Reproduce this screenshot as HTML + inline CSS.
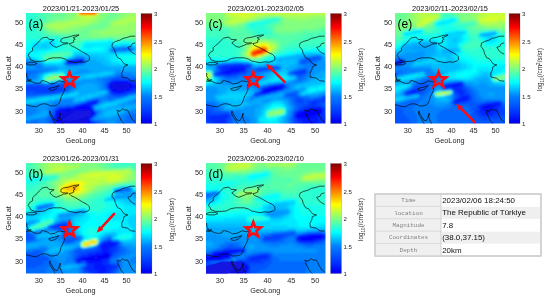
<!DOCTYPE html><html><head><meta charset="utf-8"><title>figure</title><style>html,body{margin:0;padding:0;background:#fff}svg{display:block}text{font-family:"Liberation Sans",sans-serif;fill:#262626}.m{font-family:"Liberation Mono",monospace;fill:#777}</style></head><body>
<svg width="550" height="299" viewBox="0 0 550 299">
<defs><filter id="bl" x="-5%" y="-5%" width="110%" height="110%"><feGaussianBlur stdDeviation="1.3"/></filter><filter id="bl2" x="-10%" y="-10%" width="120%" height="120%"><feGaussianBlur stdDeviation="0.5"/></filter>
<linearGradient id="jet" x1="0" y1="1" x2="0" y2="0">
<stop offset="0" stop-color="#0c0ce0"/>
<stop offset="0.015" stop-color="#0000f5"/>
<stop offset="0.125" stop-color="#0040ff"/>
<stop offset="0.25" stop-color="#0080ff"/>
<stop offset="0.375" stop-color="#00ffff"/>
<stop offset="0.5" stop-color="#80ff80"/>
<stop offset="0.625" stop-color="#ffff00"/>
<stop offset="0.75" stop-color="#ff8000"/>
<stop offset="0.875" stop-color="#ff0000"/>
<stop offset="1" stop-color="#800000"/>
</linearGradient>
<clipPath id="cla"><rect x="0" y="0" width="110" height="110.5"/></clipPath>
<clipPath id="clb"><rect x="0" y="0" width="110" height="110.5"/></clipPath>
<clipPath id="clc"><rect x="0" y="0" width="119.5" height="110.5"/></clipPath>
<clipPath id="cld"><rect x="0" y="0" width="119.5" height="110.5"/></clipPath>
<clipPath id="cle"><rect x="0" y="0" width="110" height="110.5"/></clipPath>
</defs>
<rect width="550" height="299" fill="#fff"/>
<g transform="translate(26,13)" clip-path="url(#cla)">
<g filter="url(#bl)" shape-rendering="crispEdges">
<rect x="-4" y="-4" width="118" height="118.5" fill="#00bdff"/>
<path fill="#0e0ee1" d="M46 106.5H52V108.5H46zM44 108.5H54V114.5H44z"/>
<path fill="#0e0ee1" d="M50 100.5H54V102.5H50zM42 102.5H56V104.5H42zM40 104.5H56V106.5H40zM40 106.5H46V108.5H40zM52 106.5H56V108.5H52zM40 108.5H44V114.5H40zM54 108.5H56V114.5H54z"/>
<path fill="#0d0de2" d="M92 70.32H98V72.33H92zM86 72.33H104V74.34H86zM88 74.34H102V76.35H88zM36 98.45H64V100.5H36zM34 100.5H50V102.5H34zM54 100.5H64V102.5H54zM34 102.5H42V104.5H34zM56 102.5H62V104.5H56zM34 104.5H40V106.5H34zM56 104.5H62V106.5H56zM36 106.5H40V108.5H36zM56 106.5H60V108.5H56zM38 108.5H40V114.5H38zM56 108.5H60V114.5H56z"/>
<path fill="#0909ec" d="M86 70.32H92V72.33H86zM98 70.32H104V72.33H98zM84 72.33H86V74.34H84zM86 74.34H88V76.35H86zM102 74.34H104V76.35H102zM90 76.35H100V78.35H90zM44 96.44H64V98.45H44zM32 98.45H36V100.5H32zM64 98.45H66V100.5H64zM32 100.5H34V102.5H32zM64 100.5H66V102.5H64zM32 102.5H34V104.5H32zM62 102.5H64V104.5H62zM32 104.5H34V106.5H32zM34 106.5H36V108.5H34zM60 106.5H62V108.5H60zM34 108.5H38V114.5H34zM60 108.5H62V114.5H60z"/>
<path fill="#0404f5" d="M84 70.32H86V72.33H84zM104 72.33H106V74.34H104zM84 74.34H86V76.35H84zM104 74.34H106V76.35H104zM86 76.35H90V78.35H86zM100 76.35H102V78.35H100zM34 96.44H44V98.45H34zM64 96.44H66V98.45H64zM66 98.45H68V100.5H66zM30 100.5H32V102.5H30zM66 100.5H68V102.5H66zM30 102.5H32V104.5H30zM62 104.5H64V106.5H62zM32 106.5H34V108.5H32z"/>
<path fill="#0000ff" d="M54 46.21H56V48.22H54zM42 48.22H54V50.23H42zM88 68.31H102V70.32H88zM104 70.32H106V72.33H104zM102 76.35H104V78.35H102zM90 78.35H98V80.36H90zM54 92.42H60V94.43H54zM48 94.43H64V96.44H48zM32 96.44H34V98.45H32zM30 98.45H32V100.5H30zM64 102.5H66V104.5H64zM30 104.5H32V106.5H30zM30 106.5H32V108.5H30zM62 106.5H64V108.5H62zM32 108.5H34V114.5H32zM62 108.5H64V114.5H62z"/>
<path fill="#0015ff" d="M50 46.21H54V48.22H50zM56 46.21H58V48.22H56zM40 48.22H42V50.23H40zM54 48.22H58V50.23H54zM86 68.31H88V70.32H86zM102 68.31H104V70.32H102zM106 70.32H108V72.33H106zM82 72.33H84V74.34H82zM106 72.33H114V74.34H106zM82 74.34H84V76.35H82zM106 74.34H114V76.35H106zM84 76.35H86V78.35H84zM104 76.35H106V78.35H104zM86 78.35H90V80.36H86zM98 78.35H100V80.36H98zM66 88.4H72V90.41H66zM58 90.41H68V92.42H58zM50 92.42H54V94.43H50zM60 92.42H64V94.43H60zM40 94.43H48V96.44H40zM64 94.43H66V96.44H64zM66 96.44H68V98.45H66zM30 108.5H32V114.5H30zM64 108.5H66V114.5H64z"/>
<path fill="#002aff" d="M46 46.21H50V48.22H46zM40 50.23H46V52.24H40zM84 68.31H86V70.32H84zM104 68.31H106V70.32H104zM82 70.32H84V72.33H82zM108 70.32H114V72.33H108zM106 76.35H108V78.35H106zM84 78.35H86V80.36H84zM100 78.35H104V80.36H100zM88 80.36H96V82.37H88zM62 88.4H66V90.41H62zM56 90.41H58V92.42H56zM68 90.41H70V92.42H68zM48 92.42H50V94.43H48zM64 92.42H66V94.43H64zM34 94.43H40V96.44H34zM30 96.44H32V98.45H30zM68 98.45H70V100.5H68zM28 100.5H30V102.5H28zM68 100.5H70V102.5H68zM28 102.5H30V104.5H28zM28 104.5H30V106.5H28zM28 106.5H30V108.5H28zM28 108.5H30V114.5H28zM66 108.5H68V114.5H66z"/>
<path fill="#0040ff" d="M44 46.21H46V48.22H44zM46 50.23H50V52.24H46zM86 66.3H104V68.31H86zM106 68.31H114V70.32H106zM-4 72.33H16V74.34H-4zM-4 74.34H38V76.35H-4zM-4 76.35H38V78.35H-4zM82 76.35H84V78.35H82zM108 76.35H114V78.35H108zM8 78.35H34V80.36H8zM104 78.35H114V80.36H104zM84 80.36H88V82.37H84zM96 80.36H102V82.37H96zM68 86.39H72V88.4H68zM60 88.4H62V90.41H60zM54 90.41H56V92.42H54zM70 90.41H72V92.42H70zM32 94.43H34V96.44H32zM28 98.45H30V100.5H28zM66 102.5H68V104.5H66zM26 104.5H28V106.5H26zM26 106.5H28V108.5H26zM64 106.5H66V108.5H64zM26 108.5H28V114.5H26zM68 108.5H70V114.5H68z"/>
<path fill="#0055ff" d="M42 46.21H44V48.22H42zM50 50.23H52V52.24H50zM88 64.29H100V66.3H88zM84 66.3H86V68.31H84zM104 66.3H114V68.31H104zM82 68.31H84V70.32H82zM34 70.32H42V72.33H34zM80 70.32H82V72.33H80zM16 72.33H44V74.34H16zM80 72.33H82V74.34H80zM38 74.34H44V76.35H38zM80 74.34H82V76.35H80zM38 76.35H42V78.35H38zM-4 78.35H8V80.36H-4zM34 78.35H38V80.36H34zM-4 80.36H28V82.37H-4zM102 80.36H106V82.37H102zM86 82.37H100V84.38H86zM66 86.39H68V88.4H66zM72 88.4H74V90.41H72zM52 90.41H54V92.42H52zM40 92.42H48V94.43H40zM66 92.42H68V94.43H66zM30 94.43H32V96.44H30zM66 94.43H68V96.44H66zM28 96.44H30V98.45H28zM26 100.5H28V102.5H26zM26 102.5H28V104.5H26zM24 104.5H26V106.5H24zM64 104.5H66V106.5H64zM24 106.5H26V108.5H24zM66 106.5H68V108.5H66zM24 108.5H26V114.5H24zM70 108.5H72V114.5H70z"/>
<path fill="#006aff" d="M98 34.15H106V36.16H98zM86 36.16H106V38.17H86zM54 44.2H58V46.21H54zM52 50.23H56V52.24H52zM-4 58.26H12V60.27H-4zM-4 60.27H6V62.28H-4zM-4 62.28H2V64.29H-4zM90 62.28H98V64.29H90zM-4 64.29H4V66.3H-4zM82 64.29H88V66.3H82zM100 64.29H114V66.3H100zM78 66.3H84V68.31H78zM38 68.31H44V70.32H38zM78 68.31H82V70.32H78zM2 70.32H18V72.33H2zM24 70.32H34V72.33H24zM42 70.32H46V72.33H42zM78 70.32H80V72.33H78zM44 72.33H46V74.34H44zM78 72.33H80V74.34H78zM44 74.34H46V76.35H44zM78 74.34H80V76.35H78zM42 76.35H44V78.35H42zM38 78.35H42V80.36H38zM82 78.35H84V80.36H82zM28 80.36H30V82.37H28zM82 80.36H84V82.37H82zM106 80.36H108V82.37H106zM-4 82.37H12V84.38H-4zM80 82.37H86V84.38H80zM100 82.37H102V84.38H100zM82 84.38H94V86.39H82zM64 86.39H66V88.4H64zM72 86.39H74V88.4H72zM82 86.39H86V88.4H82zM58 88.4H60V90.41H58zM50 90.41H52V92.42H50zM32 92.42H40V94.43H32zM28 94.43H30V96.44H28zM26 96.44H28V98.45H26zM24 98.45H28V100.5H24zM70 98.45H72V100.5H70zM24 100.5H26V102.5H24zM104 100.5H114V102.5H104zM22 102.5H26V104.5H22zM100 102.5H114V104.5H100zM20 104.5H24V106.5H20zM100 104.5H114V106.5H100zM6 106.5H12V108.5H6zM20 106.5H24V108.5H20zM68 106.5H74V108.5H68zM98 106.5H114V108.5H98zM-4 108.5H12V114.5H-4zM20 108.5H24V114.5H20zM72 108.5H76V114.5H72zM98 108.5H114V114.5H98z"/>
<path fill="#0080ff" d="M90 34.15H98V36.16H90zM106 34.15H108V36.16H106zM84 36.16H86V38.17H84zM106 36.16H108V38.17H106zM50 44.2H54V46.21H50zM40 46.21H42V48.22H40zM58 46.21H60V48.22H58zM-4 48.22H6V50.23H-4zM58 48.22H60V50.23H58zM2 50.23H14V52.24H2zM56 50.23H58V52.24H56zM8 52.24H16V54.25H8zM10 54.25H16V56.25H10zM-4 56.25H26V58.26H-4zM12 58.26H18V60.27H12zM6 60.27H12V62.28H6zM90 60.27H106V62.28H90zM2 62.28H10V64.29H2zM86 62.28H90V64.29H86zM98 62.28H114V64.29H98zM4 64.29H10V66.3H4zM76 64.29H82V66.3H76zM70 66.3H78V68.31H70zM34 68.31H38V70.32H34zM44 68.31H48V70.32H44zM74 68.31H78V70.32H74zM-4 70.32H2V72.33H-4zM18 70.32H24V72.33H18zM46 70.32H50V72.33H46zM74 70.32H78V72.33H74zM46 72.33H48V74.34H46zM76 72.33H78V74.34H76zM46 74.34H48V76.35H46zM76 74.34H78V76.35H76zM44 76.35H48V78.35H44zM80 76.35H82V78.35H80zM42 78.35H44V80.36H42zM30 80.36H34V82.37H30zM108 80.36H114V82.37H108zM12 82.37H18V84.38H12zM78 82.37H80V84.38H78zM-4 84.38H2V86.39H-4zM70 84.38H82V86.39H70zM94 84.38H96V86.39H94zM36 86.39H46V88.4H36zM62 86.39H64V88.4H62zM74 86.39H82V88.4H74zM86 86.39H88V88.4H86zM108 86.39H114V88.4H108zM28 88.4H46V90.41H28zM56 88.4H58V90.41H56zM74 88.4H76V90.41H74zM104 88.4H114V90.41H104zM26 90.41H50V92.42H26zM-4 92.42H6V94.43H-4zM24 92.42H32V94.43H24zM-4 94.43H8V96.44H-4zM22 94.43H28V96.44H22zM-4 96.44H12V98.45H-4zM22 96.44H26V98.45H22zM68 96.44H70V98.45H68zM108 96.44H114V98.45H108zM-4 98.45H10V100.5H-4zM22 98.45H24V100.5H22zM72 98.45H74V100.5H72zM100 98.45H114V100.5H100zM-4 100.5H6V102.5H-4zM22 100.5H24V102.5H22zM70 100.5H72V102.5H70zM96 100.5H104V102.5H96zM20 102.5H22V104.5H20zM68 102.5H70V104.5H68zM92 102.5H100V104.5H92zM10 104.5H20V106.5H10zM66 104.5H68V106.5H66zM92 104.5H100V106.5H92zM-4 106.5H6V108.5H-4zM12 106.5H20V108.5H12zM74 106.5H80V108.5H74zM90 106.5H98V108.5H90zM12 108.5H20V114.5H12zM76 108.5H80V114.5H76zM90 108.5H98V114.5H90z"/>
<path fill="#0095ff" d="M86 34.15H90V36.16H86zM86 38.17H92V40.18H86zM48 44.2H50V46.21H48zM-4 46.21H4V48.22H-4zM6 48.22H12V50.23H6zM38 48.22H40V50.23H38zM-4 50.23H2V52.24H-4zM14 50.23H16V52.24H14zM38 50.23H40V52.24H38zM58 50.23H60V52.24H58zM-4 52.24H8V54.25H-4zM16 52.24H18V54.25H16zM40 52.24H54V54.25H40zM-4 54.25H10V56.25H-4zM16 54.25H32V56.25H16zM26 56.25H32V58.26H26zM52 56.25H62V58.26H52zM90 56.25H94V58.26H90zM18 58.26H22V60.27H18zM48 58.26H66V60.27H48zM90 58.26H114V60.27H90zM12 60.27H16V62.28H12zM46 60.27H56V62.28H46zM88 60.27H90V62.28H88zM106 60.27H114V62.28H106zM10 62.28H12V64.29H10zM46 62.28H48V64.29H46zM82 62.28H86V64.29H82zM10 64.29H12V66.3H10zM44 64.29H46V66.3H44zM70 64.29H76V66.3H70zM-4 66.3H8V68.31H-4zM38 66.3H48V68.31H38zM56 66.3H70V68.31H56zM32 68.31H34V70.32H32zM48 68.31H74V70.32H48zM50 70.32H58V72.33H50zM68 70.32H74V72.33H68zM48 72.33H54V74.34H48zM72 72.33H76V74.34H72zM48 74.34H52V76.35H48zM72 74.34H76V76.35H72zM48 76.35H50V78.35H48zM72 76.35H80V78.35H72zM44 78.35H46V80.36H44zM34 80.36H36V82.37H34zM80 80.36H82V82.37H80zM18 82.37H22V84.38H18zM74 82.37H78V84.38H74zM102 82.37H104V84.38H102zM2 84.38H8V86.39H2zM44 84.38H48V86.39H44zM68 84.38H70V86.39H68zM96 84.38H98V86.39H96zM30 86.39H36V88.4H30zM46 86.39H48V88.4H46zM60 86.39H62V88.4H60zM88 86.39H90V88.4H88zM106 86.39H108V88.4H106zM22 88.4H28V90.41H22zM46 88.4H48V90.41H46zM52 88.4H56V90.41H52zM76 88.4H80V90.41H76zM100 88.4H104V90.41H100zM8 90.41H26V92.42H8zM72 90.41H74V92.42H72zM96 90.41H108V92.42H96zM6 92.42H24V94.43H6zM68 92.42H70V94.43H68zM94 92.42H100V94.43H94zM8 94.43H22V96.44H8zM12 96.44H22V98.45H12zM70 96.44H76V98.45H70zM104 96.44H108V98.45H104zM10 98.45H16V100.5H10zM74 98.45H76V100.5H74zM98 98.45H100V100.5H98zM6 100.5H10V102.5H6zM72 100.5H74V102.5H72zM92 100.5H96V102.5H92zM-4 102.5H4V104.5H-4zM16 102.5H20V104.5H16zM70 102.5H72V104.5H70zM86 102.5H92V104.5H86zM4 104.5H10V106.5H4zM68 104.5H92V106.5H68zM80 106.5H90V108.5H80zM80 108.5H90V114.5H80z"/>
<path fill="#00aaff" d="M84 34.15H86V36.16H84zM84 38.17H86V40.18H84zM92 38.17H100V40.18H92zM50 42.19H58V44.2H50zM46 44.2H48V46.21H46zM58 44.2H64V46.21H58zM4 46.21H8V48.22H4zM60 46.21H70V48.22H60zM12 48.22H14V50.23H12zM60 48.22H74V50.23H60zM16 50.23H18V52.24H16zM60 50.23H76V52.24H60zM18 52.24H30V54.25H18zM38 52.24H40V54.25H38zM54 52.24H80V54.25H54zM32 54.25H114V56.25H32zM40 56.25H52V58.26H40zM62 56.25H90V58.26H62zM94 56.25H114V58.26H94zM22 58.26H24V60.27H22zM42 58.26H48V60.27H42zM66 58.26H76V60.27H66zM88 58.26H90V60.27H88zM42 60.27H46V62.28H42zM56 60.27H62V62.28H56zM12 62.28H14V64.29H12zM42 62.28H46V64.29H42zM78 62.28H82V64.29H78zM12 64.29H14V66.3H12zM40 64.29H44V66.3H40zM46 64.29H48V66.3H46zM66 64.29H70V66.3H66zM8 66.3H12V68.31H8zM36 66.3H38V68.31H36zM48 66.3H56V68.31H48zM-4 68.31H14V70.32H-4zM28 68.31H32V70.32H28zM58 70.32H68V72.33H58zM54 72.33H72V74.34H54zM52 74.34H72V76.35H52zM50 76.35H72V78.35H50zM46 78.35H48V80.36H46zM52 78.35H70V80.36H52zM80 78.35H82V80.36H80zM36 80.36H40V82.37H36zM54 80.36H62V82.37H54zM78 80.36H80V82.37H78zM22 82.37H26V84.38H22zM52 82.37H56V84.38H52zM72 82.37H74V84.38H72zM104 82.37H108V84.38H104zM8 84.38H12V86.39H8zM38 84.38H44V86.39H38zM48 84.38H50V86.39H48zM64 84.38H68V86.39H64zM98 84.38H100V86.39H98zM108 84.38H114V86.39H108zM28 86.39H30V88.4H28zM58 86.39H60V88.4H58zM90 86.39H92V88.4H90zM102 86.39H106V88.4H102zM18 88.4H22V90.41H18zM48 88.4H52V90.41H48zM80 88.4H86V90.41H80zM98 88.4H100V90.41H98zM2 90.41H8V92.42H2zM74 90.41H76V92.42H74zM92 90.41H96V92.42H92zM108 90.41H114V92.42H108zM70 92.42H72V94.43H70zM88 92.42H94V94.43H88zM100 92.42H114V94.43H100zM68 94.43H70V96.44H68zM80 94.43H100V96.44H80zM102 94.43H114V96.44H102zM76 96.44H86V98.45H76zM98 96.44H104V98.45H98zM16 98.45H22V100.5H16zM76 98.45H80V100.5H76zM94 98.45H98V100.5H94zM10 100.5H22V102.5H10zM74 100.5H78V102.5H74zM88 100.5H92V102.5H88zM4 102.5H16V104.5H4zM72 102.5H86V104.5H72zM-4 104.5H4V106.5H-4z"/>
<path fill="#00bfff" d="M16 32.15H20V34.15H16zM94 32.15H106V34.15H94zM108 34.15H114V36.16H108zM82 36.16H84V38.17H82zM108 36.16H114V38.17H108zM100 38.17H106V40.18H100zM54 40.18H56V42.19H54zM48 42.19H50V44.2H48zM58 42.19H72V44.2H58zM-4 44.2H4V46.21H-4zM44 44.2H46V46.21H44zM64 44.2H78V46.21H64zM8 46.21H10V48.22H8zM70 46.21H80V48.22H70zM14 48.22H16V50.23H14zM74 48.22H82V50.23H74zM36 50.23H38V52.24H36zM76 50.23H84V52.24H76zM30 52.24H38V54.25H30zM80 52.24H114V54.25H80zM32 56.25H40V58.26H32zM24 58.26H28V60.27H24zM38 58.26H42V60.27H38zM76 58.26H88V60.27H76zM16 60.27H18V62.28H16zM40 60.27H42V62.28H40zM62 60.27H72V62.28H62zM84 60.27H88V62.28H84zM14 62.28H16V64.29H14zM40 62.28H42V64.29H40zM48 62.28H60V64.29H48zM70 62.28H78V64.29H70zM14 64.29H16V66.3H14zM48 64.29H50V66.3H48zM54 64.29H66V66.3H54zM12 66.3H16V68.31H12zM14 68.31H18V70.32H14zM26 68.31H28V70.32H26zM48 78.35H52V80.36H48zM70 78.35H80V80.36H70zM40 80.36H44V82.37H40zM52 80.36H54V82.37H52zM62 80.36H78V82.37H62zM26 82.37H32V84.38H26zM48 82.37H52V84.38H48zM56 82.37H62V84.38H56zM66 82.37H72V84.38H66zM108 82.37H114V84.38H108zM12 84.38H16V86.39H12zM32 84.38H38V86.39H32zM50 84.38H56V86.39H50zM58 84.38H64V86.39H58zM100 84.38H108V86.39H100zM-4 86.39H4V88.4H-4zM22 86.39H28V88.4H22zM48 86.39H58V88.4H48zM92 86.39H102V88.4H92zM10 88.4H18V90.41H10zM86 88.4H90V90.41H86zM92 88.4H98V90.41H92zM-4 90.41H2V92.42H-4zM76 90.41H80V92.42H76zM88 90.41H92V92.42H88zM72 92.42H76V94.43H72zM82 92.42H88V94.43H82zM70 94.43H80V96.44H70zM100 94.43H102V96.44H100zM86 96.44H98V98.45H86zM80 98.45H94V100.5H80zM78 100.5H88V102.5H78z"/>
<path fill="#00d4ff" d="M20 28.13H28V30.14H20zM8 30.14H28V32.15H8zM8 32.15H16V34.15H8zM20 32.15H28V34.15H20zM84 32.15H94V34.15H84zM106 32.15H114V34.15H106zM8 34.15H24V36.16H8zM82 34.15H84V36.16H82zM80 38.17H84V40.18H80zM106 38.17H114V40.18H106zM48 40.18H54V42.19H48zM56 40.18H92V42.19H56zM46 42.19H48V44.2H46zM72 42.19H84V44.2H72zM4 44.2H6V46.21H4zM42 44.2H44V46.21H42zM78 44.2H84V46.21H78zM10 46.21H12V48.22H10zM38 46.21H40V48.22H38zM80 46.21H84V48.22H80zM16 48.22H18V50.23H16zM36 48.22H38V50.23H36zM82 48.22H86V50.23H82zM18 50.23H36V52.24H18zM84 50.23H94V52.24H84zM28 58.26H32V60.27H28zM34 58.26H38V60.27H34zM18 60.27H20V62.28H18zM38 60.27H40V62.28H38zM72 60.27H84V62.28H72zM16 62.28H18V64.29H16zM60 62.28H70V64.29H60zM38 64.29H40V66.3H38zM50 64.29H54V66.3H50zM34 66.3H36V68.31H34zM24 68.31H26V70.32H24zM44 80.36H52V82.37H44zM32 82.37H48V84.38H32zM62 82.37H66V84.38H62zM16 84.38H32V86.39H16zM56 84.38H58V86.39H56zM4 86.39H22V88.4H4zM-4 88.4H10V90.41H-4zM90 88.4H92V90.41H90zM80 90.41H88V92.42H80zM76 92.42H82V94.43H76z"/>
<path fill="#00eaff" d="M10 28.13H20V30.14H10zM28 28.13H30V30.14H28zM82 28.13H86V30.14H82zM6 30.14H8V32.15H6zM28 30.14H30V32.15H28zM58 30.14H88V32.15H58zM94 30.14H104V32.15H94zM6 32.15H8V34.15H6zM28 32.15H30V34.15H28zM58 32.15H84V34.15H58zM6 34.15H8V36.16H6zM24 34.15H28V36.16H24zM58 34.15H66V36.16H58zM78 34.15H82V36.16H78zM6 36.16H22V38.17H6zM76 36.16H82V38.17H76zM6 38.17H12V40.18H6zM48 38.17H80V40.18H48zM-4 40.18H4V42.19H-4zM92 40.18H114V42.19H92zM-4 42.19H6V44.2H-4zM84 42.19H92V44.2H84zM6 44.2H10V46.21H6zM84 44.2H90V46.21H84zM12 46.21H14V48.22H12zM84 46.21H90V48.22H84zM34 48.22H36V50.23H34zM86 48.22H94V50.23H86zM94 50.23H114V52.24H94zM32 58.26H34V60.27H32zM20 60.27H22V62.28H20zM16 64.29H18V66.3H16zM16 66.3H18V68.31H16z"/>
<path fill="#00ffff" d="M18 26.12H28V28.13H18zM6 28.13H10V30.14H6zM30 28.13H32V30.14H30zM64 28.13H82V30.14H64zM86 28.13H88V30.14H86zM4 30.14H6V32.15H4zM30 30.14H32V32.15H30zM56 30.14H58V32.15H56zM88 30.14H94V32.15H88zM104 30.14H114V32.15H104zM-4 32.15H6V34.15H-4zM30 32.15H32V34.15H30zM56 32.15H58V34.15H56zM-4 34.15H6V36.16H-4zM28 34.15H32V36.16H28zM56 34.15H58V36.16H56zM66 34.15H78V36.16H66zM-4 36.16H6V38.17H-4zM22 36.16H28V38.17H22zM52 36.16H76V38.17H52zM-4 38.17H6V40.18H-4zM12 38.17H20V40.18H12zM46 38.17H48V40.18H46zM4 40.18H14V42.19H4zM46 40.18H48V42.19H46zM6 42.19H12V44.2H6zM92 42.19H114V44.2H92zM10 44.2H14V46.21H10zM40 44.2H42V46.21H40zM90 44.2H96V46.21H90zM14 46.21H16V48.22H14zM36 46.21H38V48.22H36zM90 46.21H100V48.22H90zM102 46.21H114V48.22H102zM18 48.22H34V50.23H18zM94 48.22H114V50.23H94zM22 60.27H24V62.28H22zM18 62.28H20V64.29H18zM38 62.28H40V64.29H38zM32 66.3H34V68.31H32zM18 68.31H24V70.32H18z"/>
<path fill="#15ffea" d="M-4 26.12H18V28.13H-4zM28 26.12H34V28.13H28zM82 26.12H86V28.13H82zM-4 28.13H6V30.14H-4zM32 28.13H36V30.14H32zM58 28.13H64V30.14H58zM94 28.13H104V30.14H94zM-4 30.14H4V32.15H-4zM32 30.14H38V32.15H32zM32 32.15H38V34.15H32zM32 34.15H38V36.16H32zM54 34.15H56V36.16H54zM28 36.16H34V38.17H28zM42 36.16H52V38.17H42zM20 38.17H26V40.18H20zM14 40.18H18V42.19H14zM12 42.19H16V44.2H12zM44 42.19H46V44.2H44zM14 44.2H16V46.21H14zM38 44.2H40V46.21H38zM96 44.2H114V46.21H96zM16 46.21H18V48.22H16zM32 46.21H36V48.22H32zM100 46.21H102V48.22H100zM24 60.27H26V62.28H24z"/>
<path fill="#2bffd4" d="M-4 -4H10V2.009H-4zM-4 2.009H10V4.018H-4zM-4 4.018H10V6.027H-4zM-4 6.027H10V8.036H-4zM-4 8.036H10V10.05H-4zM-4 10.05H10V12.05H-4zM-4 12.05H10V14.06H-4zM-4 14.06H10V16.07H-4zM-4 16.07H10V18.08H-4zM-4 18.08H12V20.09H-4zM-4 20.09H14V22.1H-4zM-4 22.1H18V24.11H-4zM-4 24.11H36V26.12H-4zM34 26.12H40V28.13H34zM72 26.12H82V28.13H72zM86 26.12H88V28.13H86zM36 28.13H42V30.14H36zM56 28.13H58V30.14H56zM88 28.13H94V30.14H88zM104 28.13H114V30.14H104zM38 30.14H44V32.15H38zM54 30.14H56V32.15H54zM38 32.15H50V34.15H38zM52 32.15H56V34.15H52zM38 34.15H54V36.16H38zM34 36.16H42V38.17H34zM26 38.17H40V40.18H26zM44 38.17H46V40.18H44zM18 40.18H22V42.19H18zM16 42.19H18V44.2H16zM42 42.19H44V44.2H42zM16 44.2H18V46.21H16zM36 44.2H38V46.21H36zM28 46.21H32V48.22H28zM26 60.27H34V62.28H26zM20 62.28H22V64.29H20zM36 64.29H38V66.3H36zM30 66.3H32V68.31H30z"/>
<path fill="#40ffbf" d="M10 -4H18V2.009H10zM10 2.009H18V4.018H10zM10 4.018H18V6.027H10zM10 6.027H18V8.036H10zM10 8.036H16V10.05H10zM10 10.05H16V12.05H10zM10 12.05H16V14.06H10zM10 14.06H16V16.07H10zM10 16.07H16V18.08H10zM12 18.08H18V20.09H12zM14 20.09H20V22.1H14zM18 22.1H36V24.11H18zM36 24.11H44V26.12H36zM40 26.12H48V28.13H40zM58 26.12H72V28.13H58zM94 26.12H114V28.13H94zM42 28.13H50V30.14H42zM54 28.13H56V30.14H54zM44 30.14H54V32.15H44zM50 32.15H52V34.15H50zM40 38.17H44V40.18H40zM22 40.18H28V42.19H22zM42 40.18H46V42.19H42zM18 42.19H20V44.2H18zM38 42.19H42V44.2H38zM34 44.2H36V46.21H34zM18 46.21H28V48.22H18zM34 60.27H38V62.28H34zM22 62.28H24V64.29H22zM18 64.29H20V66.3H18z"/>
<path fill="#55ffaa" d="M18 -4H26V2.009H18zM18 2.009H26V4.018H18zM18 4.018H24V6.027H18zM18 6.027H22V8.036H18zM16 8.036H20V10.05H16zM16 10.05H18V12.05H16zM16 14.06H18V16.07H16zM16 16.07H20V18.08H16zM18 18.08H22V20.09H18zM20 20.09H30V22.1H20zM36 22.1H50V24.11H36zM44 24.11H54V26.12H44zM82 24.11H86V26.12H82zM48 26.12H58V28.13H48zM88 26.12H94V28.13H88zM50 28.13H54V30.14H50zM28 40.18H42V42.19H28zM20 42.19H38V44.2H20zM18 44.2H34V46.21H18zM34 64.29H36V66.3H34zM18 66.3H20V68.31H18zM28 66.3H30V68.31H28z"/>
<path fill="#6aff95" d="M26 -4H40V2.009H26zM82 -4H90V2.009H82zM26 2.009H40V4.018H26zM82 2.009H90V4.018H82zM24 4.018H38V6.027H24zM80 4.018H88V6.027H80zM22 6.027H30V8.036H22zM80 6.027H84V8.036H80zM20 8.036H24V10.05H20zM76 8.036H82V10.05H76zM72 10.05H82V12.05H72zM16 12.05H18V14.06H16zM66 12.05H82V14.06H66zM60 14.06H76V16.07H60zM20 16.07H22V18.08H20zM56 16.07H64V18.08H56zM22 18.08H26V20.09H22zM48 18.08H62V20.09H48zM30 20.09H62V22.1H30zM50 22.1H64V24.11H50zM54 24.11H82V26.12H54zM86 24.11H114V26.12H86zM24 62.28H28V64.29H24zM36 62.28H38V64.29H36zM20 64.29H22V66.3H20zM20 66.3H22V68.31H20zM26 66.3H28V68.31H26z"/>
<path fill="#80ff80" d="M40 -4H48V2.009H40zM74 -4H82V2.009H74zM90 -4H100V2.009H90zM40 2.009H48V4.018H40zM74 2.009H82V4.018H74zM90 2.009H98V4.018H90zM38 4.018H46V6.027H38zM74 4.018H80V6.027H74zM88 4.018H94V6.027H88zM30 6.027H44V8.036H30zM72 6.027H80V8.036H72zM84 6.027H90V8.036H84zM24 8.036H30V10.05H24zM70 8.036H76V10.05H70zM82 8.036H86V10.05H82zM18 10.05H22V12.05H18zM64 10.05H72V12.05H64zM82 10.05H84V12.05H82zM56 12.05H66V14.06H56zM82 12.05H84V14.06H82zM18 14.06H22V16.07H18zM48 14.06H60V16.07H48zM76 14.06H84V16.07H76zM22 16.07H28V18.08H22zM42 16.07H56V18.08H42zM64 16.07H80V18.08H64zM26 18.08H48V20.09H26zM62 18.08H74V20.09H62zM108 18.08H114V20.09H108zM62 20.09H74V22.1H62zM98 20.09H114V22.1H98zM64 22.1H114V24.11H64zM28 62.28H36V64.29H28zM22 64.29H24V66.3H22zM32 64.29H34V66.3H32zM22 66.3H26V68.31H22z"/>
<path fill="#95ff6a" d="M48 -4H52V2.009H48zM72 -4H74V2.009H72zM100 -4H108V2.009H100zM48 2.009H52V4.018H48zM72 2.009H74V4.018H72zM98 2.009H104V4.018H98zM46 4.018H52V6.027H46zM70 4.018H74V6.027H70zM94 4.018H100V6.027H94zM44 6.027H50V8.036H44zM68 6.027H72V8.036H68zM90 6.027H96V8.036H90zM30 8.036H40V10.05H30zM64 8.036H70V10.05H64zM86 8.036H90V10.05H86zM108 8.036H114V10.05H108zM22 10.05H26V12.05H22zM60 10.05H64V12.05H60zM84 10.05H86V12.05H84zM100 10.05H114V12.05H100zM18 12.05H22V14.06H18zM44 12.05H56V14.06H44zM84 12.05H114V14.06H84zM22 14.06H30V16.07H22zM36 14.06H48V16.07H36zM84 14.06H114V16.07H84zM28 16.07H42V18.08H28zM80 16.07H114V18.08H80zM74 18.08H108V20.09H74zM74 20.09H98V22.1H74zM24 64.29H32V66.3H24z"/>
<path fill="#aaff55" d="M108 -4H114V2.009H108zM52 2.009H54V4.018H52zM70 2.009H72V4.018H70zM104 2.009H114V4.018H104zM52 4.018H60V6.027H52zM62 4.018H70V6.027H62zM100 4.018H114V6.027H100zM50 6.027H68V8.036H50zM96 6.027H114V8.036H96zM40 8.036H64V10.05H40zM90 8.036H108V10.05H90zM26 10.05H60V12.05H26zM86 10.05H100V12.05H86zM22 12.05H44V14.06H22zM30 14.06H36V16.07H30z"/>
<path fill="#bfff40" d="M54 2.009H58V4.018H54zM66 2.009H70V4.018H66zM60 4.018H62V6.027H60z"/>
<path fill="#d5ff2a" d="M58 2.009H66V4.018H58z"/>
<path fill="#ffd500" d="M52 -4H54V2.009H52zM70 -4H72V2.009H70z"/>
<path fill="#ff6a00" d="M54 -4H70V2.009H54z"/>
</g>
<polygon points="48,98 65,97.4 65,103 46.5,108.2 34,107.6" fill="#1212e2" filter="url(#bl2)"/>
<path d="M8.8 48.4L4.4 46.6L4.0 44.8L2.2 42.6L3.6 39.6L6.6 37.8L6.6 34.7L8.8 32.5L11.4 30.3L13.6 27.6L16.3 25.0L21.1 24.1L22.9 26.3L28.1 26.8L25.9 28.1L23.7 29.9L27.7 33.4L30.3 34.3L35.6 32.1L37.3 31.2L41.3 30.7L42.1 29.9L36.9 29.9L34.7 28.5L35.1 26.3L37.3 25.0L42.6 24.1L47.9 22.4L53.1 21.9L50.0 23.7L47.0 24.6L49.2 26.3L47.4 27.2L47.9 29.0L46.1 29.9L43.0 30.7L44.8 32.5L48.7 34.3L53.1 36.9L56.6 39.1L61.0 41.3L63.2 43.5L63.6 46.6L61.9 47.9L57.9 49.3L54.4 48.8L49.6 49.7L45.7 48.8L41.7 47.9L39.5 46.2L35.1 44.8L30.3 44.8L27.2 44.8L22.9 45.7L18.9 47.9L14.1 48.4L8.8 48.4M-0.4 51.0L2.2 51.9L7.9 51.9L11.0 50.4L8.4 49.3L4.0 49.3L1.4 50.1L-0.4 50.8M109.3 23.2L104.9 23.2L100.5 24.6L97.0 25.4L93.9 27.2L89.5 28.5L86.4 30.3L86.0 33.4L88.6 36.9L89.5 40.4L91.7 44.8L94.3 45.7L97.0 49.3L98.3 51.0L101.8 51.9L97.9 53.7L97.4 56.7L95.7 60.3L96.1 64.2L101.4 65.1L104.9 67.8L109.3 68.2M109.3 29.9L106.2 30.7L104.9 33.4L101.8 34.3L104.4 38.2L106.2 39.6L109.3 41.3M-0.4 68.2L4.9 68.2L8.8 70.0L11.4 70.4L14.5 70.0L15.4 67.8L17.1 67.6L21.5 69.1L24.2 70.9L28.6 70.4L32.9 67.8L37.3 68.7L40.0 67.8L39.1 70.0L38.2 72.2L38.6 75.7L38.2 77.9L36.9 80.6L35.1 84.1L34.3 87.6L32.5 91.1L31.2 92.0L28.1 92.9L24.2 92.9L22.9 92.0L20.7 91.1L17.1 90.7L14.1 91.6L10.6 93.8L6.2 93.3L-0.4 91.6M23.9 97.8L23.3 100.0L24.6 103.0L26.8 106.6L28.6 109.7L29.4 111.0M23.9 97.8L24.6 100.0L26.8 103.9L28.6 107.0L31.2 107.7L32.5 105.3L34.3 100.0L33.8 104.4L35.6 108.8L36.9 111.0M22.9 75.7L25.5 74.8L28.6 74.2L32.9 72.6L30.3 75.7L28.6 76.6L25.9 77.5L23.3 77.0L22.9 75.7M90.4 97.3L92.6 97.8L94.3 98.2L95.7 96.4L97.0 95.6L98.7 97.3L101.4 96.9L103.1 100.0L104.4 103.0L106.6 107.0L109.3 108.8M92.6 97.8L91.5 99.5L92.6 102.2L93.9 104.8L95.2 107.5L97.0 109.7L98.3 111.0M-0.4 60.7L0.9 60.7L0.5 62.9L2.2 66.0L0.9 66.9L5.3 66.9L1.8 68.0" fill="none" stroke="#0a0a0a" stroke-width="0.7" stroke-linejoin="round"/>
<path d="M43.55 55.20L46.37 63.02L54.68 63.28L48.11 68.38L50.43 76.37L43.55 71.70L36.67 76.37L38.99 68.38L32.42 63.28L40.73 63.02zM43.55 62.50L44.61 65.44L47.73 65.54L45.27 67.46L46.14 70.46L43.55 68.70L40.96 70.46L41.83 67.46L39.37 65.54L42.49 65.44z" fill="#fb0d14" fill-rule="evenodd"/>
</g>
<text x="81" y="10.5" font-size="7.4" text-anchor="middle" style="fill:#0a0a0a">2023/01/21-2023/01/25</text>
<text x="28.6" y="27.9" font-size="12" fill="#000" style="fill:#000">(a)</text>
<text x="38.8" y="133.1" font-size="7.4" text-anchor="middle">30</text>
<text x="23.2" y="113.5" font-size="7.4" text-anchor="end">30</text>
<text x="60.7" y="133.1" font-size="7.4" text-anchor="middle">35</text>
<text x="23.2" y="91.4" font-size="7.4" text-anchor="end">35</text>
<text x="82.6" y="133.1" font-size="7.4" text-anchor="middle">40</text>
<text x="23.2" y="69.4" font-size="7.4" text-anchor="end">40</text>
<text x="104.6" y="133.1" font-size="7.4" text-anchor="middle">45</text>
<text x="23.2" y="47.3" font-size="7.4" text-anchor="end">45</text>
<text x="126.5" y="133.1" font-size="7.4" text-anchor="middle">50</text>
<text x="23.2" y="25.3" font-size="7.4" text-anchor="end">50</text>
<text x="80.6" y="142.5" font-size="7.3" text-anchor="middle">GeoLong</text>
<text transform="translate(11.1,68.25) rotate(-90)" font-size="7.4" text-anchor="middle">GeoLat</text>
<rect x="141" y="13.6" width="10.9" height="109.9" fill="url(#jet)" stroke="#000" stroke-opacity="0.35" stroke-width="0.5"/>
<text x="154" y="16.3" font-size="6.1">3</text>
<text x="154" y="43.8" font-size="6.1">2.5</text>
<text x="154" y="71.2" font-size="6.1">2</text>
<text x="154" y="98.7" font-size="6.1">1.5</text>
<text x="154" y="126.2" font-size="6.1">1</text>
<text transform="translate(173.8,69.55) rotate(-90)" font-size="6.4" text-anchor="middle">log<tspan font-size="4.6" dy="1.6">10</tspan><tspan dy="-1.6">(/cm</tspan><tspan font-size="4.6" dy="-2.4">2</tspan><tspan dy="2.4">/s/sr)</tspan></text>
<g transform="translate(26,163)" clip-path="url(#clb)">
<g filter="url(#bl)" shape-rendering="crispEdges">
<rect x="-4" y="-4" width="118" height="118.5" fill="#00edff"/>
<path fill="#0909ec" d="M68 94.43H72V96.44H68z"/>
<path fill="#0404f5" d="M70 92.42H84V94.43H70zM60 94.43H68V96.44H60zM72 94.43H80V96.44H72zM52 96.44H70V98.45H52z"/>
<path fill="#0000ff" d="M78 90.41H84V92.42H78zM66 92.42H70V94.43H66zM56 94.43H60V96.44H56zM80 94.43H82V96.44H80zM50 96.44H52V98.45H50zM70 96.44H74V98.45H70z"/>
<path fill="#0015ff" d="M82 78.35H86V80.36H82zM76 80.36H90V82.37H76zM74 82.37H88V84.38H74zM76 84.38H84V86.39H76zM76 86.39H82V88.4H76zM76 88.4H82V90.41H76zM70 90.41H78V92.42H70zM62 92.42H66V94.43H62zM54 94.43H56V96.44H54zM82 94.43H84V96.44H82zM74 96.44H78V98.45H74zM60 98.45H76V100.5H60zM68 100.5H78V102.5H68zM68 102.5H82V104.5H68zM68 104.5H80V106.5H68zM72 106.5H80V108.5H72zM72 108.5H78V114.5H72z"/>
<path fill="#002aff" d="M38 60.27H40V62.28H38zM30 62.28H40V64.29H30zM78 78.35H82V80.36H78zM86 78.35H92V80.36H86zM74 80.36H76V82.37H74zM90 80.36H92V82.37H90zM72 82.37H74V84.38H72zM88 82.37H90V84.38H88zM74 84.38H76V86.39H74zM84 84.38H88V86.39H84zM74 86.39H76V88.4H74zM82 86.39H88V88.4H82zM70 88.4H76V90.41H70zM82 88.4H86V90.41H82zM62 90.41H70V92.42H62zM84 90.41H86V92.42H84zM56 92.42H62V94.43H56zM84 92.42H86V94.43H84zM52 94.43H54V96.44H52zM78 96.44H82V98.45H78zM50 98.45H54V100.5H50zM76 98.45H82V100.5H76zM62 100.5H68V102.5H62zM78 100.5H86V102.5H78zM60 102.5H68V104.5H60zM82 102.5H90V104.5H82zM58 104.5H68V106.5H58zM80 104.5H86V106.5H80zM62 106.5H72V108.5H62zM80 106.5H84V108.5H80zM66 108.5H72V114.5H66zM78 108.5H84V114.5H78z"/>
<path fill="#0040ff" d="M32 60.27H38V62.28H32zM40 60.27H42V62.28H40zM26 62.28H30V64.29H26zM40 62.28H42V64.29H40zM26 64.29H40V66.3H26zM82 76.35H84V78.35H82zM76 78.35H78V80.36H76zM90 82.37H92V84.38H90zM72 84.38H74V86.39H72zM88 84.38H92V86.39H88zM68 86.39H74V88.4H68zM88 86.39H92V88.4H88zM60 88.4H70V90.41H60zM86 88.4H90V90.41H86zM54 90.41H62V92.42H54zM86 90.41H88V92.42H86zM52 92.42H56V94.43H52zM50 94.43H52V96.44H50zM82 96.44H84V98.45H82zM54 98.45H56V100.5H54zM82 98.45H84V100.5H82zM60 100.5H62V102.5H60zM86 100.5H92V102.5H86zM58 102.5H60V104.5H58zM90 102.5H92V104.5H90zM86 104.5H90V106.5H86zM58 106.5H62V108.5H58zM84 106.5H88V108.5H84zM62 108.5H66V114.5H62zM84 108.5H86V114.5H84z"/>
<path fill="#0055ff" d="M92 26.12H104V28.13H92zM30 60.27H32V62.28H30zM24 62.28H26V64.29H24zM22 64.29H26V66.3H22zM40 64.29H42V66.3H40zM32 66.3H42V68.31H32zM-4 68.31H2V70.32H-4zM38 68.31H40V70.32H38zM-4 70.32H4V72.33H-4zM-4 72.33H6V74.34H-4zM-4 74.34H8V76.35H-4zM42 74.34H52V76.35H42zM-4 76.35H6V78.35H-4zM38 76.35H50V78.35H38zM80 76.35H82V78.35H80zM84 76.35H86V78.35H84zM38 78.35H46V80.36H38zM92 78.35H94V80.36H92zM92 80.36H94V82.37H92zM92 82.37H94V84.38H92zM68 84.38H72V86.39H68zM92 84.38H94V86.39H92zM50 86.39H68V88.4H50zM92 86.39H96V88.4H92zM6 88.4H14V90.41H6zM48 88.4H60V90.41H48zM90 88.4H94V90.41H90zM-4 90.41H12V92.42H-4zM50 90.41H54V92.42H50zM88 90.41H92V92.42H88zM-4 92.42H18V94.43H-4zM48 92.42H52V94.43H48zM86 92.42H90V94.43H86zM-4 94.43H22V96.44H-4zM48 94.43H50V96.44H48zM84 94.43H86V96.44H84zM-4 96.44H22V98.45H-4zM48 96.44H50V98.45H48zM-4 98.45H18V100.5H-4zM56 98.45H60V100.5H56zM-4 100.5H16V102.5H-4zM92 100.5H94V102.5H92zM-4 102.5H10V104.5H-4zM56 102.5H58V104.5H56zM92 102.5H94V104.5H92zM56 104.5H58V106.5H56zM90 104.5H92V106.5H90zM56 106.5H58V108.5H56zM88 106.5H90V108.5H88zM58 108.5H62V114.5H58zM86 108.5H90V114.5H86z"/>
<path fill="#006aff" d="M100 24.11H104V26.12H100zM90 26.12H92V28.13H90zM104 26.12H106V28.13H104zM88 28.13H96V30.14H88zM18 42.19H22V44.2H18zM12 44.2H16V46.21H12zM36 58.26H42V60.27H36zM28 60.27H30V62.28H28zM42 60.27H44V62.28H42zM22 62.28H24V64.29H22zM42 62.28H44V64.29H42zM42 64.29H44V66.3H42zM28 66.3H32V68.31H28zM42 66.3H44V68.31H42zM2 68.31H4V70.32H2zM36 68.31H38V70.32H36zM40 68.31H44V70.32H40zM4 70.32H8V72.33H4zM36 70.32H44V72.33H36zM6 72.33H8V74.34H6zM36 72.33H44V74.34H36zM8 74.34H10V76.35H8zM38 74.34H42V76.35H38zM52 74.34H56V76.35H52zM82 74.34H84V76.35H82zM6 76.35H10V78.35H6zM50 76.35H54V78.35H50zM78 76.35H80V78.35H78zM-4 78.35H4V80.36H-4zM46 78.35H48V80.36H46zM74 78.35H76V80.36H74zM72 80.36H74V82.37H72zM70 82.37H72V84.38H70zM94 82.37H96V84.38H94zM52 84.38H54V86.39H52zM64 84.38H68V86.39H64zM94 84.38H98V86.39H94zM8 86.39H20V88.4H8zM48 86.39H50V88.4H48zM96 86.39H100V88.4H96zM-4 88.4H6V90.41H-4zM14 88.4H18V90.41H14zM46 88.4H48V90.41H46zM94 88.4H100V90.41H94zM12 90.41H18V92.42H12zM46 90.41H50V92.42H46zM92 90.41H98V92.42H92zM18 92.42H22V94.43H18zM46 92.42H48V94.43H46zM90 92.42H94V94.43H90zM22 94.43H24V96.44H22zM46 94.43H48V96.44H46zM86 94.43H90V96.44H86zM22 96.44H24V98.45H22zM46 96.44H48V98.45H46zM84 96.44H86V98.45H84zM18 98.45H24V100.5H18zM48 98.45H50V100.5H48zM84 98.45H94V100.5H84zM16 100.5H24V102.5H16zM10 102.5H22V104.5H10zM-4 104.5H20V106.5H-4zM54 104.5H56V106.5H54zM92 104.5H94V106.5H92zM-4 106.5H20V108.5H-4zM90 106.5H92V108.5H90zM-4 108.5H20V114.5H-4zM56 108.5H58V114.5H56zM90 108.5H92V114.5H90z"/>
<path fill="#0080ff" d="M98 24.11H100V26.12H98zM104 24.11H106V26.12H104zM88 26.12H90V28.13H88zM96 28.13H98V30.14H96zM14 42.19H18V44.2H14zM22 42.19H26V44.2H22zM10 44.2H12V46.21H10zM16 44.2H20V46.21H16zM34 58.26H36V60.27H34zM44 64.29H46V66.3H44zM-4 66.3H2V68.31H-4zM18 66.3H22V68.31H18zM24 66.3H28V68.31H24zM44 66.3H46V68.31H44zM6 68.31H14V70.32H6zM44 68.31H46V70.32H44zM8 70.32H10V72.33H8zM44 70.32H46V72.33H44zM8 72.33H10V74.34H8zM32 72.33H36V74.34H32zM44 72.33H50V74.34H44zM30 74.34H38V76.35H30zM80 74.34H82V76.35H80zM84 74.34H86V76.35H84zM10 76.35H14V78.35H10zM36 76.35H38V78.35H36zM76 76.35H78V78.35H76zM4 78.35H8V80.36H4zM36 78.35H38V80.36H36zM48 78.35H50V80.36H48zM38 80.36H44V82.37H38zM94 80.36H96V82.37H94zM96 82.37H98V84.38H96zM14 84.38H22V86.39H14zM50 84.38H52V86.39H50zM54 84.38H56V86.39H54zM62 84.38H64V86.39H62zM98 84.38H102V86.39H98zM2 86.39H8V88.4H2zM20 86.39H22V88.4H20zM46 86.39H48V88.4H46zM100 86.39H104V88.4H100zM42 88.4H46V90.41H42zM100 88.4H108V90.41H100zM42 90.41H46V92.42H42zM98 90.41H104V92.42H98zM22 92.42H26V94.43H22zM42 92.42H46V94.43H42zM94 92.42H100V94.43H94zM24 94.43H28V96.44H24zM40 94.43H46V96.44H40zM90 94.43H94V96.44H90zM106 94.43H114V96.44H106zM24 96.44H30V98.45H24zM40 96.44H46V98.45H40zM86 96.44H94V98.45H86zM102 96.44H114V98.45H102zM24 98.45H34V100.5H24zM38 98.45H48V100.5H38zM94 98.45H98V100.5H94zM104 98.45H114V100.5H104zM24 100.5H34V102.5H24zM58 100.5H60V102.5H58zM94 100.5H96V102.5H94zM22 102.5H32V104.5H22zM54 102.5H56V104.5H54zM94 102.5H96V104.5H94zM20 104.5H34V106.5H20zM52 104.5H54V106.5H52zM94 104.5H96V106.5H94zM20 106.5H36V108.5H20zM52 106.5H56V108.5H52zM92 106.5H94V108.5H92zM20 108.5H38V114.5H20zM52 108.5H56V114.5H52zM92 108.5H94V114.5H92z"/>
<path fill="#0095ff" d="M96 24.11H98V26.12H96zM98 28.13H102V30.14H98zM100 30.14H114V32.15H100zM92 32.15H104V34.15H92zM88 34.15H94V36.16H88zM22 40.18H28V42.19H22zM12 42.19H14V44.2H12zM26 42.19H28V44.2H26zM20 44.2H22V46.21H20zM12 46.21H14V48.22H12zM48 48.22H58V50.23H48zM38 50.23H52V52.24H38zM32 52.24H44V54.25H32zM34 54.25H36V56.25H34zM36 56.25H44V58.26H36zM4 58.26H8V60.27H4zM32 58.26H34V60.27H32zM42 58.26H44V60.27H42zM-4 60.27H4V62.28H-4zM-4 62.28H2V64.29H-4zM44 62.28H46V64.29H44zM12 66.3H18V68.31H12zM22 66.3H24V68.31H22zM46 66.3H48V68.31H46zM4 68.31H6V70.32H4zM14 68.31H22V70.32H14zM46 68.31H48V70.32H46zM10 70.32H12V72.33H10zM46 70.32H48V72.33H46zM30 72.33H32V74.34H30zM50 72.33H56V74.34H50zM82 72.33H86V74.34H82zM22 74.34H30V76.35H22zM78 74.34H80V76.35H78zM14 76.35H18V78.35H14zM24 76.35H36V78.35H24zM54 76.35H56V78.35H54zM86 76.35H92V78.35H86zM8 78.35H12V80.36H8zM32 78.35H36V80.36H32zM50 78.35H54V80.36H50zM94 78.35H96V80.36H94zM-4 80.36H2V82.37H-4zM36 80.36H38V82.37H36zM44 80.36H50V82.37H44zM52 80.36H54V82.37H52zM96 80.36H98V82.37H96zM12 82.37H20V84.38H12zM52 82.37H54V84.38H52zM98 82.37H106V84.38H98zM4 84.38H14V86.39H4zM48 84.38H50V86.39H48zM60 84.38H62V86.39H60zM102 84.38H114V86.39H102zM-4 86.39H2V88.4H-4zM42 86.39H46V88.4H42zM104 86.39H114V88.4H104zM18 88.4H20V90.41H18zM38 88.4H42V90.41H38zM108 88.4H114V90.41H108zM18 90.41H32V92.42H18zM34 90.41H42V92.42H34zM104 90.41H114V92.42H104zM26 92.42H42V94.43H26zM100 92.42H114V94.43H100zM28 94.43H40V96.44H28zM94 94.43H106V96.44H94zM30 96.44H40V98.45H30zM94 96.44H102V98.45H94zM34 98.45H38V100.5H34zM98 98.45H104V100.5H98zM34 100.5H40V102.5H34zM52 100.5H58V102.5H52zM96 100.5H114V102.5H96zM32 102.5H34V104.5H32zM52 102.5H54V104.5H52zM96 102.5H114V104.5H96zM44 104.5H52V106.5H44zM96 104.5H114V106.5H96zM36 106.5H52V108.5H36zM94 106.5H114V108.5H94zM38 108.5H52V114.5H38zM94 108.5H114V114.5H94z"/>
<path fill="#00aaff" d="M94 24.11H96V26.12H94zM102 28.13H114V30.14H102zM96 30.14H100V32.15H96zM88 32.15H92V34.15H88zM104 32.15H114V34.15H104zM86 34.15H88V36.16H86zM94 34.15H100V36.16H94zM108 34.15H114V36.16H108zM20 40.18H22V42.19H20zM22 44.2H24V46.21H22zM10 46.21H12V48.22H10zM14 46.21H16V48.22H14zM56 46.21H58V48.22H56zM44 48.22H48V50.23H44zM58 48.22H60V50.23H58zM8 50.23H12V52.24H8zM34 50.23H38V52.24H34zM52 50.23H54V52.24H52zM44 52.24H48V54.25H44zM32 54.25H34V56.25H32zM36 54.25H46V56.25H36zM32 56.25H36V58.26H32zM44 56.25H46V58.26H44zM-4 58.26H4V60.27H-4zM8 58.26H12V60.27H8zM30 58.26H32V60.27H30zM44 58.26H46V60.27H44zM4 60.27H6V62.28H4zM26 60.27H28V62.28H26zM44 60.27H46V62.28H44zM-4 64.29H2V66.3H-4zM20 64.29H22V66.3H20zM46 64.29H48V66.3H46zM48 66.3H50V68.31H48zM22 68.31H36V70.32H22zM48 68.31H50V70.32H48zM12 70.32H16V72.33H12zM34 70.32H36V72.33H34zM48 70.32H50V72.33H48zM10 72.33H12V74.34H10zM26 72.33H30V74.34H26zM78 72.33H82V74.34H78zM86 72.33H88V74.34H86zM10 74.34H12V76.35H10zM14 74.34H22V76.35H14zM76 74.34H78V76.35H76zM18 76.35H24V78.35H18zM74 76.35H76V78.35H74zM12 78.35H32V80.36H12zM2 80.36H36V82.37H2zM50 80.36H52V82.37H50zM98 80.36H114V82.37H98zM-4 82.37H12V84.38H-4zM20 82.37H52V84.38H20zM68 82.37H70V84.38H68zM106 82.37H114V84.38H106zM-4 84.38H4V86.39H-4zM22 84.38H26V86.39H22zM44 84.38H48V86.39H44zM22 86.39H24V88.4H22zM38 86.39H42V88.4H38zM20 88.4H22V90.41H20zM30 88.4H38V90.41H30zM32 90.41H34V92.42H32zM40 100.5H52V102.5H40zM34 102.5H38V104.5H34zM46 102.5H52V104.5H46zM34 104.5H44V106.5H34z"/>
<path fill="#00bfff" d="M90 30.14H96V32.15H90zM84 34.15H86V36.16H84zM100 34.15H108V36.16H100zM98 36.16H114V38.17H98zM102 38.17H114V40.18H102zM18 40.18H20V42.19H18zM10 42.19H12V44.2H10zM24 44.2H26V46.21H24zM16 46.21H20V48.22H16zM52 46.21H56V48.22H52zM58 46.21H60V48.22H58zM8 48.22H14V50.23H8zM42 48.22H44V50.23H42zM-4 50.23H8V52.24H-4zM12 50.23H14V52.24H12zM32 50.23H34V52.24H32zM54 50.23H58V52.24H54zM-4 52.24H6V54.25H-4zM48 52.24H52V54.25H48zM46 54.25H48V56.25H46zM4 56.25H14V58.26H4zM30 56.25H32V58.26H30zM46 56.25H48V58.26H46zM28 58.26H30V60.27H28zM46 58.26H48V60.27H46zM6 60.27H8V62.28H6zM46 60.27H48V62.28H46zM2 62.28H4V64.29H2zM46 62.28H48V64.29H46zM18 64.29H20V66.3H18zM48 64.29H50V66.3H48zM10 66.3H12V68.31H10zM50 68.31H52V70.32H50zM16 70.32H34V72.33H16zM50 70.32H52V72.33H50zM80 70.32H90V72.33H80zM12 72.33H26V74.34H12zM76 72.33H78V74.34H76zM88 72.33H90V74.34H88zM12 74.34H14V76.35H12zM56 74.34H58V76.35H56zM74 74.34H76V76.35H74zM92 76.35H94V78.35H92zM106 76.35H114V78.35H106zM72 78.35H74V80.36H72zM96 78.35H114V80.36H96zM26 84.38H44V86.39H26zM56 84.38H60V86.39H56zM24 86.39H38V88.4H24zM22 88.4H30V90.41H22zM38 102.5H46V104.5H38z"/>
<path fill="#00d4ff" d="M92 24.11H94V26.12H92zM106 26.12H108V28.13H106zM88 30.14H90V32.15H88zM86 32.15H88V34.15H86zM82 34.15H84V36.16H82zM78 36.16H98V38.17H78zM96 38.17H102V40.18H96zM16 40.18H18V42.19H16zM100 40.18H114V42.19H100zM106 42.19H114V44.2H106zM20 46.21H22V48.22H20zM50 46.21H52V48.22H50zM6 48.22H8V50.23H6zM14 48.22H20V50.23H14zM40 48.22H42V50.23H40zM14 50.23H18V52.24H14zM58 50.23H60V52.24H58zM6 52.24H14V54.25H6zM30 52.24H32V54.25H30zM52 52.24H58V54.25H52zM104 52.24H114V54.25H104zM-4 54.25H10V56.25H-4zM30 54.25H32V56.25H30zM48 54.25H56V56.25H48zM102 54.25H114V56.25H102zM-4 56.25H4V58.26H-4zM28 56.25H30V58.26H28zM48 56.25H54V58.26H48zM102 56.25H114V58.26H102zM12 58.26H14V60.27H12zM48 58.26H50V60.27H48zM102 58.26H114V60.27H102zM8 60.27H10V62.28H8zM48 60.27H50V62.28H48zM102 60.27H114V62.28H102zM48 62.28H52V64.29H48zM104 62.28H114V64.29H104zM50 64.29H52V66.3H50zM106 64.29H114V66.3H106zM50 66.3H52V68.31H50zM106 66.3H114V68.31H106zM52 68.31H54V70.32H52zM84 68.31H90V70.32H84zM106 68.31H114V70.32H106zM52 70.32H54V72.33H52zM78 70.32H80V72.33H78zM90 70.32H92V72.33H90zM108 70.32H114V72.33H108zM56 72.33H58V74.34H56zM74 72.33H76V74.34H74zM108 72.33H114V74.34H108zM72 74.34H74V76.35H72zM86 74.34H88V76.35H86zM106 74.34H114V76.35H106zM56 76.35H58V78.35H56zM72 76.35H74V78.35H72zM100 76.35H106V78.35H100zM54 78.35H56V80.36H54z"/>
<path fill="#00eaff" d="M90 24.11H92V26.12H90zM106 24.11H108V26.12H106zM80 34.15H82V36.16H80zM90 38.17H96V40.18H90zM14 40.18H16V42.19H14zM92 40.18H100V42.19H92zM96 42.19H106V44.2H96zM8 44.2H10V46.21H8zM26 44.2H28V46.21H26zM98 44.2H114V46.21H98zM8 46.21H10V48.22H8zM22 46.21H26V48.22H22zM48 46.21H50V48.22H48zM98 46.21H114V48.22H98zM4 48.22H6V50.23H4zM20 48.22H26V50.23H20zM36 48.22H40V50.23H36zM60 48.22H62V50.23H60zM90 48.22H114V50.23H90zM18 50.23H24V52.24H18zM30 50.23H32V52.24H30zM60 50.23H62V52.24H60zM84 50.23H114V52.24H84zM14 52.24H22V54.25H14zM28 52.24H30V54.25H28zM58 52.24H64V54.25H58zM80 52.24H104V54.25H80zM10 54.25H16V56.25H10zM28 54.25H30V56.25H28zM56 54.25H64V56.25H56zM82 54.25H102V56.25H82zM54 56.25H62V58.26H54zM86 56.25H102V58.26H86zM50 58.26H60V60.27H50zM94 58.26H102V60.27H94zM24 60.27H26V62.28H24zM50 60.27H58V62.28H50zM96 60.27H102V62.28H96zM4 62.28H6V64.29H4zM20 62.28H22V64.29H20zM52 62.28H56V64.29H52zM94 62.28H104V64.29H94zM16 64.29H18V66.3H16zM52 64.29H56V66.3H52zM92 64.29H106V66.3H92zM2 66.3H4V68.31H2zM8 66.3H10V68.31H8zM52 66.3H56V68.31H52zM86 66.3H106V68.31H86zM54 68.31H56V70.32H54zM78 68.31H84V70.32H78zM90 68.31H106V70.32H90zM54 70.32H56V72.33H54zM74 70.32H78V72.33H74zM92 70.32H96V72.33H92zM106 70.32H108V72.33H106zM72 72.33H74V74.34H72zM90 72.33H92V74.34H90zM106 72.33H108V74.34H106zM58 74.34H60V76.35H58zM88 74.34H90V76.35H88zM94 76.35H100V78.35H94zM66 82.37H68V84.38H66z"/>
<path fill="#00ffff" d="M102 22.1H104V24.11H102zM86 26.12H88V28.13H86zM108 26.12H114V28.13H108zM86 28.13H88V30.14H86zM86 30.14H88V32.15H86zM84 32.15H86V34.15H84zM24 38.17H28V40.18H24zM78 38.17H82V40.18H78zM86 38.17H90V40.18H86zM12 40.18H14V42.19H12zM28 40.18H30V42.19H28zM88 40.18H92V42.19H88zM8 42.19H10V44.2H8zM28 42.19H30V44.2H28zM88 42.19H96V44.2H88zM28 44.2H30V46.21H28zM56 44.2H60V46.21H56zM88 44.2H98V46.21H88zM6 46.21H8V48.22H6zM26 46.21H30V48.22H26zM44 46.21H48V48.22H44zM60 46.21H62V48.22H60zM84 46.21H98V48.22H84zM-4 48.22H4V50.23H-4zM26 48.22H36V50.23H26zM80 48.22H90V50.23H80zM24 50.23H30V52.24H24zM62 50.23H68V52.24H62zM76 50.23H84V52.24H76zM22 52.24H28V54.25H22zM64 52.24H80V54.25H64zM16 54.25H28V56.25H16zM64 54.25H82V56.25H64zM14 56.25H18V58.26H14zM62 56.25H86V58.26H62zM60 58.26H94V60.27H60zM58 60.27H96V62.28H58zM56 62.28H76V64.29H56zM82 62.28H94V64.29H82zM2 64.29H4V66.3H2zM56 64.29H62V66.3H56zM82 64.29H92V66.3H82zM56 66.3H60V68.31H56zM76 66.3H86V68.31H76zM56 68.31H60V70.32H56zM74 68.31H78V70.32H74zM56 70.32H60V72.33H56zM72 70.32H74V72.33H72zM96 70.32H106V72.33H96zM58 72.33H62V74.34H58zM68 72.33H72V74.34H68zM92 72.33H94V74.34H92zM60 74.34H66V76.35H60zM70 74.34H72V76.35H70zM90 74.34H92V76.35H90zM102 74.34H106V76.35H102zM58 76.35H60V78.35H58zM54 82.37H56V84.38H54z"/>
<path fill="#15ffea" d="M4 14.06H22V16.07H4zM-4 16.07H18V18.08H-4zM-4 18.08H10V20.09H-4zM98 22.1H102V24.11H98zM104 22.1H106V24.11H104zM88 24.11H90V26.12H88zM108 24.11H114V26.12H108zM84 30.14H86V32.15H84zM82 32.15H84V34.15H82zM78 34.15H80V36.16H78zM14 38.17H24V40.18H14zM82 38.17H86V40.18H82zM10 40.18H12V42.19H10zM80 40.18H88V42.19H80zM6 42.19H8V44.2H6zM30 42.19H32V44.2H30zM80 42.19H88V44.2H80zM4 44.2H8V46.21H4zM30 44.2H34V46.21H30zM54 44.2H56V46.21H54zM78 44.2H88V46.21H78zM2 46.21H6V48.22H2zM30 46.21H44V48.22H30zM62 46.21H64V48.22H62zM74 46.21H84V48.22H74zM62 48.22H80V50.23H62zM68 50.23H76V52.24H68zM18 56.25H22V58.26H18zM26 56.25H28V58.26H26zM14 58.26H16V60.27H14zM26 58.26H28V60.27H26zM10 60.27H12V62.28H10zM6 62.28H8V64.29H6zM76 62.28H82V64.29H76zM14 64.29H16V66.3H14zM62 64.29H82V66.3H62zM6 66.3H8V68.31H6zM60 66.3H76V68.31H60zM60 68.31H74V70.32H60zM60 70.32H72V72.33H60zM62 72.33H68V74.34H62zM94 72.33H106V74.34H94zM66 74.34H70V76.35H66zM92 74.34H102V76.35H92zM60 76.35H62V78.35H60z"/>
<path fill="#2bffd4" d="M96 -4H100V2.009H96zM-4 12.05H8V14.06H-4zM28 12.05H30V14.06H28zM-4 14.06H4V16.07H-4zM22 14.06H30V16.07H22zM18 16.07H24V18.08H18zM10 18.08H16V20.09H10zM-4 20.09H12V22.1H-4zM-4 22.1H10V24.11H-4zM94 22.1H98V24.11H94zM106 22.1H114V24.11H106zM-4 24.11H8V26.12H-4zM-4 26.12H4V28.13H-4zM84 28.13H86V30.14H84zM80 30.14H84V32.15H80zM76 32.15H82V34.15H76zM72 34.15H78V36.16H72zM14 36.16H26V38.17H14zM68 36.16H78V38.17H68zM8 38.17H14V40.18H8zM28 38.17H32V40.18H28zM66 38.17H78V40.18H66zM6 40.18H10V42.19H6zM30 40.18H34V42.19H30zM66 40.18H80V42.19H66zM2 42.19H6V44.2H2zM32 42.19H36V44.2H32zM62 42.19H80V44.2H62zM-4 44.2H4V46.21H-4zM34 44.2H54V46.21H34zM60 44.2H78V46.21H60zM-4 46.21H2V48.22H-4zM64 46.21H74V48.22H64zM22 56.25H24V58.26H22zM16 58.26H18V60.27H16zM12 60.27H14V62.28H12zM22 60.27H24V62.28H22zM8 62.28H10V64.29H8zM4 64.29H6V66.3H4zM12 64.29H14V66.3H12zM4 66.3H6V68.31H4zM64 82.37H66V84.38H64z"/>
<path fill="#40ffbf" d="M-4 -4H4V2.009H-4zM86 -4H96V2.009H86zM100 -4H114V2.009H100zM-4 2.009H4V4.018H-4zM86 2.009H114V4.018H86zM-4 4.018H6V6.027H-4zM108 4.018H114V6.027H108zM-4 6.027H6V8.036H-4zM-4 8.036H8V10.05H-4zM-4 10.05H12V12.05H-4zM8 12.05H28V14.06H8zM30 12.05H32V14.06H30zM30 14.06H32V16.07H30zM24 16.07H26V18.08H24zM16 18.08H20V20.09H16zM12 20.09H20V22.1H12zM10 22.1H18V24.11H10zM92 22.1H94V24.11H92zM8 24.11H18V26.12H8zM86 24.11H88V26.12H86zM4 26.12H18V28.13H4zM82 26.12H86V28.13H82zM-4 28.13H14V30.14H-4zM78 28.13H84V30.14H78zM-4 30.14H12V32.15H-4zM72 30.14H80V32.15H72zM-4 32.15H12V34.15H-4zM68 32.15H76V34.15H68zM-4 34.15H28V36.16H-4zM64 34.15H72V36.16H64zM-4 36.16H14V38.17H-4zM26 36.16H34V38.17H26zM60 36.16H68V38.17H60zM-4 38.17H8V40.18H-4zM32 38.17H38V40.18H32zM56 38.17H66V40.18H56zM-4 40.18H6V42.19H-4zM34 40.18H42V42.19H34zM52 40.18H66V42.19H52zM-4 42.19H2V44.2H-4zM36 42.19H62V44.2H36zM24 56.25H26V58.26H24zM18 58.26H22V60.27H18zM24 58.26H26V60.27H24zM14 60.27H16V62.28H14zM20 60.27H22V62.28H20zM10 62.28H12V64.29H10zM16 62.28H20V64.29H16zM6 64.29H12V66.3H6zM54 80.36H56V82.37H54zM70 80.36H72V82.37H70z"/>
<path fill="#55ffaa" d="M4 -4H10V2.009H4zM80 -4H86V2.009H80zM4 2.009H10V4.018H4zM80 2.009H86V4.018H80zM6 4.018H10V6.027H6zM84 4.018H102V6.027H84zM106 4.018H108V6.027H106zM6 6.027H12V8.036H6zM108 6.027H114V8.036H108zM8 8.036H14V10.05H8zM12 10.05H16V12.05H12zM26 16.07H30V18.08H26zM20 18.08H24V20.09H20zM20 20.09H24V22.1H20zM96 20.09H114V22.1H96zM18 22.1H24V24.11H18zM88 22.1H92V24.11H88zM18 24.11H24V26.12H18zM84 24.11H86V26.12H84zM18 26.12H24V28.13H18zM78 26.12H82V28.13H78zM14 28.13H24V30.14H14zM72 28.13H78V30.14H72zM12 30.14H26V32.15H12zM66 30.14H72V32.15H66zM12 32.15H30V34.15H12zM62 32.15H68V34.15H62zM28 34.15H34V36.16H28zM58 34.15H64V36.16H58zM34 36.16H38V38.17H34zM54 36.16H60V38.17H54zM38 38.17H56V40.18H38zM42 40.18H52V42.19H42zM22 58.26H24V60.27H22zM16 60.27H20V62.28H16zM12 62.28H16V64.29H12zM62 76.35H64V78.35H62z"/>
<path fill="#6aff95" d="M10 -4H14V2.009H10zM72 -4H80V2.009H72zM10 2.009H14V4.018H10zM74 2.009H80V4.018H74zM10 4.018H14V6.027H10zM76 4.018H84V6.027H76zM102 4.018H106V6.027H102zM12 6.027H16V8.036H12zM106 6.027H108V8.036H106zM14 8.036H16V10.05H14zM108 8.036H114V10.05H108zM16 10.05H18V12.05H16zM28 10.05H32V12.05H28zM32 12.05H34V14.06H32zM32 14.06H34V16.07H32zM30 16.07H32V18.08H30zM24 18.08H28V20.09H24zM102 18.08H114V20.09H102zM24 20.09H28V22.1H24zM92 20.09H96V22.1H92zM24 22.1H28V24.11H24zM84 22.1H88V24.11H84zM24 24.11H28V26.12H24zM76 24.11H84V26.12H76zM24 26.12H28V28.13H24zM72 26.12H78V28.13H72zM24 28.13H28V30.14H24zM68 28.13H72V30.14H68zM26 30.14H30V32.15H26zM64 30.14H66V32.15H64zM30 32.15H34V34.15H30zM60 32.15H62V34.15H60zM34 34.15H38V36.16H34zM54 34.15H58V36.16H54zM38 36.16H54V38.17H38zM56 78.35H58V80.36H56z"/>
<path fill="#80ff80" d="M14 -4H18V2.009H14zM42 -4H50V2.009H42zM54 -4H72V2.009H54zM14 2.009H18V4.018H14zM54 2.009H74V4.018H54zM14 4.018H18V6.027H14zM54 4.018H76V6.027H54zM16 6.027H18V8.036H16zM46 6.027H62V8.036H46zM74 6.027H86V8.036H74zM16 8.036H18V10.05H16zM40 8.036H56V10.05H40zM106 8.036H108V10.05H106zM18 10.05H28V12.05H18zM32 10.05H50V12.05H32zM106 10.05H114V12.05H106zM34 12.05H44V14.06H34zM106 12.05H114V14.06H106zM34 14.06H36V16.07H34zM108 14.06H114V16.07H108zM32 16.07H34V18.08H32zM104 16.07H114V18.08H104zM28 18.08H32V20.09H28zM98 18.08H102V20.09H98zM28 20.09H30V22.1H28zM88 20.09H92V22.1H88zM28 22.1H30V24.11H28zM76 22.1H84V24.11H76zM28 24.11H30V26.12H28zM70 24.11H76V26.12H70zM28 26.12H30V28.13H28zM68 26.12H72V28.13H68zM28 28.13H32V30.14H28zM64 28.13H68V30.14H64zM30 30.14H34V32.15H30zM60 30.14H64V32.15H60zM34 32.15H38V34.15H34zM56 32.15H60V34.15H56zM38 34.15H54V36.16H38zM64 76.35H66V78.35H64zM70 76.35H72V78.35H70zM62 82.37H64V84.38H62z"/>
<path fill="#95ff6a" d="M18 -4H22V2.009H18zM36 -4H42V2.009H36zM50 -4H54V2.009H50zM18 2.009H22V4.018H18zM18 4.018H24V6.027H18zM48 4.018H54V6.027H48zM18 6.027H20V8.036H18zM42 6.027H46V8.036H42zM62 6.027H74V8.036H62zM86 6.027H98V8.036H86zM104 6.027H106V8.036H104zM34 8.036H40V10.05H34zM56 8.036H62V10.05H56zM50 10.05H52V12.05H50zM104 10.05H106V12.05H104zM44 12.05H50V14.06H44zM102 12.05H106V14.06H102zM36 14.06H46V16.07H36zM102 14.06H108V16.07H102zM34 16.07H38V18.08H34zM100 16.07H104V18.08H100zM32 18.08H36V20.09H32zM94 18.08H98V20.09H94zM30 20.09H34V22.1H30zM78 20.09H88V22.1H78zM30 22.1H32V24.11H30zM70 22.1H76V24.11H70zM30 24.11H32V26.12H30zM68 24.11H70V26.12H68zM30 26.12H32V28.13H30zM64 26.12H68V28.13H64zM62 28.13H64V30.14H62zM58 30.14H60V32.15H58zM38 32.15H42V34.15H38zM52 32.15H56V34.15H52z"/>
<path fill="#aaff55" d="M22 -4H36V2.009H22zM22 2.009H54V4.018H22zM24 4.018H30V6.027H24zM38 4.018H48V6.027H38zM20 6.027H26V8.036H20zM36 6.027H42V8.036H36zM98 6.027H104V8.036H98zM18 8.036H34V10.05H18zM62 8.036H74V10.05H62zM102 8.036H106V10.05H102zM52 10.05H56V12.05H52zM98 10.05H104V12.05H98zM50 12.05H52V14.06H50zM98 12.05H102V14.06H98zM46 14.06H52V16.07H46zM98 14.06H102V16.07H98zM38 16.07H44V18.08H38zM96 16.07H100V18.08H96zM36 18.08H38V20.09H36zM74 18.08H78V20.09H74zM88 18.08H94V20.09H88zM34 20.09H36V22.1H34zM68 20.09H78V22.1H68zM32 22.1H34V24.11H32zM66 22.1H70V24.11H66zM32 24.11H34V26.12H32zM64 24.11H68V26.12H64zM32 26.12H34V28.13H32zM62 26.12H64V28.13H62zM32 28.13H34V30.14H32zM60 28.13H62V30.14H60zM34 30.14H36V32.15H34zM54 30.14H58V32.15H54zM42 32.15H52V34.15H42z"/>
<path fill="#bfff40" d="M30 4.018H38V6.027H30zM26 6.027H36V8.036H26zM74 8.036H102V10.05H74zM56 10.05H66V12.05H56zM90 10.05H98V12.05H90zM52 12.05H58V14.06H52zM74 12.05H80V14.06H74zM94 12.05H98V14.06H94zM52 14.06H80V16.07H52zM94 14.06H98V16.07H94zM44 16.07H82V18.08H44zM90 16.07H96V18.08H90zM38 18.08H42V20.09H38zM62 18.08H74V20.09H62zM78 18.08H88V20.09H78zM36 20.09H38V22.1H36zM60 20.09H68V22.1H60zM34 22.1H36V24.11H34zM58 22.1H66V24.11H58zM58 24.11H64V26.12H58zM60 26.12H62V28.13H60zM56 28.13H60V30.14H56zM36 30.14H38V32.15H36zM52 30.14H54V32.15H52zM66 76.35H68V78.35H66zM58 78.35H60V80.36H58zM60 82.37H62V84.38H60z"/>
<path fill="#d5ff2a" d="M66 10.05H90V12.05H66zM58 12.05H74V14.06H58zM80 12.05H94V14.06H80zM80 14.06H94V16.07H80zM82 16.07H90V18.08H82zM42 18.08H46V20.09H42zM56 18.08H62V20.09H56zM38 20.09H40V22.1H38zM58 20.09H60V22.1H58zM56 22.1H58V24.11H56zM56 24.11H58V26.12H56zM56 26.12H60V28.13H56zM34 28.13H36V30.14H34zM54 28.13H56V30.14H54zM38 30.14H52V32.15H38zM70 78.35H72V80.36H70zM68 80.36H70V82.37H68zM56 82.37H58V84.38H56z"/>
<path fill="#eaff15" d="M46 18.08H56V20.09H46zM40 20.09H42V22.1H40zM56 20.09H58V22.1H56zM36 22.1H38V24.11H36zM54 22.1H56V24.11H54zM34 24.11H36V26.12H34zM54 24.11H56V26.12H54zM52 28.13H54V30.14H52zM68 76.35H70V78.35H68zM60 78.35H62V80.36H60zM58 82.37H60V84.38H58z"/>
<path fill="#ffff00" d="M42 20.09H44V22.1H42zM54 20.09H56V22.1H54zM38 22.1H40V24.11H38zM34 26.12H36V28.13H34zM54 26.12H56V28.13H54zM50 28.13H52V30.14H50zM66 80.36H68V82.37H66z"/>
<path fill="#ffea00" d="M44 20.09H54V22.1H44zM40 22.1H42V24.11H40zM52 22.1H54V24.11H52zM36 24.11H38V26.12H36zM52 24.11H54V26.12H52zM52 26.12H54V28.13H52zM36 28.13H50V30.14H36zM62 78.35H64V80.36H62zM56 80.36H58V82.37H56zM64 80.36H66V82.37H64z"/>
<path fill="#ffd500" d="M42 22.1H44V24.11H42zM38 24.11H40V26.12H38zM36 26.12H40V28.13H36zM50 26.12H52V28.13H50zM64 78.35H70V80.36H64zM58 80.36H64V82.37H58z"/>
<path fill="#ffbf00" d="M44 22.1H52V24.11H44zM40 24.11H52V26.12H40zM40 26.12H50V28.13H40z"/>
</g>
<path d="M8.8 48.4L4.4 46.6L4.0 44.8L2.2 42.6L3.6 39.6L6.6 37.8L6.6 34.7L8.8 32.5L11.4 30.3L13.6 27.6L16.3 25.0L21.1 24.1L22.9 26.3L28.1 26.8L25.9 28.1L23.7 29.9L27.7 33.4L30.3 34.3L35.6 32.1L37.3 31.2L41.3 30.7L42.1 29.9L36.9 29.9L34.7 28.5L35.1 26.3L37.3 25.0L42.6 24.1L47.9 22.4L53.1 21.9L50.0 23.7L47.0 24.6L49.2 26.3L47.4 27.2L47.9 29.0L46.1 29.9L43.0 30.7L44.8 32.5L48.7 34.3L53.1 36.9L56.6 39.1L61.0 41.3L63.2 43.5L63.6 46.6L61.9 47.9L57.9 49.3L54.4 48.8L49.6 49.7L45.7 48.8L41.7 47.9L39.5 46.2L35.1 44.8L30.3 44.8L27.2 44.8L22.9 45.7L18.9 47.9L14.1 48.4L8.8 48.4M-0.4 51.0L2.2 51.9L7.9 51.9L11.0 50.4L8.4 49.3L4.0 49.3L1.4 50.1L-0.4 50.8M109.3 23.2L104.9 23.2L100.5 24.6L97.0 25.4L93.9 27.2L89.5 28.5L86.4 30.3L86.0 33.4L88.6 36.9L89.5 40.4L91.7 44.8L94.3 45.7L97.0 49.3L98.3 51.0L101.8 51.9L97.9 53.7L97.4 56.7L95.7 60.3L96.1 64.2L101.4 65.1L104.9 67.8L109.3 68.2M109.3 29.9L106.2 30.7L104.9 33.4L101.8 34.3L104.4 38.2L106.2 39.6L109.3 41.3M-0.4 68.2L4.9 68.2L8.8 70.0L11.4 70.4L14.5 70.0L15.4 67.8L17.1 67.6L21.5 69.1L24.2 70.9L28.6 70.4L32.9 67.8L37.3 68.7L40.0 67.8L39.1 70.0L38.2 72.2L38.6 75.7L38.2 77.9L36.9 80.6L35.1 84.1L34.3 87.6L32.5 91.1L31.2 92.0L28.1 92.9L24.2 92.9L22.9 92.0L20.7 91.1L17.1 90.7L14.1 91.6L10.6 93.8L6.2 93.3L-0.4 91.6M23.9 97.8L23.3 100.0L24.6 103.0L26.8 106.6L28.6 109.7L29.4 111.0M23.9 97.8L24.6 100.0L26.8 103.9L28.6 107.0L31.2 107.7L32.5 105.3L34.3 100.0L33.8 104.4L35.6 108.8L36.9 111.0M22.9 75.7L25.5 74.8L28.6 74.2L32.9 72.6L30.3 75.7L28.6 76.6L25.9 77.5L23.3 77.0L22.9 75.7M90.4 97.3L92.6 97.8L94.3 98.2L95.7 96.4L97.0 95.6L98.7 97.3L101.4 96.9L103.1 100.0L104.4 103.0L106.6 107.0L109.3 108.8M92.6 97.8L91.5 99.5L92.6 102.2L93.9 104.8L95.2 107.5L97.0 109.7L98.3 111.0M-0.4 60.7L0.9 60.7L0.5 62.9L2.2 66.0L0.9 66.9L5.3 66.9L1.8 68.0" fill="none" stroke="#0a0a0a" stroke-width="0.7" stroke-linejoin="round"/>
<path d="M43.55 55.20L46.37 63.02L54.68 63.28L48.11 68.38L50.43 76.37L43.55 71.70L36.67 76.37L38.99 68.38L32.42 63.28L40.73 63.02zM43.55 62.50L44.61 65.44L47.73 65.54L45.27 67.46L46.14 70.46L43.55 68.70L40.96 70.46L41.83 67.46L39.37 65.54L42.49 65.44z" fill="#fb0d14" fill-rule="evenodd"/>
</g>
<text x="81" y="160.5" font-size="7.4" text-anchor="middle" style="fill:#0a0a0a">2023/01/26-2023/01/31</text>
<text x="28.6" y="177.9" font-size="12" fill="#000" style="fill:#000">(b)</text>
<text x="38.8" y="283.1" font-size="7.4" text-anchor="middle">30</text>
<text x="23.2" y="263.5" font-size="7.4" text-anchor="end">30</text>
<text x="60.7" y="283.1" font-size="7.4" text-anchor="middle">35</text>
<text x="23.2" y="241.4" font-size="7.4" text-anchor="end">35</text>
<text x="82.6" y="283.1" font-size="7.4" text-anchor="middle">40</text>
<text x="23.2" y="219.4" font-size="7.4" text-anchor="end">40</text>
<text x="104.6" y="283.1" font-size="7.4" text-anchor="middle">45</text>
<text x="23.2" y="197.3" font-size="7.4" text-anchor="end">45</text>
<text x="126.5" y="283.1" font-size="7.4" text-anchor="middle">50</text>
<text x="23.2" y="175.3" font-size="7.4" text-anchor="end">50</text>
<text x="80.6" y="292.5" font-size="7.3" text-anchor="middle">GeoLong</text>
<text transform="translate(11.1,218.25) rotate(-90)" font-size="7.4" text-anchor="middle">GeoLat</text>
<rect x="141" y="163.6" width="10.9" height="109.9" fill="url(#jet)" stroke="#000" stroke-opacity="0.35" stroke-width="0.5"/>
<text x="154" y="166.3" font-size="6.1">3</text>
<text x="154" y="193.8" font-size="6.1">2.5</text>
<text x="154" y="221.2" font-size="6.1">2</text>
<text x="154" y="248.7" font-size="6.1">1.5</text>
<text x="154" y="276.2" font-size="6.1">1</text>
<text transform="translate(173.8,219.55) rotate(-90)" font-size="6.4" text-anchor="middle">log<tspan font-size="4.6" dy="1.6">10</tspan><tspan dy="-1.6">(/cm</tspan><tspan font-size="4.6" dy="-2.4">2</tspan><tspan dy="2.4">/s/sr)</tspan></text>
<path d="M114.8 213.2L101.0 228.1" stroke="#fb0d14" stroke-width="2.5" fill="none"/>
<polygon points="96.7,232.7 99.2,225.7 103.5,229.7" fill="#fb0d14"/>
<g transform="translate(206,13)" clip-path="url(#clc)">
<g filter="url(#bl)" shape-rendering="crispEdges">
<rect x="-4" y="-4" width="127.5" height="118.5" fill="#00caff"/>
<path fill="#0000ff" d="M25.89 56.25H31.87V58.26H25.89zM21.91 58.26H25.89V60.27H21.91zM63.73 74.34H75.68V76.35H63.73zM57.76 76.35H69.71V78.35H57.76zM55.77 78.35H63.73V80.36H55.77zM101.6 96.44H115.5V98.45H101.6zM93.61 98.45H115.5V100.5H93.61zM89.62 100.5H109.5V102.5H89.62zM89.62 102.5H103.6V104.5H89.62z"/>
<path fill="#0015ff" d="M23.9 54.25H37.84V56.25H23.9zM19.92 56.25H25.89V58.26H19.92zM31.87 56.25H37.84V58.26H31.87zM15.93 58.26H21.91V60.27H15.93zM25.89 58.26H33.86V60.27H25.89zM15.93 60.27H23.9V62.28H15.93zM67.72 72.33H77.67V74.34H67.72zM59.75 74.34H63.73V76.35H59.75zM75.68 74.34H77.67V76.35H75.68zM55.77 76.35H57.76V78.35H55.77zM69.71 76.35H73.69V78.35H69.71zM63.73 78.35H65.72V80.36H63.73zM55.77 80.36H57.76V82.37H55.77zM105.6 94.43H115.5V96.44H105.6zM97.59 96.44H101.6V98.45H97.59zM115.5 96.44H117.5V98.45H115.5zM89.62 98.45H93.61V100.5H89.62zM87.63 100.5H89.62V102.5H87.63zM109.5 100.5H113.5V102.5H109.5zM103.6 102.5H111.5V104.5H103.6zM91.62 104.5H111.5V106.5H91.62zM95.6 106.5H111.5V108.5H95.6zM95.6 108.5H111.5V114.5H95.6z"/>
<path fill="#002aff" d="M15.93 52.24H39.83V54.25H15.93zM13.94 54.25H23.9V56.25H13.94zM37.84 54.25H39.83V56.25H37.84zM15.93 56.25H19.92V58.26H15.93zM37.84 56.25H39.83V58.26H37.84zM13.94 58.26H15.93V60.27H13.94zM33.86 58.26H37.84V60.27H33.86zM93.61 58.26H97.59V60.27H93.61zM9.958 60.27H15.93V62.28H9.958zM23.9 60.27H29.88V62.28H23.9zM63.73 72.33H67.72V74.34H63.73zM57.76 74.34H59.75V76.35H57.76zM73.69 76.35H75.68V78.35H73.69zM53.77 78.35H55.77V80.36H53.77zM65.72 78.35H67.72V80.36H65.72zM53.77 80.36H55.77V82.37H53.77zM57.76 80.36H59.75V82.37H57.76zM105.6 88.4H111.5V90.41H105.6zM103.6 90.41H109.5V92.42H103.6zM105.6 92.42H107.5V94.43H105.6zM99.58 94.43H105.6V96.44H99.58zM93.61 96.44H97.59V98.45H93.61zM115.5 98.45H117.5V100.5H115.5zM13.94 100.5H23.9V102.5H13.94zM113.5 100.5H117.5V102.5H113.5zM1.992 102.5H21.91V104.5H1.992zM87.63 102.5H89.62V104.5H87.63zM111.5 102.5H123.5V104.5H111.5zM1.992 104.5H19.92V106.5H1.992zM89.62 104.5H91.62V106.5H89.62zM111.5 104.5H123.5V106.5H111.5zM3.983 106.5H19.92V108.5H3.983zM91.62 106.5H95.6V108.5H91.62zM111.5 106.5H123.5V108.5H111.5zM7.967 108.5H19.92V114.5H7.967zM91.62 108.5H95.6V114.5H91.62zM111.5 108.5H123.5V114.5H111.5z"/>
<path fill="#0040ff" d="M27.88 50.23H37.84V52.24H27.88zM11.95 52.24H15.93V54.25H11.95zM39.83 52.24H43.82V54.25H39.83zM11.95 54.25H13.94V56.25H11.95zM39.83 54.25H41.83V56.25H39.83zM61.74 54.25H67.72V56.25H61.74zM13.94 56.25H15.93V58.26H13.94zM49.79 56.25H59.75V58.26H49.79zM95.6 56.25H99.58V58.26H95.6zM11.95 58.26H13.94V60.27H11.95zM37.84 58.26H39.83V60.27H37.84zM87.63 58.26H93.61V60.27H87.63zM97.59 58.26H99.58V60.27H97.59zM7.967 60.27H9.958V62.28H7.967zM29.88 60.27H33.86V62.28H29.88zM87.63 60.27H95.6V62.28H87.63zM19.92 62.28H25.89V64.29H19.92zM73.69 70.32H77.67V72.33H73.69zM61.74 72.33H63.73V74.34H61.74zM77.67 72.33H79.67V74.34H77.67zM55.77 74.34H57.76V76.35H55.77zM77.67 74.34H79.67V76.35H77.67zM67.72 78.35H69.71V80.36H67.72zM49.79 80.36H53.77V82.37H49.79zM59.75 80.36H61.74V82.37H59.75zM47.8 82.37H51.78V84.38H47.8zM115.5 84.38H123.5V86.39H115.5zM89.62 86.39H95.6V88.4H89.62zM107.5 86.39H123.5V88.4H107.5zM91.62 88.4H97.59V90.41H91.62zM101.6 88.4H105.6V90.41H101.6zM111.5 88.4H117.5V90.41H111.5zM101.6 90.41H103.6V92.42H101.6zM109.5 90.41H113.5V92.42H109.5zM95.6 92.42H105.6V94.43H95.6zM107.5 92.42H115.5V94.43H107.5zM93.61 94.43H99.58V96.44H93.61zM115.5 94.43H123.5V96.44H115.5zM-4 96.44H1.992V98.45H-4zM91.62 96.44H93.61V98.45H91.62zM117.5 96.44H123.5V98.45H117.5zM-4 98.45H3.983V100.5H-4zM87.63 98.45H89.62V100.5H87.63zM117.5 98.45H123.5V100.5H117.5zM-4 100.5H13.94V102.5H-4zM117.5 100.5H123.5V102.5H117.5zM-4 102.5H1.992V104.5H-4zM21.91 102.5H23.9V104.5H21.91zM-4 104.5H1.992V106.5H-4zM19.92 104.5H21.91V106.5H19.92zM87.63 104.5H89.62V106.5H87.63zM-4 106.5H3.983V108.5H-4zM19.92 106.5H21.91V108.5H19.92zM87.63 106.5H91.62V108.5H87.63zM1.992 108.5H7.967V114.5H1.992zM19.92 108.5H21.91V114.5H19.92zM87.63 108.5H91.62V114.5H87.63z"/>
<path fill="#0055ff" d="M103.6 44.2H113.5V46.21H103.6zM95.6 46.21H109.5V48.22H95.6zM93.61 48.22H103.6V50.23H93.61zM19.92 50.23H27.88V52.24H19.92zM37.84 50.23H43.82V52.24H37.84zM9.958 52.24H11.95V54.25H9.958zM43.82 52.24H45.81V54.25H43.82zM9.958 54.25H11.95V56.25H9.958zM41.83 54.25H43.82V56.25H41.83zM51.78 54.25H61.74V56.25H51.78zM67.72 54.25H73.69V56.25H67.72zM11.95 56.25H13.94V58.26H11.95zM39.83 56.25H43.82V58.26H39.83zM59.75 56.25H65.72V58.26H59.75zM91.62 56.25H95.6V58.26H91.62zM9.958 58.26H11.95V60.27H9.958zM39.83 58.26H41.83V60.27H39.83zM85.64 58.26H87.63V60.27H85.64zM99.58 58.26H101.6V60.27H99.58zM33.86 60.27H39.83V62.28H33.86zM83.65 60.27H87.63V62.28H83.65zM95.6 60.27H99.58V62.28H95.6zM9.958 62.28H19.92V64.29H9.958zM25.89 62.28H31.87V64.29H25.89zM91.62 62.28H95.6V64.29H91.62zM71.7 70.32H73.69V72.33H71.7zM59.75 72.33H61.74V74.34H59.75zM53.77 74.34H55.77V76.35H53.77zM53.77 76.35H55.77V78.35H53.77zM75.68 76.35H77.67V78.35H75.68zM51.78 78.35H53.77V80.36H51.78zM69.71 78.35H71.7V80.36H69.71zM47.8 80.36H49.79V82.37H47.8zM61.74 80.36H63.73V82.37H61.74zM81.66 80.36H89.62V82.37H81.66zM51.78 82.37H53.77V84.38H51.78zM79.67 82.37H91.62V84.38H79.67zM117.5 82.37H123.5V84.38H117.5zM87.63 84.38H97.59V86.39H87.63zM111.5 84.38H115.5V86.39H111.5zM87.63 86.39H89.62V88.4H87.63zM95.6 86.39H107.5V88.4H95.6zM87.63 88.4H91.62V90.41H87.63zM97.59 88.4H101.6V90.41H97.59zM117.5 88.4H123.5V90.41H117.5zM89.62 90.41H101.6V92.42H89.62zM113.5 90.41H117.5V92.42H113.5zM-4 92.42H3.983V94.43H-4zM89.62 92.42H95.6V94.43H89.62zM115.5 92.42H123.5V94.43H115.5zM-4 94.43H7.967V96.44H-4zM91.62 94.43H93.61V96.44H91.62zM1.992 96.44H7.967V98.45H1.992zM89.62 96.44H91.62V98.45H89.62zM3.983 98.45H23.9V100.5H3.983zM23.9 100.5H25.89V102.5H23.9zM85.64 100.5H87.63V102.5H85.64zM23.9 102.5H25.89V104.5H23.9zM85.64 102.5H87.63V104.5H85.64zM21.91 104.5H25.89V106.5H21.91zM85.64 104.5H87.63V106.5H85.64zM21.91 106.5H25.89V108.5H21.91zM85.64 106.5H87.63V108.5H85.64zM-4 108.5H1.992V114.5H-4zM21.91 108.5H25.89V114.5H21.91zM85.64 108.5H87.63V114.5H85.64z"/>
<path fill="#006aff" d="M109.5 42.19H113.5V44.2H109.5zM99.58 44.2H103.6V46.21H99.58zM113.5 44.2H115.5V46.21H113.5zM93.61 46.21H95.6V48.22H93.61zM109.5 46.21H113.5V48.22H109.5zM103.6 48.22H107.5V50.23H103.6zM15.93 50.23H19.92V52.24H15.93zM43.82 50.23H45.81V52.24H43.82zM93.61 50.23H99.58V52.24H93.61zM43.82 54.25H45.81V56.25H43.82zM49.79 54.25H51.78V56.25H49.79zM97.59 54.25H99.58V56.25H97.59zM9.958 56.25H11.95V58.26H9.958zM43.82 56.25H49.79V58.26H43.82zM65.72 56.25H69.71V58.26H65.72zM89.62 56.25H91.62V58.26H89.62zM99.58 56.25H101.6V58.26H99.58zM7.967 58.26H9.958V60.27H7.967zM41.83 58.26H55.77V60.27H41.83zM83.65 58.26H85.64V60.27H83.65zM39.83 60.27H45.81V62.28H39.83zM81.66 60.27H83.65V62.28H81.66zM99.58 60.27H101.6V62.28H99.58zM7.967 62.28H9.958V64.29H7.967zM31.87 62.28H41.83V64.29H31.87zM89.62 62.28H91.62V64.29H89.62zM95.6 62.28H99.58V64.29H95.6zM17.93 64.29H31.87V66.3H17.93zM91.62 64.29H97.59V66.3H91.62zM21.91 66.3H23.9V68.31H21.91zM91.62 66.3H95.6V68.31H91.62zM67.72 70.32H71.7V72.33H67.72zM77.67 70.32H79.67V72.33H77.67zM57.76 72.33H59.75V74.34H57.76zM79.67 72.33H81.66V74.34H79.67zM79.67 74.34H81.66V76.35H79.67zM49.79 78.35H51.78V80.36H49.79zM85.64 78.35H91.62V80.36H85.64zM79.67 80.36H81.66V82.37H79.67zM89.62 80.36H91.62V82.37H89.62zM53.77 82.37H55.77V84.38H53.77zM77.67 82.37H79.67V84.38H77.67zM91.62 82.37H93.61V84.38H91.62zM115.5 82.37H117.5V84.38H115.5zM83.65 84.38H87.63V86.39H83.65zM97.59 84.38H103.6V86.39H97.59zM107.5 84.38H111.5V86.39H107.5zM83.65 86.39H87.63V88.4H83.65zM85.64 88.4H87.63V90.41H85.64zM-4 90.41H7.967V92.42H-4zM85.64 90.41H89.62V92.42H85.64zM117.5 90.41H123.5V92.42H117.5zM3.983 92.42H9.958V94.43H3.983zM87.63 92.42H89.62V94.43H87.63zM7.967 94.43H11.95V96.44H7.967zM87.63 94.43H91.62V96.44H87.63zM7.967 96.44H13.94V98.45H7.967zM87.63 96.44H89.62V98.45H87.63zM85.64 98.45H87.63V100.5H85.64zM25.89 102.5H27.88V104.5H25.89zM83.65 102.5H85.64V104.5H83.65zM25.89 104.5H27.88V106.5H25.89zM83.65 104.5H85.64V106.5H83.65zM25.89 106.5H27.88V108.5H25.89zM83.65 106.5H85.64V108.5H83.65zM25.89 108.5H27.88V114.5H25.89zM83.65 108.5H85.64V114.5H83.65z"/>
<path fill="#0080ff" d="M105.6 42.19H109.5V44.2H105.6zM113.5 42.19H115.5V44.2H113.5zM97.59 44.2H99.58V46.21H97.59zM113.5 46.21H115.5V48.22H113.5zM91.62 48.22H93.61V50.23H91.62zM107.5 48.22H111.5V50.23H107.5zM11.95 50.23H15.93V52.24H11.95zM99.58 50.23H109.5V52.24H99.58zM63.73 52.24H73.69V54.25H63.73zM97.59 52.24H109.5V54.25H97.59zM45.81 54.25H49.79V56.25H45.81zM93.61 54.25H97.59V56.25H93.61zM99.58 54.25H107.5V56.25H99.58zM69.71 56.25H73.69V58.26H69.71zM87.63 56.25H89.62V58.26H87.63zM101.6 56.25H105.6V58.26H101.6zM55.77 58.26H59.75V60.27H55.77zM101.6 58.26H105.6V60.27H101.6zM45.81 60.27H53.77V62.28H45.81zM101.6 60.27H103.6V62.28H101.6zM41.83 62.28H53.77V64.29H41.83zM99.58 62.28H103.6V64.29H99.58zM15.93 64.29H17.93V66.3H15.93zM31.87 64.29H51.78V66.3H31.87zM89.62 64.29H91.62V66.3H89.62zM97.59 64.29H101.6V66.3H97.59zM15.93 66.3H21.91V68.31H15.93zM23.9 66.3H49.79V68.31H23.9zM89.62 66.3H91.62V68.31H89.62zM95.6 66.3H99.58V68.31H95.6zM19.92 68.31H25.89V70.32H19.92zM43.82 68.31H49.79V70.32H43.82zM85.64 68.31H95.6V70.32H85.64zM45.81 70.32H49.79V72.33H45.81zM65.72 70.32H67.72V72.33H65.72zM79.67 70.32H83.65V72.33H79.67zM45.81 72.33H53.77V74.34H45.81zM55.77 72.33H57.76V74.34H55.77zM81.66 72.33H83.65V74.34H81.66zM47.8 74.34H53.77V76.35H47.8zM81.66 74.34H83.65V76.35H81.66zM51.78 76.35H53.77V78.35H51.78zM77.67 76.35H79.67V78.35H77.67zM71.7 78.35H73.69V80.36H71.7zM79.67 78.35H85.64V80.36H79.67zM91.62 78.35H93.61V80.36H91.62zM63.73 80.36H65.72V82.37H63.73zM77.67 80.36H79.67V82.37H77.67zM45.81 82.37H47.8V84.38H45.81zM55.77 82.37H57.76V84.38H55.77zM93.61 82.37H95.6V84.38H93.61zM97.59 82.37H103.6V84.38H97.59zM111.5 82.37H115.5V84.38H111.5zM43.82 84.38H47.8V86.39H43.82zM77.67 84.38H83.65V86.39H77.67zM103.6 84.38H107.5V86.39H103.6zM43.82 86.39H45.81V88.4H43.82zM81.66 86.39H83.65V88.4H81.66zM-4 88.4H9.958V90.41H-4zM83.65 88.4H85.64V90.41H83.65zM7.967 90.41H11.95V92.42H7.967zM83.65 90.41H85.64V92.42H83.65zM9.958 92.42H13.94V94.43H9.958zM85.64 92.42H87.63V94.43H85.64zM11.95 94.43H15.93V96.44H11.95zM85.64 94.43H87.63V96.44H85.64zM13.94 96.44H17.93V98.45H13.94zM85.64 96.44H87.63V98.45H85.64zM23.9 98.45H33.86V100.5H23.9zM83.65 98.45H85.64V100.5H83.65zM25.89 100.5H37.84V102.5H25.89zM83.65 100.5H85.64V102.5H83.65zM27.88 102.5H41.83V104.5H27.88zM81.66 102.5H83.65V104.5H81.66zM27.88 104.5H43.82V106.5H27.88zM81.66 104.5H83.65V106.5H81.66zM27.88 106.5H43.82V108.5H27.88zM81.66 106.5H83.65V108.5H81.66zM27.88 108.5H43.82V114.5H27.88zM81.66 108.5H83.65V114.5H81.66z"/>
<path fill="#0095ff" d="M103.6 42.19H105.6V44.2H103.6zM95.6 44.2H97.59V46.21H95.6zM115.5 44.2H117.5V46.21H115.5zM91.62 46.21H93.61V48.22H91.62zM115.5 46.21H117.5V48.22H115.5zM111.5 48.22H123.5V50.23H111.5zM9.958 50.23H11.95V52.24H9.958zM91.62 50.23H93.61V52.24H91.62zM109.5 50.23H123.5V52.24H109.5zM7.967 52.24H9.958V54.25H7.967zM45.81 52.24H47.8V54.25H45.81zM55.77 52.24H63.73V54.25H55.77zM91.62 52.24H97.59V54.25H91.62zM109.5 52.24H123.5V54.25H109.5zM7.967 54.25H9.958V56.25H7.967zM73.69 54.25H75.68V56.25H73.69zM89.62 54.25H93.61V56.25H89.62zM107.5 54.25H123.5V56.25H107.5zM7.967 56.25H9.958V58.26H7.967zM85.64 56.25H87.63V58.26H85.64zM105.6 56.25H123.5V58.26H105.6zM59.75 58.26H63.73V60.27H59.75zM81.66 58.26H83.65V60.27H81.66zM105.6 58.26H113.5V60.27H105.6zM53.77 60.27H59.75V62.28H53.77zM103.6 60.27H109.5V62.28H103.6zM53.77 62.28H57.76V64.29H53.77zM83.65 62.28H85.64V64.29H83.65zM87.63 62.28H89.62V64.29H87.63zM103.6 62.28H107.5V64.29H103.6zM13.94 64.29H15.93V66.3H13.94zM51.78 64.29H57.76V66.3H51.78zM101.6 64.29H105.6V66.3H101.6zM13.94 66.3H15.93V68.31H13.94zM49.79 66.3H53.77V68.31H49.79zM87.63 66.3H89.62V68.31H87.63zM99.58 66.3H103.6V68.31H99.58zM13.94 68.31H19.92V70.32H13.94zM25.89 68.31H43.82V70.32H25.89zM49.79 68.31H51.78V70.32H49.79zM81.66 68.31H85.64V70.32H81.66zM95.6 68.31H99.58V70.32H95.6zM15.93 70.32H45.81V72.33H15.93zM49.79 70.32H51.78V72.33H49.79zM61.74 70.32H65.72V72.33H61.74zM83.65 70.32H91.62V72.33H83.65zM31.87 72.33H45.81V74.34H31.87zM53.77 72.33H55.77V74.34H53.77zM83.65 72.33H87.63V74.34H83.65zM-4 74.34H9.958V76.35H-4zM35.85 74.34H47.8V76.35H35.85zM83.65 74.34H85.64V76.35H83.65zM-4 76.35H11.95V78.35H-4zM49.79 76.35H51.78V78.35H49.79zM79.67 76.35H97.59V78.35H79.67zM-4 78.35H11.95V80.36H-4zM47.8 78.35H49.79V80.36H47.8zM73.69 78.35H79.67V80.36H73.69zM-4 80.36H9.958V82.37H-4zM45.81 80.36H47.8V82.37H45.81zM65.72 80.36H69.71V82.37H65.72zM91.62 80.36H93.61V82.37H91.62zM113.5 80.36H123.5V82.37H113.5zM-4 82.37H7.967V84.38H-4zM57.76 82.37H59.75V84.38H57.76zM75.68 82.37H77.67V84.38H75.68zM95.6 82.37H97.59V84.38H95.6zM103.6 82.37H111.5V84.38H103.6zM-4 84.38H7.967V86.39H-4zM41.83 84.38H43.82V86.39H41.83zM47.8 84.38H51.78V86.39H47.8zM71.7 84.38H77.67V86.39H71.7zM-4 86.39H9.958V88.4H-4zM41.83 86.39H43.82V88.4H41.83zM45.81 86.39H47.8V88.4H45.81zM57.76 86.39H65.72V88.4H57.76zM77.67 86.39H81.66V88.4H77.67zM9.958 88.4H13.94V90.41H9.958zM55.77 88.4H61.74V90.41H55.77zM81.66 88.4H83.65V90.41H81.66zM11.95 90.41H17.93V92.42H11.95zM81.66 90.41H83.65V92.42H81.66zM13.94 92.42H17.93V94.43H13.94zM45.81 92.42H53.77V94.43H45.81zM83.65 92.42H85.64V94.43H83.65zM15.93 94.43H17.93V96.44H15.93zM37.84 94.43H49.79V96.44H37.84zM83.65 94.43H85.64V96.44H83.65zM17.93 96.44H47.8V98.45H17.93zM83.65 96.44H85.64V98.45H83.65zM33.86 98.45H47.8V100.5H33.86zM81.66 98.45H83.65V100.5H81.66zM37.84 100.5H47.8V102.5H37.84zM81.66 100.5H83.65V102.5H81.66zM41.83 102.5H47.8V104.5H41.83zM79.67 102.5H81.66V104.5H79.67zM43.82 104.5H49.79V106.5H43.82zM79.67 104.5H81.66V106.5H79.67zM43.82 106.5H49.79V108.5H43.82zM79.67 106.5H81.66V108.5H79.67zM43.82 108.5H49.79V114.5H43.82zM77.67 108.5H81.66V114.5H77.67z"/>
<path fill="#00aaff" d="M89.62 42.19H103.6V44.2H89.62zM115.5 42.19H117.5V44.2H115.5zM79.67 44.2H95.6V46.21H79.67zM117.5 44.2H123.5V46.21H117.5zM71.7 46.21H77.67V48.22H71.7zM117.5 46.21H123.5V48.22H117.5zM25.89 48.22H35.85V50.23H25.89zM89.62 48.22H91.62V50.23H89.62zM87.63 50.23H91.62V52.24H87.63zM1.992 52.24H7.967V54.25H1.992zM47.8 52.24H55.77V54.25H47.8zM73.69 52.24H75.68V54.25H73.69zM83.65 52.24H91.62V54.25H83.65zM1.992 54.25H7.967V56.25H1.992zM79.67 54.25H89.62V56.25H79.67zM5.975 56.25H7.967V58.26H5.975zM73.69 56.25H75.68V58.26H73.69zM81.66 56.25H85.64V58.26H81.66zM63.73 58.26H67.72V60.27H63.73zM113.5 58.26H123.5V60.27H113.5zM5.975 60.27H7.967V62.28H5.975zM59.75 60.27H63.73V62.28H59.75zM109.5 60.27H123.5V62.28H109.5zM57.76 62.28H61.74V64.29H57.76zM85.64 62.28H87.63V64.29H85.64zM107.5 62.28H123.5V64.29H107.5zM11.95 64.29H13.94V66.3H11.95zM57.76 64.29H61.74V66.3H57.76zM105.6 64.29H117.5V66.3H105.6zM11.95 66.3H13.94V68.31H11.95zM53.77 66.3H55.77V68.31H53.77zM85.64 66.3H87.63V68.31H85.64zM103.6 66.3H109.5V68.31H103.6zM11.95 68.31H13.94V70.32H11.95zM75.68 68.31H81.66V70.32H75.68zM99.58 68.31H103.6V70.32H99.58zM9.958 70.32H15.93V72.33H9.958zM59.75 70.32H61.74V72.33H59.75zM91.62 70.32H97.59V72.33H91.62zM1.992 72.33H31.87V74.34H1.992zM87.63 72.33H89.62V74.34H87.63zM9.958 74.34H35.85V76.35H9.958zM85.64 74.34H89.62V76.35H85.64zM93.61 74.34H99.58V76.35H93.61zM11.95 76.35H19.92V78.35H11.95zM29.88 76.35H49.79V78.35H29.88zM97.59 76.35H99.58V78.35H97.59zM11.95 78.35H19.92V80.36H11.95zM45.81 78.35H47.8V80.36H45.81zM93.61 78.35H95.6V80.36H93.61zM115.5 78.35H123.5V80.36H115.5zM9.958 80.36H15.93V82.37H9.958zM69.71 80.36H77.67V82.37H69.71zM105.6 80.36H113.5V82.37H105.6zM7.967 82.37H9.958V84.38H7.967zM43.82 82.37H45.81V84.38H43.82zM59.75 82.37H75.68V84.38H59.75zM7.967 84.38H9.958V86.39H7.967zM39.83 84.38H41.83V86.39H39.83zM51.78 84.38H71.7V86.39H51.78zM9.958 86.39H11.95V88.4H9.958zM37.84 86.39H41.83V88.4H37.84zM47.8 86.39H57.76V88.4H47.8zM65.72 86.39H77.67V88.4H65.72zM13.94 88.4H21.91V90.41H13.94zM37.84 88.4H55.77V90.41H37.84zM61.74 88.4H63.73V90.41H61.74zM77.67 88.4H81.66V90.41H77.67zM17.93 90.41H25.89V92.42H17.93zM41.83 90.41H59.75V92.42H41.83zM79.67 90.41H81.66V92.42H79.67zM17.93 92.42H21.91V94.43H17.93zM37.84 92.42H45.81V94.43H37.84zM53.77 92.42H57.76V94.43H53.77zM81.66 92.42H83.65V94.43H81.66zM17.93 94.43H19.92V96.44H17.93zM27.88 94.43H37.84V96.44H27.88zM49.79 94.43H55.77V96.44H49.79zM81.66 94.43H83.65V96.44H81.66zM47.8 96.44H53.77V98.45H47.8zM81.66 96.44H83.65V98.45H81.66zM47.8 98.45H53.77V100.5H47.8zM47.8 100.5H51.78V102.5H47.8zM79.67 100.5H81.66V102.5H79.67zM47.8 102.5H51.78V104.5H47.8zM77.67 102.5H79.67V104.5H77.67zM49.79 104.5H51.78V106.5H49.79zM77.67 104.5H79.67V106.5H77.67zM49.79 106.5H51.78V108.5H49.79zM77.67 106.5H79.67V108.5H77.67zM49.79 108.5H51.78V114.5H49.79zM75.68 108.5H77.67V114.5H75.68z"/>
<path fill="#00bfff" d="M95.6 40.18H115.5V42.19H95.6zM83.65 42.19H89.62V44.2H83.65zM117.5 42.19H123.5V44.2H117.5zM69.71 44.2H79.67V46.21H69.71zM69.71 46.21H71.7V48.22H69.71zM77.67 46.21H91.62V48.22H77.67zM15.93 48.22H25.89V50.23H15.93zM35.85 48.22H41.83V50.23H35.85zM69.71 48.22H89.62V50.23H69.71zM-4 50.23H9.958V52.24H-4zM45.81 50.23H47.8V52.24H45.81zM57.76 50.23H87.63V52.24H57.76zM-4 52.24H1.992V54.25H-4zM75.68 52.24H83.65V54.25H75.68zM-4 54.25H1.992V56.25H-4zM75.68 54.25H79.67V56.25H75.68zM75.68 56.25H81.66V58.26H75.68zM5.975 58.26H7.967V60.27H5.975zM67.72 58.26H73.69V60.27H67.72zM77.67 58.26H81.66V60.27H77.67zM63.73 60.27H67.72V62.28H63.73zM79.67 60.27H81.66V62.28H79.67zM61.74 62.28H65.72V64.29H61.74zM81.66 62.28H83.65V64.29H81.66zM9.958 64.29H11.95V66.3H9.958zM61.74 64.29H63.73V66.3H61.74zM87.63 64.29H89.62V66.3H87.63zM117.5 64.29H123.5V66.3H117.5zM55.77 66.3H59.75V68.31H55.77zM81.66 66.3H85.64V68.31H81.66zM109.5 66.3H123.5V68.31H109.5zM9.958 68.31H11.95V70.32H9.958zM51.78 68.31H53.77V70.32H51.78zM69.71 68.31H75.68V70.32H69.71zM103.6 68.31H123.5V70.32H103.6zM5.975 70.32H9.958V72.33H5.975zM51.78 70.32H53.77V72.33H51.78zM55.77 70.32H59.75V72.33H55.77zM97.59 70.32H115.5V72.33H97.59zM-4 72.33H1.992V74.34H-4zM89.62 72.33H103.6V74.34H89.62zM89.62 74.34H93.61V76.35H89.62zM19.92 76.35H29.88V78.35H19.92zM19.92 78.35H45.81V80.36H19.92zM95.6 78.35H97.59V80.36H95.6zM111.5 78.35H115.5V80.36H111.5zM15.93 80.36H21.91V82.37H15.93zM41.83 80.36H45.81V82.37H41.83zM93.61 80.36H95.6V82.37H93.61zM99.58 80.36H105.6V82.37H99.58zM9.958 82.37H15.93V84.38H9.958zM39.83 82.37H43.82V84.38H39.83zM9.958 84.38H11.95V86.39H9.958zM35.85 84.38H39.83V86.39H35.85zM11.95 86.39H27.88V88.4H11.95zM31.87 86.39H37.84V88.4H31.87zM21.91 88.4H37.84V90.41H21.91zM63.73 88.4H67.72V90.41H63.73zM75.68 88.4H77.67V90.41H75.68zM25.89 90.41H41.83V92.42H25.89zM59.75 90.41H63.73V92.42H59.75zM77.67 90.41H79.67V92.42H77.67zM21.91 92.42H37.84V94.43H21.91zM57.76 92.42H59.75V94.43H57.76zM79.67 92.42H81.66V94.43H79.67zM19.92 94.43H27.88V96.44H19.92zM55.77 94.43H57.76V96.44H55.77zM79.67 94.43H81.66V96.44H79.67zM53.77 96.44H57.76V98.45H53.77zM79.67 96.44H81.66V98.45H79.67zM53.77 98.45H55.77V100.5H53.77zM79.67 98.45H81.66V100.5H79.67zM51.78 100.5H55.77V102.5H51.78zM51.78 102.5H53.77V104.5H51.78zM75.68 102.5H77.67V104.5H75.68zM75.68 104.5H77.67V106.5H75.68zM73.69 106.5H77.67V108.5H73.69zM51.78 108.5H53.77V114.5H51.78zM73.69 108.5H75.68V114.5H73.69z"/>
<path fill="#00d4ff" d="M89.62 40.18H95.6V42.19H89.62zM115.5 40.18H123.5V42.19H115.5zM77.67 42.19H83.65V44.2H77.67zM67.72 46.21H69.71V48.22H67.72zM7.967 48.22H15.93V50.23H7.967zM41.83 48.22H43.82V50.23H41.83zM59.75 48.22H69.71V50.23H59.75zM47.8 50.23H57.76V52.24H47.8zM-4 56.25H5.975V58.26H-4zM73.69 58.26H77.67V60.27H73.69zM67.72 60.27H79.67V62.28H67.72zM5.975 62.28H7.967V64.29H5.975zM65.72 62.28H69.71V64.29H65.72zM79.67 62.28H81.66V64.29H79.67zM7.967 64.29H9.958V66.3H7.967zM63.73 64.29H67.72V66.3H63.73zM83.65 64.29H87.63V66.3H83.65zM9.958 66.3H11.95V68.31H9.958zM59.75 66.3H63.73V68.31H59.75zM79.67 66.3H81.66V68.31H79.67zM7.967 68.31H9.958V70.32H7.967zM53.77 68.31H69.71V70.32H53.77zM1.992 70.32H5.975V72.33H1.992zM53.77 70.32H55.77V72.33H53.77zM115.5 70.32H123.5V72.33H115.5zM103.6 72.33H111.5V74.34H103.6zM99.58 74.34H101.6V76.35H99.58zM99.58 76.35H101.6V78.35H99.58zM117.5 76.35H123.5V78.35H117.5zM97.59 78.35H99.58V80.36H97.59zM107.5 78.35H111.5V80.36H107.5zM21.91 80.36H41.83V82.37H21.91zM95.6 80.36H99.58V82.37H95.6zM15.93 82.37H39.83V84.38H15.93zM11.95 84.38H35.85V86.39H11.95zM27.88 86.39H31.87V88.4H27.88zM67.72 88.4H75.68V90.41H67.72zM63.73 90.41H65.72V92.42H63.73zM75.68 90.41H77.67V92.42H75.68zM59.75 92.42H63.73V94.43H59.75zM77.67 92.42H79.67V94.43H77.67zM57.76 94.43H61.74V96.44H57.76zM57.76 96.44H59.75V98.45H57.76zM55.77 98.45H57.76V100.5H55.77zM55.77 100.5H57.76V102.5H55.77zM77.67 100.5H79.67V102.5H77.67zM53.77 102.5H55.77V104.5H53.77zM73.69 102.5H75.68V104.5H73.69zM51.78 104.5H53.77V106.5H51.78zM71.7 104.5H75.68V106.5H71.7zM51.78 106.5H53.77V108.5H51.78zM71.7 106.5H73.69V108.5H71.7zM53.77 108.5H59.75V114.5H53.77zM71.7 108.5H73.69V114.5H71.7z"/>
<path fill="#00eaff" d="M97.59 38.17H117.5V40.18H97.59zM85.64 40.18H89.62V42.19H85.64zM73.69 42.19H77.67V44.2H73.69zM67.72 44.2H69.71V46.21H67.72zM21.91 46.21H31.87V48.22H21.91zM63.73 46.21H67.72V48.22H63.73zM-4 48.22H7.967V50.23H-4zM43.82 48.22H45.81V50.23H43.82zM55.77 48.22H59.75V50.23H55.77zM69.71 62.28H79.67V64.29H69.71zM67.72 64.29H83.65V66.3H67.72zM7.967 66.3H9.958V68.31H7.967zM63.73 66.3H79.67V68.31H63.73zM5.975 68.31H7.967V70.32H5.975zM-4 70.32H1.992V72.33H-4zM111.5 72.33H123.5V74.34H111.5zM101.6 74.34H111.5V76.35H101.6zM115.5 74.34H123.5V76.35H115.5zM101.6 76.35H103.6V78.35H101.6zM109.5 76.35H117.5V78.35H109.5zM99.58 78.35H107.5V80.36H99.58zM65.72 90.41H75.68V92.42H65.72zM63.73 92.42H65.72V94.43H63.73zM75.68 92.42H77.67V94.43H75.68zM61.74 94.43H63.73V96.44H61.74zM77.67 94.43H79.67V96.44H77.67zM59.75 96.44H61.74V98.45H59.75zM57.76 98.45H59.75V100.5H57.76zM57.76 100.5H59.75V102.5H57.76zM55.77 102.5H59.75V104.5H55.77zM71.7 102.5H73.69V104.5H71.7zM53.77 104.5H59.75V106.5H53.77zM69.71 104.5H71.7V106.5H69.71zM53.77 106.5H63.73V108.5H53.77zM65.72 106.5H71.7V108.5H65.72zM59.75 108.5H71.7V114.5H59.75z"/>
<path fill="#00ffff" d="M103.6 36.16H113.5V38.17H103.6zM89.62 38.17H97.59V40.18H89.62zM117.5 38.17H123.5V40.18H117.5zM79.67 40.18H85.64V42.19H79.67zM69.71 42.19H73.69V44.2H69.71zM65.72 44.2H67.72V46.21H65.72zM-4 46.21H21.91V48.22H-4zM31.87 46.21H35.85V48.22H31.87zM59.75 46.21H63.73V48.22H59.75zM53.77 48.22H55.77V50.23H53.77zM5.975 66.3H7.967V68.31H5.975zM3.983 68.31H5.975V70.32H3.983zM111.5 74.34H115.5V76.35H111.5zM103.6 76.35H109.5V78.35H103.6zM65.72 92.42H75.68V94.43H65.72zM63.73 94.43H65.72V96.44H63.73zM61.74 96.44H63.73V98.45H61.74zM75.68 100.5H77.67V102.5H75.68zM69.71 102.5H71.7V104.5H69.71zM59.75 104.5H69.71V106.5H59.75zM63.73 106.5H65.72V108.5H63.73z"/>
<path fill="#15ffea" d="M53.77 8.036H63.73V10.05H53.77zM43.82 10.05H57.76V12.05H43.82zM41.83 12.05H47.8V14.06H41.83zM107.5 34.15H115.5V36.16H107.5zM87.63 36.16H103.6V38.17H87.63zM113.5 36.16H123.5V38.17H113.5zM79.67 38.17H89.62V40.18H79.67zM73.69 40.18H79.67V42.19H73.69zM67.72 42.19H69.71V44.2H67.72zM-4 44.2H33.86V46.21H-4zM61.74 44.2H65.72V46.21H61.74zM35.85 46.21H39.83V48.22H35.85zM57.76 46.21H59.75V48.22H57.76zM45.81 48.22H53.77V50.23H45.81zM5.975 64.29H7.967V66.3H5.975zM-4 68.31H3.983V70.32H-4zM65.72 94.43H73.69V96.44H65.72zM75.68 94.43H77.67V96.44H75.68zM63.73 96.44H65.72V98.45H63.73zM59.75 102.5H61.74V104.5H59.75zM65.72 102.5H69.71V104.5H65.72z"/>
<path fill="#2bffd4" d="M59.75 6.027H73.69V8.036H59.75zM49.79 8.036H53.77V10.05H49.79zM63.73 8.036H69.71V10.05H63.73zM41.83 10.05H43.82V12.05H41.83zM57.76 10.05H61.74V12.05H57.76zM47.8 12.05H57.76V14.06H47.8zM43.82 14.06H59.75V16.07H43.82zM45.81 16.07H61.74V18.08H45.81zM47.8 18.08H63.73V20.09H47.8zM51.78 20.09H61.74V22.1H51.78zM-4 24.11H13.94V26.12H-4zM-4 26.12H19.92V28.13H-4zM-4 28.13H23.9V30.14H-4zM-4 30.14H29.88V32.15H-4zM-4 32.15H31.87V34.15H-4zM95.6 32.15H123.5V34.15H95.6zM-4 34.15H31.87V36.16H-4zM81.66 34.15H107.5V36.16H81.66zM115.5 34.15H123.5V36.16H115.5zM-4 36.16H31.87V38.17H-4zM77.67 36.16H87.63V38.17H77.67zM-4 38.17H31.87V40.18H-4zM73.69 38.17H79.67V40.18H73.69zM-4 40.18H29.88V42.19H-4zM69.71 40.18H73.69V42.19H69.71zM-4 42.19H31.87V44.2H-4zM65.72 42.19H67.72V44.2H65.72zM33.86 44.2H35.85V46.21H33.86zM59.75 44.2H61.74V46.21H59.75zM39.83 46.21H41.83V48.22H39.83zM55.77 46.21H57.76V48.22H55.77zM3.983 66.3H5.975V68.31H3.983zM73.69 94.43H75.68V96.44H73.69zM77.67 96.44H79.67V98.45H77.67zM59.75 98.45H61.74V100.5H59.75zM77.67 98.45H79.67V100.5H77.67zM63.73 102.5H65.72V104.5H63.73z"/>
<path fill="#40ffbf" d="M65.72 4.018H73.69V6.027H65.72zM55.77 6.027H59.75V8.036H55.77zM45.81 8.036H49.79V10.05H45.81zM69.71 8.036H71.7V10.05H69.71zM39.83 10.05H41.83V12.05H39.83zM61.74 10.05H65.72V12.05H61.74zM39.83 12.05H41.83V14.06H39.83zM57.76 12.05H63.73V14.06H57.76zM39.83 14.06H43.82V16.07H39.83zM59.75 14.06H65.72V16.07H59.75zM-4 16.07H23.9V18.08H-4zM39.83 16.07H45.81V18.08H39.83zM61.74 16.07H65.72V18.08H61.74zM-4 18.08H23.9V20.09H-4zM39.83 18.08H47.8V20.09H39.83zM63.73 18.08H65.72V20.09H63.73zM-4 20.09H21.91V22.1H-4zM43.82 20.09H51.78V22.1H43.82zM61.74 20.09H67.72V22.1H61.74zM111.5 20.09H123.5V22.1H111.5zM-4 22.1H23.9V24.11H-4zM47.8 22.1H67.72V24.11H47.8zM99.58 22.1H123.5V24.11H99.58zM13.94 24.11H25.89V26.12H13.94zM95.6 24.11H123.5V26.12H95.6zM19.92 26.12H29.88V28.13H19.92zM91.62 26.12H123.5V28.13H91.62zM23.9 28.13H33.86V30.14H23.9zM85.64 28.13H123.5V30.14H85.64zM29.88 30.14H35.85V32.15H29.88zM81.66 30.14H123.5V32.15H81.66zM31.87 32.15H35.85V34.15H31.87zM77.67 32.15H95.6V34.15H77.67zM31.87 34.15H35.85V36.16H31.87zM75.68 34.15H81.66V36.16H75.68zM31.87 36.16H35.85V38.17H31.87zM73.69 36.16H77.67V38.17H73.69zM31.87 38.17H35.85V40.18H31.87zM71.7 38.17H73.69V40.18H71.7zM29.88 40.18H33.86V42.19H29.88zM67.72 40.18H69.71V42.19H67.72zM31.87 42.19H35.85V44.2H31.87zM61.74 42.19H65.72V44.2H61.74zM35.85 44.2H37.84V46.21H35.85zM57.76 44.2H59.75V46.21H57.76zM41.83 46.21H43.82V48.22H41.83zM51.78 46.21H55.77V48.22H51.78zM3.983 58.26H5.975V60.27H3.983zM1.992 66.3H3.983V68.31H1.992zM65.72 96.44H67.72V98.45H65.72zM73.69 100.5H75.68V102.5H73.69zM61.74 102.5H63.73V104.5H61.74z"/>
<path fill="#55ffaa" d="M61.74 4.018H65.72V6.027H61.74zM53.77 6.027H55.77V8.036H53.77zM73.69 6.027H75.68V8.036H73.69zM43.82 8.036H45.81V10.05H43.82zM71.7 8.036H73.69V10.05H71.7zM65.72 10.05H69.71V12.05H65.72zM37.84 12.05H39.83V14.06H37.84zM63.73 12.05H67.72V14.06H63.73zM-4 14.06H25.89V16.07H-4zM35.85 14.06H39.83V16.07H35.85zM65.72 14.06H67.72V16.07H65.72zM23.9 16.07H27.88V18.08H23.9zM29.88 16.07H39.83V18.08H29.88zM65.72 16.07H67.72V18.08H65.72zM111.5 16.07H123.5V18.08H111.5zM23.9 18.08H39.83V20.09H23.9zM65.72 18.08H67.72V20.09H65.72zM97.59 18.08H123.5V20.09H97.59zM21.91 20.09H43.82V22.1H21.91zM67.72 20.09H71.7V22.1H67.72zM87.63 20.09H111.5V22.1H87.63zM23.9 22.1H47.8V24.11H23.9zM67.72 22.1H99.58V24.11H67.72zM25.89 24.11H41.83V26.12H25.89zM45.81 24.11H95.6V26.12H45.81zM29.88 26.12H37.84V28.13H29.88zM71.7 26.12H91.62V28.13H71.7zM33.86 28.13H37.84V30.14H33.86zM73.69 28.13H85.64V30.14H73.69zM35.85 30.14H37.84V32.15H35.85zM73.69 30.14H81.66V32.15H73.69zM35.85 32.15H37.84V34.15H35.85zM73.69 32.15H77.67V34.15H73.69zM35.85 34.15H37.84V36.16H35.85zM73.69 34.15H75.68V36.16H73.69zM35.85 36.16H37.84V38.17H35.85zM71.7 36.16H73.69V38.17H71.7zM69.71 38.17H71.7V40.18H69.71zM33.86 40.18H35.85V42.19H33.86zM65.72 40.18H67.72V42.19H65.72zM59.75 42.19H61.74V44.2H59.75zM37.84 44.2H39.83V46.21H37.84zM55.77 44.2H57.76V46.21H55.77zM43.82 46.21H51.78V48.22H43.82zM-4 58.26H1.992V60.27H-4zM67.72 96.44H69.71V98.45H67.72zM59.75 100.5H61.74V102.5H59.75zM71.7 100.5H73.69V102.5H71.7z"/>
<path fill="#6aff95" d="M57.76 4.018H61.74V6.027H57.76zM73.69 4.018H75.68V6.027H73.69zM49.79 6.027H53.77V8.036H49.79zM-4 8.036H11.95V10.05H-4zM41.83 8.036H43.82V10.05H41.83zM73.69 8.036H75.68V10.05H73.69zM-4 10.05H17.93V12.05H-4zM37.84 10.05H39.83V12.05H37.84zM69.71 10.05H75.68V12.05H69.71zM-4 12.05H19.92V14.06H-4zM31.87 12.05H37.84V14.06H31.87zM67.72 12.05H75.68V14.06H67.72zM25.89 14.06H35.85V16.07H25.89zM67.72 14.06H71.7V16.07H67.72zM109.5 14.06H123.5V16.07H109.5zM27.88 16.07H29.88V18.08H27.88zM67.72 16.07H69.71V18.08H67.72zM93.61 16.07H111.5V18.08H93.61zM67.72 18.08H97.59V20.09H67.72zM71.7 20.09H87.63V22.1H71.7zM41.83 24.11H45.81V26.12H41.83zM37.84 26.12H45.81V28.13H37.84zM61.74 26.12H71.7V28.13H61.74zM37.84 28.13H41.83V30.14H37.84zM69.71 28.13H73.69V30.14H69.71zM37.84 30.14H39.83V32.15H37.84zM71.7 30.14H73.69V32.15H71.7zM37.84 32.15H39.83V34.15H37.84zM71.7 32.15H73.69V34.15H71.7zM37.84 34.15H39.83V36.16H37.84zM71.7 34.15H73.69V36.16H71.7zM37.84 36.16H39.83V38.17H37.84zM69.71 36.16H71.7V38.17H69.71zM35.85 38.17H37.84V40.18H35.85zM67.72 38.17H69.71V40.18H67.72zM63.73 40.18H65.72V42.19H63.73zM35.85 42.19H37.84V44.2H35.85zM39.83 44.2H43.82V46.21H39.83zM53.77 44.2H55.77V46.21H53.77zM1.992 58.26H3.983V60.27H1.992zM3.983 64.29H5.975V66.3H3.983zM-4 66.3H1.992V68.31H-4zM69.71 96.44H71.7V98.45H69.71zM61.74 98.45H63.73V100.5H61.74zM67.72 100.5H71.7V102.5H67.72z"/>
<path fill="#80ff80" d="M-4 -4H17.93V2.009H-4zM-4 2.009H17.93V4.018H-4zM-4 4.018H17.93V6.027H-4zM53.77 4.018H57.76V6.027H53.77zM75.68 4.018H77.67V6.027H75.68zM-4 6.027H17.93V8.036H-4zM47.8 6.027H49.79V8.036H47.8zM75.68 6.027H83.65V8.036H75.68zM103.6 6.027H123.5V8.036H103.6zM11.95 8.036H17.93V10.05H11.95zM39.83 8.036H41.83V10.05H39.83zM75.68 8.036H123.5V10.05H75.68zM31.87 10.05H37.84V12.05H31.87zM75.68 10.05H123.5V12.05H75.68zM19.92 12.05H31.87V14.06H19.92zM75.68 12.05H123.5V14.06H75.68zM71.7 14.06H109.5V16.07H71.7zM69.71 16.07H93.61V18.08H69.71zM45.81 26.12H61.74V28.13H45.81zM41.83 28.13H45.81V30.14H41.83zM65.72 28.13H69.71V30.14H65.72zM39.83 30.14H43.82V32.15H39.83zM69.71 30.14H71.7V32.15H69.71zM39.83 32.15H41.83V34.15H39.83zM69.71 32.15H71.7V34.15H69.71zM39.83 34.15H41.83V36.16H39.83zM69.71 34.15H71.7V36.16H69.71zM67.72 36.16H69.71V38.17H67.72zM37.84 38.17H39.83V40.18H37.84zM65.72 38.17H67.72V40.18H65.72zM35.85 40.18H37.84V42.19H35.85zM61.74 40.18H63.73V42.19H61.74zM57.76 42.19H59.75V44.2H57.76zM51.78 44.2H53.77V46.21H51.78zM71.7 96.44H77.67V98.45H71.7zM63.73 98.45H65.72V100.5H63.73zM75.68 98.45H77.67V100.5H75.68zM63.73 100.5H67.72V102.5H63.73z"/>
<path fill="#95ff6a" d="M17.93 -4H19.92V2.009H17.93zM17.93 2.009H19.92V4.018H17.93zM57.76 2.009H77.67V4.018H57.76zM103.6 2.009H123.5V4.018H103.6zM17.93 4.018H23.9V6.027H17.93zM47.8 4.018H53.77V6.027H47.8zM77.67 4.018H123.5V6.027H77.67zM17.93 6.027H21.91V8.036H17.93zM43.82 6.027H47.8V8.036H43.82zM83.65 6.027H103.6V8.036H83.65zM17.93 8.036H19.92V10.05H17.93zM37.84 8.036H39.83V10.05H37.84zM17.93 10.05H19.92V12.05H17.93zM27.88 10.05H31.87V12.05H27.88zM45.81 28.13H49.79V30.14H45.81zM61.74 28.13H65.72V30.14H61.74zM43.82 30.14H45.81V32.15H43.82zM67.72 30.14H69.71V32.15H67.72zM41.83 32.15H43.82V34.15H41.83zM39.83 36.16H41.83V38.17H39.83zM39.83 38.17H41.83V40.18H39.83zM63.73 38.17H65.72V40.18H63.73zM37.84 40.18H39.83V42.19H37.84zM37.84 42.19H41.83V44.2H37.84zM55.77 42.19H57.76V44.2H55.77zM43.82 44.2H45.81V46.21H43.82zM49.79 44.2H51.78V46.21H49.79zM3.983 60.27H5.975V62.28H3.983zM3.983 62.28H5.975V64.29H3.983zM1.992 64.29H3.983V66.3H1.992zM65.72 98.45H75.68V100.5H65.72zM61.74 100.5H63.73V102.5H61.74z"/>
<path fill="#aaff55" d="M19.92 2.009H21.91V4.018H19.92zM49.79 2.009H57.76V4.018H49.79zM77.67 2.009H103.6V4.018H77.67zM23.9 4.018H29.88V6.027H23.9zM45.81 4.018H47.8V6.027H45.81zM21.91 6.027H25.89V8.036H21.91zM39.83 6.027H43.82V8.036H39.83zM19.92 8.036H23.9V10.05H19.92zM31.87 8.036H37.84V10.05H31.87zM19.92 10.05H27.88V12.05H19.92zM49.79 28.13H61.74V30.14H49.79zM45.81 30.14H47.8V32.15H45.81zM63.73 30.14H67.72V32.15H63.73zM43.82 32.15H45.81V34.15H43.82zM67.72 32.15H69.71V34.15H67.72zM41.83 34.15H43.82V36.16H41.83zM67.72 34.15H69.71V36.16H67.72zM41.83 36.16H43.82V38.17H41.83zM65.72 36.16H67.72V38.17H65.72zM39.83 40.18H41.83V42.19H39.83zM41.83 42.19H43.82V44.2H41.83zM45.81 44.2H49.79V46.21H45.81zM-4 60.27H1.992V62.28H-4zM-4 64.29H1.992V66.3H-4z"/>
<path fill="#bfff40" d="M19.92 -4H27.88V2.009H19.92zM47.8 -4H123.5V2.009H47.8zM21.91 2.009H33.86V4.018H21.91zM41.83 2.009H49.79V4.018H41.83zM29.88 4.018H45.81V6.027H29.88zM25.89 6.027H39.83V8.036H25.89zM23.9 8.036H31.87V10.05H23.9zM47.8 30.14H49.79V32.15H47.8zM61.74 30.14H63.73V32.15H61.74zM63.73 32.15H67.72V34.15H63.73zM43.82 34.15H45.81V36.16H43.82zM63.73 34.15H67.72V36.16H63.73zM63.73 36.16H65.72V38.17H63.73zM61.74 38.17H63.73V40.18H61.74zM59.75 40.18H61.74V42.19H59.75zM53.77 42.19H55.77V44.2H53.77zM1.992 60.27H3.983V62.28H1.992zM-4 62.28H3.983V64.29H-4z"/>
<path fill="#d5ff2a" d="M27.88 -4H47.8V2.009H27.88zM33.86 2.009H41.83V4.018H33.86zM49.79 30.14H53.77V32.15H49.79zM57.76 30.14H61.74V32.15H57.76zM45.81 32.15H47.8V34.15H45.81zM61.74 32.15H63.73V34.15H61.74zM41.83 38.17H43.82V40.18H41.83zM41.83 40.18H43.82V42.19H41.83z"/>
<path fill="#eaff15" d="M53.77 30.14H57.76V32.15H53.77zM47.8 32.15H49.79V34.15H47.8zM45.81 34.15H47.8V36.16H45.81zM61.74 34.15H63.73V36.16H61.74zM61.74 36.16H63.73V38.17H61.74z"/>
<path fill="#ffff00" d="M49.79 32.15H53.77V34.15H49.79zM59.75 32.15H61.74V34.15H59.75zM47.8 34.15H49.79V36.16H47.8zM43.82 36.16H45.81V38.17H43.82zM51.78 42.19H53.77V44.2H51.78z"/>
<path fill="#ffea00" d="M53.77 32.15H55.77V34.15H53.77zM57.76 32.15H59.75V34.15H57.76zM57.76 40.18H59.75V42.19H57.76z"/>
<path fill="#ffd500" d="M55.77 32.15H57.76V34.15H55.77zM49.79 34.15H51.78V36.16H49.79zM43.82 42.19H45.81V44.2H43.82z"/>
<path fill="#ffbf00" d="M59.75 34.15H61.74V36.16H59.75zM45.81 36.16H47.8V38.17H45.81zM49.79 42.19H51.78V44.2H49.79z"/>
<path fill="#ffaa00" d="M51.78 34.15H53.77V36.16H51.78zM55.77 40.18H57.76V42.19H55.77z"/>
<path fill="#ff9500" d="M43.82 38.17H45.81V40.18H43.82zM59.75 38.17H61.74V40.18H59.75z"/>
<path fill="#ff8000" d="M53.77 34.15H55.77V36.16H53.77zM47.8 36.16H49.79V38.17H47.8zM59.75 36.16H61.74V38.17H59.75zM43.82 40.18H45.81V42.19H43.82zM47.8 42.19H49.79V44.2H47.8z"/>
<path fill="#ff6a00" d="M53.77 40.18H55.77V42.19H53.77zM45.81 42.19H47.8V44.2H45.81z"/>
<path fill="#ff5500" d="M55.77 34.15H59.75V36.16H55.77zM49.79 36.16H51.78V38.17H49.79z"/>
<path fill="#ff4000" d="M51.78 36.16H53.77V38.17H51.78zM45.81 38.17H47.8V40.18H45.81zM57.76 38.17H59.75V40.18H57.76zM51.78 40.18H53.77V42.19H51.78z"/>
<path fill="#ff2a00" d="M53.77 36.16H59.75V38.17H53.77zM47.8 38.17H51.78V40.18H47.8zM55.77 38.17H57.76V40.18H55.77zM45.81 40.18H51.78V42.19H45.81z"/>
<path fill="#ff1500" d="M51.78 38.17H55.77V40.18H51.78z"/>
</g>
<path d="M9.6 48.4L4.8 46.6L4.3 44.8L2.4 42.6L3.9 39.6L7.2 37.8L7.2 34.7L9.6 32.5L12.4 30.3L14.8 27.6L17.7 25.0L22.9 24.1L24.8 26.3L30.5 26.8L28.2 28.1L25.8 29.9L30.1 33.4L32.9 34.3L38.6 32.1L40.5 31.2L44.8 30.7L45.8 29.9L40.1 29.9L37.7 28.5L38.2 26.3L40.5 25.0L46.3 24.1L52.0 22.4L57.7 21.9L54.4 23.7L51.0 24.6L53.4 26.3L51.5 27.2L52.0 29.0L50.1 29.9L46.7 30.7L48.6 32.5L52.9 34.3L57.7 36.9L61.5 39.1L66.3 41.3L68.7 43.5L69.1 46.6L67.2 47.9L62.9 49.3L59.1 48.8L53.9 49.7L49.6 48.8L45.3 47.9L42.9 46.2L38.2 44.8L32.9 44.8L29.6 44.8L24.8 45.7L20.5 47.9L15.3 48.4L9.6 48.4M-0.4 51.0L2.4 51.9L8.6 51.9L12.0 50.4L9.1 49.3L4.3 49.3L1.5 50.1L-0.4 50.8M118.7 23.2L113.9 23.2L109.2 24.6L105.3 25.4L102.0 27.2L97.2 28.5L93.9 30.3L93.4 33.4L96.3 36.9L97.2 40.4L99.6 44.8L102.5 45.7L105.3 49.3L106.8 51.0L110.6 51.9L106.3 53.7L105.8 56.7L103.9 60.3L104.4 64.2L110.1 65.1L113.9 67.8L118.7 68.2M118.7 29.9L115.4 30.7L113.9 33.4L110.6 34.3L113.4 38.2L115.4 39.6L118.7 41.3M-0.4 68.2L5.3 68.2L9.6 70.0L12.4 70.4L15.8 70.0L16.7 67.8L18.6 67.6L23.4 69.1L26.3 70.9L31.0 70.4L35.8 67.8L40.5 68.7L43.4 67.8L42.5 70.0L41.5 72.2L42.0 75.7L41.5 77.9L40.1 80.6L38.2 84.1L37.2 87.6L35.3 91.1L33.9 92.0L30.5 92.9L26.3 92.9L24.8 92.0L22.4 91.1L18.6 90.7L15.3 91.6L11.5 93.8L6.7 93.3L-0.4 91.6M26.0 97.8L25.3 100.0L26.7 103.0L29.1 106.6L31.0 109.7L32.0 111.0M26.0 97.8L26.7 100.0L29.1 103.9L31.0 107.0L33.9 107.7L35.3 105.3L37.2 100.0L36.7 104.4L38.6 108.8L40.1 111.0M24.8 75.7L27.7 74.8L31.0 74.2L35.8 72.6L32.9 75.7L31.0 76.6L28.2 77.5L25.3 77.0L24.8 75.7M98.2 97.3L100.6 97.8L102.5 98.2L103.9 96.4L105.3 95.6L107.3 97.3L110.1 96.9L112.0 100.0L113.4 103.0L115.8 107.0L118.7 108.8M100.6 97.8L99.4 99.5L100.6 102.2L102.0 104.8L103.4 107.5L105.3 109.7L106.8 111.0M-0.4 60.7L1.0 60.7L0.5 62.9L2.4 66.0L1.0 66.9L5.8 66.9L2.0 68.0" fill="none" stroke="#0a0a0a" stroke-width="0.7" stroke-linejoin="round"/>
<path d="M47.31 55.20L50.13 63.02L58.44 63.28L51.87 68.38L54.19 76.37L47.31 71.70L40.43 76.37L42.75 68.38L36.18 63.28L44.49 63.02zM47.31 62.50L48.37 65.44L51.50 65.54L49.03 67.46L49.90 70.46L47.31 68.70L44.72 70.46L45.60 67.46L43.13 65.54L46.25 65.44z" fill="#fb0d14" fill-rule="evenodd"/>
</g>
<text x="265.75" y="10.5" font-size="7.4" text-anchor="middle" style="fill:#0a0a0a">2023/02/01-2023/02/05</text>
<text x="208.6" y="27.9" font-size="12" fill="#000" style="fill:#000">(c)</text>
<text x="219.9" y="133.1" font-size="7.4" text-anchor="middle">30</text>
<text x="203.2" y="113.5" font-size="7.4" text-anchor="end">30</text>
<text x="243.7" y="133.1" font-size="7.4" text-anchor="middle">35</text>
<text x="203.2" y="91.4" font-size="7.4" text-anchor="end">35</text>
<text x="267.5" y="133.1" font-size="7.4" text-anchor="middle">40</text>
<text x="203.2" y="69.4" font-size="7.4" text-anchor="end">40</text>
<text x="291.3" y="133.1" font-size="7.4" text-anchor="middle">45</text>
<text x="203.2" y="47.3" font-size="7.4" text-anchor="end">45</text>
<text x="315.2" y="133.1" font-size="7.4" text-anchor="middle">50</text>
<text x="203.2" y="25.3" font-size="7.4" text-anchor="end">50</text>
<text x="265.35" y="142.5" font-size="7.3" text-anchor="middle">GeoLong</text>
<text transform="translate(190.5,68.25) rotate(-90)" font-size="7.4" text-anchor="middle">GeoLat</text>
<rect x="330.6" y="13.6" width="10.8" height="109.9" fill="url(#jet)" stroke="#000" stroke-opacity="0.35" stroke-width="0.5"/>
<text x="343.5" y="16.3" font-size="6.1">3</text>
<text x="343.5" y="43.8" font-size="6.1">2.5</text>
<text x="343.5" y="71.2" font-size="6.1">2</text>
<text x="343.5" y="98.7" font-size="6.1">1.5</text>
<text x="343.5" y="126.2" font-size="6.1">1</text>
<text transform="translate(363.3,69.55) rotate(-90)" font-size="6.4" text-anchor="middle">log<tspan font-size="4.6" dy="1.6">10</tspan><tspan dy="-1.6">(/cm</tspan><tspan font-size="4.6" dy="-2.4">2</tspan><tspan dy="2.4">/s/sr)</tspan></text>
<path d="M285.3 82.7L270.7 68.1" stroke="#fb0d14" stroke-width="2.5" fill="none"/>
<polygon points="266.2,63.7 273.1,66.4 269.0,70.6" fill="#fb0d14"/>
<g transform="translate(206,163)" clip-path="url(#cld)">
<g filter="url(#bl)" shape-rendering="crispEdges">
<rect x="-4" y="-4" width="127.5" height="118.5" fill="#00e0ff"/>
<path fill="#0e0ee1" d="M13.94 106.5H21.91V108.5H13.94zM15.93 108.5H21.91V114.5H15.93z"/>
<path fill="#0d0de2" d="M-4 102.5H33.86V104.5H-4zM-4 104.5H35.85V106.5H-4zM-4 106.5H13.94V108.5H-4zM21.91 106.5H31.87V108.5H21.91zM-4 108.5H15.93V114.5H-4zM21.91 108.5H29.88V114.5H21.91z"/>
<path fill="#0909ec" d="M15.93 100.5H31.87V102.5H15.93zM33.86 102.5H39.83V104.5H33.86zM35.85 104.5H39.83V106.5H35.85zM31.87 106.5H37.84V108.5H31.87zM29.88 108.5H31.87V114.5H29.88z"/>
<path fill="#0404f5" d="M13.94 92.42H21.91V94.43H13.94zM-4 94.43H21.91V96.44H-4zM-4 96.44H9.958V98.45H-4zM11.95 100.5H15.93V102.5H11.95zM31.87 100.5H39.83V102.5H31.87zM39.83 102.5H41.83V104.5H39.83zM39.83 104.5H41.83V106.5H39.83zM37.84 106.5H39.83V108.5H37.84zM31.87 108.5H35.85V114.5H31.87z"/>
<path fill="#0000ff" d="M99.58 72.33H115.5V74.34H99.58zM93.61 74.34H115.5V76.35H93.61zM93.61 76.35H107.5V78.35H93.61zM13.94 88.4H29.88V90.41H13.94zM7.967 90.41H21.91V92.42H7.967zM5.975 92.42H13.94V94.43H5.975zM21.91 92.42H23.9V94.43H21.91zM21.91 94.43H23.9V96.44H21.91zM9.958 96.44H13.94V98.45H9.958zM9.958 100.5H11.95V102.5H9.958zM39.83 106.5H41.83V108.5H39.83zM35.85 108.5H37.84V114.5H35.85z"/>
<path fill="#0015ff" d="M93.61 72.33H99.58V74.34H93.61zM115.5 72.33H117.5V74.34H115.5zM91.62 74.34H93.61V76.35H91.62zM115.5 74.34H117.5V76.35H115.5zM91.62 76.35H93.61V78.35H91.62zM107.5 76.35H111.5V78.35H107.5zM21.91 86.39H37.84V88.4H21.91zM7.967 88.4H13.94V90.41H7.967zM29.88 88.4H35.85V90.41H29.88zM5.975 90.41H7.967V92.42H5.975zM21.91 90.41H23.9V92.42H21.91zM-4 92.42H5.975V94.43H-4zM13.94 96.44H15.93V98.45H13.94zM29.88 98.45H37.84V100.5H29.88zM7.967 100.5H9.958V102.5H7.967zM39.83 100.5H41.83V102.5H39.83zM37.84 108.5H39.83V114.5H37.84z"/>
<path fill="#002aff" d="M101.6 70.32H117.5V72.33H101.6zM91.62 72.33H93.61V74.34H91.62zM117.5 72.33H123.5V74.34H117.5zM89.62 74.34H91.62V76.35H89.62zM117.5 74.34H123.5V76.35H117.5zM89.62 76.35H91.62V78.35H89.62zM111.5 76.35H115.5V78.35H111.5zM93.61 78.35H107.5V80.36H93.61zM17.93 86.39H21.91V88.4H17.93zM35.85 88.4H37.84V90.41H35.85zM23.9 90.41H25.89V92.42H23.9zM49.79 92.42H61.74V94.43H49.79zM43.82 94.43H61.74V96.44H43.82zM15.93 96.44H17.93V98.45H15.93zM41.83 96.44H53.77V98.45H41.83zM37.84 98.45H39.83V100.5H37.84zM5.975 100.5H7.967V102.5H5.975zM41.83 102.5H43.82V104.5H41.83zM41.83 104.5H43.82V106.5H41.83zM39.83 108.5H41.83V114.5H39.83z"/>
<path fill="#0040ff" d="M99.58 70.32H101.6V72.33H99.58zM63.73 72.33H77.67V74.34H63.73zM57.76 74.34H73.69V76.35H57.76zM57.76 76.35H65.72V78.35H57.76zM115.5 76.35H117.5V78.35H115.5zM91.62 78.35H93.61V80.36H91.62zM107.5 78.35H111.5V80.36H107.5zM15.93 86.39H17.93V88.4H15.93zM37.84 86.39H39.83V88.4H37.84zM5.975 88.4H7.967V90.41H5.975zM3.983 90.41H5.975V92.42H3.983zM25.89 90.41H29.88V92.42H25.89zM57.76 90.41H61.74V92.42H57.76zM23.9 92.42H25.89V94.43H23.9zM45.81 92.42H49.79V94.43H45.81zM61.74 92.42H63.73V94.43H61.74zM23.9 94.43H25.89V96.44H23.9zM41.83 94.43H43.82V96.44H41.83zM61.74 94.43H63.73V96.44H61.74zM39.83 96.44H41.83V98.45H39.83zM53.77 96.44H61.74V98.45H53.77zM-4 98.45H1.992V100.5H-4zM25.89 98.45H29.88V100.5H25.89zM39.83 98.45H57.76V100.5H39.83zM1.992 100.5H5.975V102.5H1.992zM41.83 100.5H43.82V102.5H41.83zM41.83 106.5H43.82V108.5H41.83zM41.83 108.5H43.82V114.5H41.83z"/>
<path fill="#0055ff" d="M85.64 68.31H87.63V70.32H85.64zM67.72 70.32H87.63V72.33H67.72zM95.6 70.32H99.58V72.33H95.6zM117.5 70.32H123.5V72.33H117.5zM57.76 72.33H63.73V74.34H57.76zM77.67 72.33H83.65V74.34H77.67zM89.62 72.33H91.62V74.34H89.62zM55.77 74.34H57.76V76.35H55.77zM73.69 74.34H77.67V76.35H73.69zM55.77 76.35H57.76V78.35H55.77zM65.72 76.35H75.68V78.35H65.72zM117.5 76.35H123.5V78.35H117.5zM65.72 78.35H69.71V80.36H65.72zM89.62 78.35H91.62V80.36H89.62zM111.5 78.35H115.5V80.36H111.5zM95.6 80.36H107.5V82.37H95.6zM21.91 82.37H27.88V84.38H21.91zM17.93 84.38H37.84V86.39H17.93zM11.95 86.39H15.93V88.4H11.95zM37.84 88.4H39.83V90.41H37.84zM-4 90.41H3.983V92.42H-4zM29.88 90.41H31.87V92.42H29.88zM51.78 90.41H57.76V92.42H51.78zM61.74 90.41H63.73V92.42H61.74zM41.83 92.42H45.81V94.43H41.83zM63.73 92.42H65.72V94.43H63.73zM39.83 94.43H41.83V96.44H39.83zM63.73 94.43H65.72V96.44H63.73zM17.93 96.44H21.91V98.45H17.93zM31.87 96.44H39.83V98.45H31.87zM61.74 96.44H65.72V98.45H61.74zM1.992 98.45H5.975V100.5H1.992zM21.91 98.45H25.89V100.5H21.91zM57.76 98.45H65.72V100.5H57.76zM-4 100.5H1.992V102.5H-4zM43.82 100.5H63.73V102.5H43.82zM43.82 102.5H61.74V104.5H43.82zM43.82 104.5H59.75V106.5H43.82zM43.82 106.5H53.77V108.5H43.82zM43.82 108.5H51.78V114.5H43.82z"/>
<path fill="#006aff" d="M-4 30.14H9.958V32.15H-4zM-4 32.15H3.983V34.15H-4zM79.67 68.31H85.64V70.32H79.67zM87.63 68.31H89.62V70.32H87.63zM109.5 68.31H115.5V70.32H109.5zM63.73 70.32H67.72V72.33H63.73zM87.63 70.32H89.62V72.33H87.63zM93.61 70.32H95.6V72.33H93.61zM55.77 72.33H57.76V74.34H55.77zM83.65 72.33H89.62V74.34H83.65zM77.67 74.34H81.66V76.35H77.67zM87.63 74.34H89.62V76.35H87.63zM75.68 76.35H79.67V78.35H75.68zM87.63 76.35H89.62V78.35H87.63zM57.76 78.35H65.72V80.36H57.76zM69.71 78.35H77.67V80.36H69.71zM115.5 78.35H123.5V80.36H115.5zM19.92 80.36H31.87V82.37H19.92zM91.62 80.36H95.6V82.37H91.62zM107.5 80.36H117.5V82.37H107.5zM15.93 82.37H21.91V84.38H15.93zM27.88 82.37H33.86V84.38H27.88zM99.58 82.37H105.6V84.38H99.58zM13.94 84.38H17.93V86.39H13.94zM7.967 86.39H11.95V88.4H7.967zM1.992 88.4H5.975V90.41H1.992zM31.87 90.41H33.86V92.42H31.87zM45.81 90.41H51.78V92.42H45.81zM63.73 90.41H65.72V92.42H63.73zM25.89 92.42H29.88V94.43H25.89zM39.83 92.42H41.83V94.43H39.83zM65.72 92.42H67.72V94.43H65.72zM25.89 94.43H27.88V96.44H25.89zM29.88 94.43H31.87V96.44H29.88zM37.84 94.43H39.83V96.44H37.84zM65.72 94.43H71.7V96.44H65.72zM21.91 96.44H23.9V98.45H21.91zM29.88 96.44H31.87V98.45H29.88zM65.72 96.44H73.69V98.45H65.72zM5.975 98.45H21.91V100.5H5.975zM65.72 98.45H101.6V100.5H65.72zM63.73 100.5H101.6V102.5H63.73zM61.74 102.5H99.58V104.5H61.74zM59.75 104.5H99.58V106.5H59.75zM53.77 106.5H99.58V108.5H53.77zM51.78 108.5H99.58V114.5H51.78z"/>
<path fill="#0080ff" d="M7.967 28.13H11.95V30.14H7.967zM9.958 30.14H11.95V32.15H9.958zM3.983 32.15H7.967V34.15H3.983zM-4 34.15H1.992V36.16H-4zM73.69 68.31H79.67V70.32H73.69zM101.6 68.31H109.5V70.32H101.6zM115.5 68.31H117.5V70.32H115.5zM59.75 70.32H63.73V72.33H59.75zM89.62 70.32H93.61V72.33H89.62zM53.77 72.33H55.77V74.34H53.77zM51.78 74.34H55.77V76.35H51.78zM81.66 74.34H87.63V76.35H81.66zM51.78 76.35H55.77V78.35H51.78zM79.67 76.35H87.63V78.35H79.67zM17.93 78.35H35.85V80.36H17.93zM53.77 78.35H57.76V80.36H53.77zM77.67 78.35H89.62V80.36H77.67zM13.94 80.36H19.92V82.37H13.94zM31.87 80.36H35.85V82.37H31.87zM55.77 80.36H81.66V82.37H55.77zM85.64 80.36H91.62V82.37H85.64zM117.5 80.36H123.5V82.37H117.5zM11.95 82.37H15.93V84.38H11.95zM33.86 82.37H35.85V84.38H33.86zM61.74 82.37H73.69V84.38H61.74zM89.62 82.37H99.58V84.38H89.62zM105.6 82.37H123.5V84.38H105.6zM9.958 84.38H13.94V86.39H9.958zM37.84 84.38H39.83V86.39H37.84zM95.6 84.38H123.5V86.39H95.6zM3.983 86.39H7.967V88.4H3.983zM111.5 86.39H123.5V88.4H111.5zM-4 88.4H1.992V90.41H-4zM45.81 88.4H67.72V90.41H45.81zM109.5 88.4H123.5V90.41H109.5zM33.86 90.41H45.81V92.42H33.86zM65.72 90.41H123.5V92.42H65.72zM29.88 92.42H39.83V94.43H29.88zM67.72 92.42H123.5V94.43H67.72zM27.88 94.43H29.88V96.44H27.88zM31.87 94.43H37.84V96.44H31.87zM71.7 94.43H123.5V96.44H71.7zM23.9 96.44H25.89V98.45H23.9zM73.69 96.44H123.5V98.45H73.69zM101.6 98.45H123.5V100.5H101.6zM101.6 100.5H123.5V102.5H101.6zM99.58 102.5H123.5V104.5H99.58zM99.58 104.5H123.5V106.5H99.58zM99.58 106.5H123.5V108.5H99.58zM99.58 108.5H123.5V114.5H99.58z"/>
<path fill="#0095ff" d="M5.975 28.13H7.967V30.14H5.975zM1.992 34.15H3.983V36.16H1.992zM65.72 48.22H81.66V50.23H65.72zM59.75 50.23H77.67V52.24H59.75zM63.73 52.24H71.7V54.25H63.73zM65.72 68.31H73.69V70.32H65.72zM97.59 68.31H101.6V70.32H97.59zM117.5 68.31H123.5V70.32H117.5zM-4 70.32H9.958V72.33H-4zM53.77 70.32H59.75V72.33H53.77zM-4 72.33H15.93V74.34H-4zM29.88 72.33H53.77V74.34H29.88zM-4 74.34H51.78V76.35H-4zM-4 76.35H51.78V78.35H-4zM5.975 78.35H17.93V80.36H5.975zM35.85 78.35H53.77V80.36H35.85zM7.967 80.36H13.94V82.37H7.967zM35.85 80.36H43.82V82.37H35.85zM45.81 80.36H55.77V82.37H45.81zM81.66 80.36H85.64V82.37H81.66zM5.975 82.37H11.95V84.38H5.975zM35.85 82.37H41.83V84.38H35.85zM49.79 82.37H61.74V84.38H49.79zM73.69 82.37H89.62V84.38H73.69zM-4 84.38H9.958V86.39H-4zM39.83 84.38H41.83V86.39H39.83zM47.8 84.38H95.6V86.39H47.8zM-4 86.39H3.983V88.4H-4zM39.83 86.39H111.5V88.4H39.83zM39.83 88.4H45.81V90.41H39.83zM67.72 88.4H109.5V90.41H67.72zM25.89 96.44H29.88V98.45H25.89z"/>
<path fill="#00aaff" d="M3.983 28.13H5.975V30.14H3.983zM11.95 30.14H13.94V32.15H11.95zM7.967 32.15H9.958V34.15H7.967zM3.983 34.15H5.975V36.16H3.983zM-4 36.16H3.983V38.17H-4zM67.72 46.21H81.66V48.22H67.72zM61.74 48.22H65.72V50.23H61.74zM81.66 48.22H83.65V50.23H81.66zM57.76 50.23H59.75V52.24H57.76zM77.67 50.23H81.66V52.24H77.67zM61.74 52.24H63.73V54.25H61.74zM71.7 52.24H75.68V54.25H71.7zM-4 64.29H35.85V66.3H-4zM-4 66.3H41.83V68.31H-4zM81.66 66.3H89.62V68.31H81.66zM107.5 66.3H123.5V68.31H107.5zM-4 68.31H65.72V70.32H-4zM89.62 68.31H97.59V70.32H89.62zM9.958 70.32H53.77V72.33H9.958zM15.93 72.33H29.88V74.34H15.93zM-4 78.35H5.975V80.36H-4zM-4 80.36H7.967V82.37H-4zM43.82 80.36H45.81V82.37H43.82zM-4 82.37H5.975V84.38H-4zM41.83 82.37H49.79V84.38H41.83zM41.83 84.38H47.8V86.39H41.83z"/>
<path fill="#00bfff" d="M-4 28.13H3.983V30.14H-4zM11.95 28.13H13.94V30.14H11.95zM9.958 32.15H11.95V34.15H9.958zM5.975 34.15H9.958V36.16H5.975zM3.983 36.16H7.967V38.17H3.983zM-4 38.17H1.992V40.18H-4zM69.71 40.18H81.66V42.19H69.71zM61.74 42.19H79.67V44.2H61.74zM61.74 44.2H81.66V46.21H61.74zM63.73 46.21H67.72V48.22H63.73zM81.66 46.21H83.65V48.22H81.66zM59.75 48.22H61.74V50.23H59.75zM81.66 50.23H83.65V52.24H81.66zM59.75 52.24H61.74V54.25H59.75zM75.68 52.24H79.67V54.25H75.68zM63.73 54.25H75.68V56.25H63.73zM-4 60.27H39.83V62.28H-4zM-4 62.28H45.81V64.29H-4zM35.85 64.29H51.78V66.3H35.85zM41.83 66.3H81.66V68.31H41.83zM99.58 66.3H107.5V68.31H99.58z"/>
<path fill="#00d4ff" d="M9.958 34.15H11.95V36.16H9.958zM7.967 36.16H9.958V38.17H7.967zM1.992 38.17H7.967V40.18H1.992zM75.68 38.17H87.63V40.18H75.68zM63.73 40.18H69.71V42.19H63.73zM81.66 40.18H87.63V42.19H81.66zM57.76 42.19H61.74V44.2H57.76zM79.67 42.19H83.65V44.2H79.67zM57.76 44.2H61.74V46.21H57.76zM81.66 44.2H83.65V46.21H81.66zM57.76 46.21H63.73V48.22H57.76zM83.65 46.21H85.64V48.22H83.65zM57.76 48.22H59.75V50.23H57.76zM83.65 48.22H85.64V50.23H83.65zM55.77 50.23H57.76V52.24H55.77zM57.76 52.24H59.75V54.25H57.76zM79.67 52.24H83.65V54.25H79.67zM75.68 54.25H81.66V56.25H75.68zM17.93 56.25H39.83V58.26H17.93zM63.73 56.25H77.67V58.26H63.73zM-4 58.26H41.83V60.27H-4zM49.79 58.26H73.69V60.27H49.79zM39.83 60.27H63.73V62.28H39.83zM45.81 62.28H81.66V64.29H45.81zM115.5 62.28H123.5V64.29H115.5zM51.78 64.29H89.62V66.3H51.78zM103.6 64.29H123.5V66.3H103.6zM89.62 66.3H99.58V68.31H89.62z"/>
<path fill="#00eaff" d="M9.958 26.12H11.95V28.13H9.958zM11.95 32.15H13.94V34.15H11.95zM11.95 34.15H13.94V36.16H11.95zM9.958 36.16H11.95V38.17H9.958zM85.64 36.16H87.63V38.17H85.64zM7.967 38.17H9.958V40.18H7.967zM67.72 38.17H75.68V40.18H67.72zM87.63 38.17H89.62V40.18H87.63zM-4 40.18H3.983V42.19H-4zM61.74 40.18H63.73V42.19H61.74zM87.63 40.18H89.62V42.19H87.63zM55.77 42.19H57.76V44.2H55.77zM83.65 42.19H87.63V44.2H83.65zM55.77 44.2H57.76V46.21H55.77zM83.65 44.2H87.63V46.21H83.65zM55.77 46.21H57.76V48.22H55.77zM85.64 46.21H87.63V48.22H85.64zM55.77 48.22H57.76V50.23H55.77zM85.64 48.22H87.63V50.23H85.64zM51.78 50.23H55.77V52.24H51.78zM83.65 50.23H87.63V52.24H83.65zM27.88 52.24H39.83V54.25H27.88zM83.65 52.24H87.63V54.25H83.65zM-4 54.25H39.83V56.25H-4zM81.66 54.25H87.63V56.25H81.66zM-4 56.25H17.93V58.26H-4zM61.74 56.25H63.73V58.26H61.74zM77.67 56.25H89.62V58.26H77.67zM41.83 58.26H49.79V60.27H41.83zM73.69 58.26H91.62V60.27H73.69zM63.73 60.27H91.62V62.28H63.73zM111.5 60.27H123.5V62.28H111.5zM81.66 62.28H93.61V64.29H81.66zM105.6 62.28H115.5V64.29H105.6zM89.62 64.29H103.6V66.3H89.62z"/>
<path fill="#00ffff" d="M51.78 10.05H61.74V12.05H51.78zM41.83 12.05H59.75V14.06H41.83zM41.83 14.06H51.78V16.07H41.83zM-4 26.12H9.958V28.13H-4zM11.95 26.12H13.94V28.13H11.95zM13.94 28.13H15.93V30.14H13.94zM13.94 30.14H15.93V32.15H13.94zM13.94 32.15H15.93V34.15H13.94zM61.74 32.15H73.69V34.15H61.74zM13.94 34.15H15.93V36.16H13.94zM55.77 34.15H69.71V36.16H55.77zM11.95 36.16H15.93V38.17H11.95zM79.67 36.16H85.64V38.17H79.67zM87.63 36.16H89.62V38.17H87.63zM9.958 38.17H13.94V40.18H9.958zM63.73 38.17H67.72V40.18H63.73zM3.983 40.18H9.958V42.19H3.983zM57.76 40.18H61.74V42.19H57.76zM87.63 42.19H89.62V44.2H87.63zM53.77 44.2H55.77V46.21H53.77zM87.63 44.2H91.62V46.21H87.63zM51.78 46.21H55.77V48.22H51.78zM87.63 46.21H91.62V48.22H87.63zM41.83 48.22H55.77V50.23H41.83zM87.63 48.22H93.61V50.23H87.63zM19.92 50.23H51.78V52.24H19.92zM87.63 50.23H93.61V52.24H87.63zM-4 52.24H27.88V54.25H-4zM39.83 52.24H57.76V54.25H39.83zM87.63 52.24H123.5V54.25H87.63zM39.83 54.25H41.83V56.25H39.83zM61.74 54.25H63.73V56.25H61.74zM87.63 54.25H123.5V56.25H87.63zM39.83 56.25H41.83V58.26H39.83zM57.76 56.25H61.74V58.26H57.76zM89.62 56.25H123.5V58.26H89.62zM91.62 58.26H123.5V60.27H91.62zM91.62 60.27H111.5V62.28H91.62zM93.61 62.28H105.6V64.29H93.61z"/>
<path fill="#15ffea" d="M59.75 8.036H61.74V10.05H59.75zM45.81 10.05H51.78V12.05H45.81zM61.74 10.05H63.73V12.05H61.74zM39.83 12.05H41.83V14.06H39.83zM59.75 12.05H61.74V14.06H59.75zM39.83 14.06H41.83V16.07H39.83zM51.78 14.06H55.77V16.07H51.78zM41.83 16.07H49.79V18.08H41.83zM17.93 18.08H29.88V20.09H17.93zM-4 20.09H29.88V22.1H-4zM-4 22.1H25.89V24.11H-4zM-4 24.11H15.93V26.12H-4zM13.94 26.12H17.93V28.13H13.94zM15.93 28.13H19.92V30.14H15.93zM15.93 30.14H21.91V32.15H15.93zM65.72 30.14H73.69V32.15H65.72zM15.93 32.15H21.91V34.15H15.93zM57.76 32.15H61.74V34.15H57.76zM15.93 34.15H21.91V36.16H15.93zM51.78 34.15H55.77V36.16H51.78zM69.71 34.15H73.69V36.16H69.71zM15.93 36.16H21.91V38.17H15.93zM47.8 36.16H79.67V38.17H47.8zM13.94 38.17H17.93V40.18H13.94zM55.77 38.17H63.73V40.18H55.77zM89.62 38.17H91.62V40.18H89.62zM9.958 40.18H15.93V42.19H9.958zM55.77 40.18H57.76V42.19H55.77zM89.62 40.18H95.6V42.19H89.62zM-4 42.19H9.958V44.2H-4zM53.77 42.19H55.77V44.2H53.77zM89.62 42.19H123.5V44.2H89.62zM47.8 44.2H53.77V46.21H47.8zM91.62 44.2H123.5V46.21H91.62zM31.87 46.21H51.78V48.22H31.87zM91.62 46.21H123.5V48.22H91.62zM7.967 48.22H41.83V50.23H7.967zM93.61 48.22H123.5V50.23H93.61zM-4 50.23H19.92V52.24H-4zM93.61 50.23H123.5V52.24H93.61zM59.75 54.25H61.74V56.25H59.75zM51.78 56.25H57.76V58.26H51.78z"/>
<path fill="#2bffd4" d="M55.77 8.036H59.75V10.05H55.77zM61.74 8.036H63.73V10.05H61.74zM43.82 10.05H45.81V12.05H43.82zM61.74 12.05H63.73V14.06H61.74zM-4 14.06H15.93V16.07H-4zM27.88 14.06H39.83V16.07H27.88zM55.77 14.06H61.74V16.07H55.77zM-4 16.07H41.83V18.08H-4zM49.79 16.07H59.75V18.08H49.79zM-4 18.08H17.93V20.09H-4zM29.88 18.08H55.77V20.09H29.88zM29.88 20.09H47.8V22.1H29.88zM25.89 22.1H31.87V24.11H25.89zM15.93 24.11H27.88V26.12H15.93zM105.6 24.11H123.5V26.12H105.6zM17.93 26.12H27.88V28.13H17.93zM99.58 26.12H123.5V28.13H99.58zM19.92 28.13H27.88V30.14H19.92zM97.59 28.13H123.5V30.14H97.59zM21.91 30.14H27.88V32.15H21.91zM61.74 30.14H65.72V32.15H61.74zM73.69 30.14H75.68V32.15H73.69zM95.6 30.14H123.5V32.15H95.6zM21.91 32.15H27.88V34.15H21.91zM55.77 32.15H57.76V34.15H55.77zM73.69 32.15H75.68V34.15H73.69zM93.61 32.15H123.5V34.15H93.61zM21.91 34.15H27.88V36.16H21.91zM49.79 34.15H51.78V36.16H49.79zM73.69 34.15H123.5V36.16H73.69zM21.91 36.16H27.88V38.17H21.91zM89.62 36.16H123.5V38.17H89.62zM17.93 38.17H27.88V40.18H17.93zM47.8 38.17H55.77V40.18H47.8zM91.62 38.17H123.5V40.18H91.62zM15.93 40.18H27.88V42.19H15.93zM49.79 40.18H55.77V42.19H49.79zM95.6 40.18H123.5V42.19H95.6zM9.958 42.19H29.88V44.2H9.958zM43.82 42.19H53.77V44.2H43.82zM-4 44.2H47.8V46.21H-4zM-4 46.21H31.87V48.22H-4zM-4 48.22H7.967V50.23H-4zM41.83 54.25H43.82V56.25H41.83zM53.77 54.25H59.75V56.25H53.77zM41.83 56.25H51.78V58.26H41.83z"/>
<path fill="#40ffbf" d="M-4 6.027H3.983V8.036H-4zM-4 8.036H9.958V10.05H-4zM51.78 8.036H55.77V10.05H51.78zM-4 10.05H15.93V12.05H-4zM41.83 10.05H43.82V12.05H41.83zM63.73 10.05H65.72V12.05H63.73zM-4 12.05H39.83V14.06H-4zM63.73 12.05H65.72V14.06H63.73zM15.93 14.06H27.88V16.07H15.93zM61.74 14.06H65.72V16.07H61.74zM59.75 16.07H65.72V18.08H59.75zM55.77 18.08H65.72V20.09H55.77zM47.8 20.09H61.74V22.1H47.8zM31.87 22.1H57.76V24.11H31.87zM99.58 22.1H123.5V24.11H99.58zM27.88 24.11H39.83V26.12H27.88zM93.61 24.11H105.6V26.12H93.61zM27.88 26.12H33.86V28.13H27.88zM61.74 26.12H71.7V28.13H61.74zM91.62 26.12H99.58V28.13H91.62zM27.88 28.13H29.88V30.14H27.88zM57.76 28.13H75.68V30.14H57.76zM89.62 28.13H97.59V30.14H89.62zM27.88 30.14H29.88V32.15H27.88zM55.77 30.14H61.74V32.15H55.77zM75.68 30.14H95.6V32.15H75.68zM27.88 32.15H29.88V34.15H27.88zM51.78 32.15H55.77V34.15H51.78zM75.68 32.15H93.61V34.15H75.68zM27.88 34.15H31.87V36.16H27.88zM47.8 34.15H49.79V36.16H47.8zM27.88 36.16H31.87V38.17H27.88zM27.88 38.17H31.87V40.18H27.88zM45.81 38.17H47.8V40.18H45.81zM27.88 40.18H35.85V42.19H27.88zM43.82 40.18H49.79V42.19H43.82zM29.88 42.19H43.82V44.2H29.88zM43.82 54.25H53.77V56.25H43.82z"/>
<path fill="#55ffaa" d="M-4 -4H11.95V2.009H-4zM-4 2.009H11.95V4.018H-4zM-4 4.018H13.94V6.027H-4zM3.983 6.027H13.94V8.036H3.983zM55.77 6.027H63.73V8.036H55.77zM9.958 8.036H17.93V10.05H9.958zM45.81 8.036H51.78V10.05H45.81zM63.73 8.036H67.72V10.05H63.73zM15.93 10.05H41.83V12.05H15.93zM65.72 10.05H69.71V12.05H65.72zM65.72 12.05H73.69V14.06H65.72zM65.72 14.06H85.64V16.07H65.72zM65.72 16.07H87.63V18.08H65.72zM65.72 18.08H87.63V20.09H65.72zM61.74 20.09H81.66V22.1H61.74zM87.63 20.09H123.5V22.1H87.63zM57.76 22.1H79.67V24.11H57.76zM85.64 22.1H99.58V24.11H85.64zM39.83 24.11H93.61V26.12H39.83zM33.86 26.12H39.83V28.13H33.86zM53.77 26.12H61.74V28.13H53.77zM71.7 26.12H91.62V28.13H71.7zM29.88 28.13H31.87V30.14H29.88zM53.77 28.13H57.76V30.14H53.77zM75.68 28.13H89.62V30.14H75.68zM51.78 30.14H55.77V32.15H51.78zM49.79 32.15H51.78V34.15H49.79zM31.87 34.15H33.86V36.16H31.87zM45.81 34.15H47.8V36.16H45.81zM31.87 36.16H35.85V38.17H31.87zM45.81 36.16H47.8V38.17H45.81zM31.87 38.17H37.84V40.18H31.87zM41.83 38.17H45.81V40.18H41.83zM35.85 40.18H43.82V42.19H35.85z"/>
<path fill="#6aff95" d="M11.95 -4H17.93V2.009H11.95zM91.62 -4H123.5V2.009H91.62zM11.95 2.009H17.93V4.018H11.95zM55.77 2.009H57.76V4.018H55.77zM89.62 2.009H123.5V4.018H89.62zM13.94 4.018H17.93V6.027H13.94zM51.78 4.018H71.7V6.027H51.78zM89.62 4.018H123.5V6.027H89.62zM13.94 6.027H17.93V8.036H13.94zM47.8 6.027H55.77V8.036H47.8zM63.73 6.027H77.67V8.036H63.73zM83.65 6.027H123.5V8.036H83.65zM17.93 8.036H21.91V10.05H17.93zM39.83 8.036H45.81V10.05H39.83zM67.72 8.036H101.6V10.05H67.72zM69.71 10.05H95.6V12.05H69.71zM73.69 12.05H93.61V14.06H73.69zM85.64 14.06H93.61V16.07H85.64zM87.63 16.07H93.61V18.08H87.63zM87.63 18.08H123.5V20.09H87.63zM81.66 20.09H87.63V22.1H81.66zM79.67 22.1H85.64V24.11H79.67zM39.83 26.12H41.83V28.13H39.83zM51.78 26.12H53.77V28.13H51.78zM31.87 28.13H33.86V30.14H31.87zM51.78 28.13H53.77V30.14H51.78zM49.79 30.14H51.78V32.15H49.79zM29.88 32.15H31.87V34.15H29.88zM45.81 32.15H49.79V34.15H45.81zM33.86 34.15H39.83V36.16H33.86zM43.82 34.15H45.81V36.16H43.82zM35.85 36.16H45.81V38.17H35.85zM37.84 38.17H41.83V40.18H37.84z"/>
<path fill="#80ff80" d="M17.93 -4H19.92V2.009H17.93zM49.79 -4H59.75V2.009H49.79zM89.62 -4H91.62V2.009H89.62zM17.93 2.009H19.92V4.018H17.93zM47.8 2.009H55.77V4.018H47.8zM57.76 2.009H59.75V4.018H57.76zM87.63 2.009H89.62V4.018H87.63zM45.81 4.018H51.78V6.027H45.81zM71.7 4.018H89.62V6.027H71.7zM17.93 6.027H19.92V8.036H17.93zM41.83 6.027H47.8V8.036H41.83zM77.67 6.027H83.65V8.036H77.67zM21.91 8.036H39.83V10.05H21.91zM101.6 8.036H117.5V10.05H101.6zM95.6 10.05H101.6V12.05H95.6zM93.61 12.05H95.6V14.06H93.61zM93.61 14.06H95.6V16.07H93.61zM93.61 16.07H95.6V18.08H93.61zM111.5 16.07H123.5V18.08H111.5zM41.83 26.12H47.8V28.13H41.83zM33.86 28.13H35.85V30.14H33.86zM29.88 30.14H31.87V32.15H29.88zM45.81 30.14H49.79V32.15H45.81zM31.87 32.15H45.81V34.15H31.87zM39.83 34.15H43.82V36.16H39.83z"/>
<path fill="#95ff6a" d="M19.92 -4H23.9V2.009H19.92zM45.81 -4H49.79V2.009H45.81zM59.75 -4H75.68V2.009H59.75zM87.63 -4H89.62V2.009H87.63zM45.81 2.009H47.8V4.018H45.81zM59.75 2.009H87.63V4.018H59.75zM17.93 4.018H19.92V6.027H17.93zM43.82 4.018H45.81V6.027H43.82zM31.87 6.027H41.83V8.036H31.87zM117.5 8.036H123.5V10.05H117.5zM101.6 10.05H107.5V12.05H101.6zM95.6 12.05H97.59V14.06H95.6zM95.6 16.07H97.59V18.08H95.6zM99.58 16.07H111.5V18.08H99.58zM47.8 26.12H51.78V28.13H47.8zM35.85 28.13H51.78V30.14H35.85zM31.87 30.14H45.81V32.15H31.87z"/>
<path fill="#aaff55" d="M23.9 -4H29.88V2.009H23.9zM43.82 -4H45.81V2.009H43.82zM75.68 -4H87.63V2.009H75.68zM19.92 2.009H25.89V4.018H19.92zM43.82 2.009H45.81V4.018H43.82zM19.92 4.018H21.91V6.027H19.92zM37.84 4.018H43.82V6.027H37.84zM19.92 6.027H31.87V8.036H19.92zM107.5 10.05H123.5V12.05H107.5zM97.59 12.05H103.6V14.06H97.59zM95.6 14.06H97.59V16.07H95.6zM107.5 14.06H123.5V16.07H107.5zM97.59 16.07H99.58V18.08H97.59z"/>
<path fill="#bfff40" d="M29.88 -4H43.82V2.009H29.88zM25.89 2.009H43.82V4.018H25.89zM21.91 4.018H37.84V6.027H21.91zM103.6 12.05H123.5V14.06H103.6zM97.59 14.06H107.5V16.07H97.59z"/>
</g>
<polygon points="-2,104.3 15.3,98.8 36,98.4 36,104 18.5,112 -2,112" fill="#1212e2" filter="url(#bl2)"/>
<path d="M9.6 48.4L4.8 46.6L4.3 44.8L2.4 42.6L3.9 39.6L7.2 37.8L7.2 34.7L9.6 32.5L12.4 30.3L14.8 27.6L17.7 25.0L22.9 24.1L24.8 26.3L30.5 26.8L28.2 28.1L25.8 29.9L30.1 33.4L32.9 34.3L38.6 32.1L40.5 31.2L44.8 30.7L45.8 29.9L40.1 29.9L37.7 28.5L38.2 26.3L40.5 25.0L46.3 24.1L52.0 22.4L57.7 21.9L54.4 23.7L51.0 24.6L53.4 26.3L51.5 27.2L52.0 29.0L50.1 29.9L46.7 30.7L48.6 32.5L52.9 34.3L57.7 36.9L61.5 39.1L66.3 41.3L68.7 43.5L69.1 46.6L67.2 47.9L62.9 49.3L59.1 48.8L53.9 49.7L49.6 48.8L45.3 47.9L42.9 46.2L38.2 44.8L32.9 44.8L29.6 44.8L24.8 45.7L20.5 47.9L15.3 48.4L9.6 48.4M-0.4 51.0L2.4 51.9L8.6 51.9L12.0 50.4L9.1 49.3L4.3 49.3L1.5 50.1L-0.4 50.8M118.7 23.2L113.9 23.2L109.2 24.6L105.3 25.4L102.0 27.2L97.2 28.5L93.9 30.3L93.4 33.4L96.3 36.9L97.2 40.4L99.6 44.8L102.5 45.7L105.3 49.3L106.8 51.0L110.6 51.9L106.3 53.7L105.8 56.7L103.9 60.3L104.4 64.2L110.1 65.1L113.9 67.8L118.7 68.2M118.7 29.9L115.4 30.7L113.9 33.4L110.6 34.3L113.4 38.2L115.4 39.6L118.7 41.3M-0.4 68.2L5.3 68.2L9.6 70.0L12.4 70.4L15.8 70.0L16.7 67.8L18.6 67.6L23.4 69.1L26.3 70.9L31.0 70.4L35.8 67.8L40.5 68.7L43.4 67.8L42.5 70.0L41.5 72.2L42.0 75.7L41.5 77.9L40.1 80.6L38.2 84.1L37.2 87.6L35.3 91.1L33.9 92.0L30.5 92.9L26.3 92.9L24.8 92.0L22.4 91.1L18.6 90.7L15.3 91.6L11.5 93.8L6.7 93.3L-0.4 91.6M26.0 97.8L25.3 100.0L26.7 103.0L29.1 106.6L31.0 109.7L32.0 111.0M26.0 97.8L26.7 100.0L29.1 103.9L31.0 107.0L33.9 107.7L35.3 105.3L37.2 100.0L36.7 104.4L38.6 108.8L40.1 111.0M24.8 75.7L27.7 74.8L31.0 74.2L35.8 72.6L32.9 75.7L31.0 76.6L28.2 77.5L25.3 77.0L24.8 75.7M98.2 97.3L100.6 97.8L102.5 98.2L103.9 96.4L105.3 95.6L107.3 97.3L110.1 96.9L112.0 100.0L113.4 103.0L115.8 107.0L118.7 108.8M100.6 97.8L99.4 99.5L100.6 102.2L102.0 104.8L103.4 107.5L105.3 109.7L106.8 111.0M-0.4 60.7L1.0 60.7L0.5 62.9L2.4 66.0L1.0 66.9L5.8 66.9L2.0 68.0" fill="none" stroke="#0a0a0a" stroke-width="0.7" stroke-linejoin="round"/>
<path d="M47.31 55.20L50.13 63.02L58.44 63.28L51.87 68.38L54.19 76.37L47.31 71.70L40.43 76.37L42.75 68.38L36.18 63.28L44.49 63.02zM47.31 62.50L48.37 65.44L51.50 65.54L49.03 67.46L49.90 70.46L47.31 68.70L44.72 70.46L45.60 67.46L43.13 65.54L46.25 65.44z" fill="#fb0d14" fill-rule="evenodd"/>
</g>
<text x="265.75" y="160.5" font-size="7.4" text-anchor="middle" style="fill:#0a0a0a">2023/02/06-2023/02/10</text>
<text x="208.6" y="177.9" font-size="12" fill="#000" style="fill:#000">(d)</text>
<text x="219.9" y="283.1" font-size="7.4" text-anchor="middle">30</text>
<text x="203.2" y="263.5" font-size="7.4" text-anchor="end">30</text>
<text x="243.7" y="283.1" font-size="7.4" text-anchor="middle">35</text>
<text x="203.2" y="241.4" font-size="7.4" text-anchor="end">35</text>
<text x="267.5" y="283.1" font-size="7.4" text-anchor="middle">40</text>
<text x="203.2" y="219.4" font-size="7.4" text-anchor="end">40</text>
<text x="291.3" y="283.1" font-size="7.4" text-anchor="middle">45</text>
<text x="203.2" y="197.3" font-size="7.4" text-anchor="end">45</text>
<text x="315.2" y="283.1" font-size="7.4" text-anchor="middle">50</text>
<text x="203.2" y="175.3" font-size="7.4" text-anchor="end">50</text>
<text x="265.35" y="292.5" font-size="7.3" text-anchor="middle">GeoLong</text>
<text transform="translate(190.5,218.25) rotate(-90)" font-size="7.4" text-anchor="middle">GeoLat</text>
<rect x="330.6" y="163.6" width="10.8" height="109.9" fill="url(#jet)" stroke="#000" stroke-opacity="0.35" stroke-width="0.5"/>
<text x="343.5" y="166.3" font-size="6.1">3</text>
<text x="343.5" y="193.8" font-size="6.1">2.5</text>
<text x="343.5" y="221.2" font-size="6.1">2</text>
<text x="343.5" y="248.7" font-size="6.1">1.5</text>
<text x="343.5" y="276.2" font-size="6.1">1</text>
<text transform="translate(363.3,219.55) rotate(-90)" font-size="6.4" text-anchor="middle">log<tspan font-size="4.6" dy="1.6">10</tspan><tspan dy="-1.6">(/cm</tspan><tspan font-size="4.6" dy="-2.4">2</tspan><tspan dy="2.4">/s/sr)</tspan></text>
<g transform="translate(395,13)" clip-path="url(#cle)">
<g filter="url(#bl)" shape-rendering="crispEdges">
<rect x="-4" y="-4" width="118" height="118.5" fill="#00c1ff"/>
<path fill="#0404f5" d="M2 48.22H8V50.23H2zM-4 50.23H2V52.24H-4z"/>
<path fill="#0000ff" d="M-4 48.22H2V50.23H-4zM2 50.23H4V52.24H2zM90 92.42H96V94.43H90zM88 94.43H94V96.44H88z"/>
<path fill="#0015ff" d="M6 46.21H8V48.22H6zM4 50.23H6V52.24H4zM58 70.32H66V72.33H58zM50 72.33H64V74.34H50zM58 74.34H60V76.35H58zM16 78.35H24V80.36H16zM66 84.38H74V86.39H66zM62 86.39H72V88.4H62zM60 88.4H64V90.41H60zM92 90.41H106V92.42H92zM86 92.42H90V94.43H86zM96 92.42H102V94.43H96zM86 94.43H88V96.44H86zM94 94.43H100V96.44H94zM86 96.44H98V98.45H86zM90 98.45H96V100.5H90z"/>
<path fill="#002aff" d="M4 46.21H6V48.22H4zM8 48.22H10V50.23H8zM54 70.32H58V72.33H54zM66 70.32H68V72.33H66zM48 72.33H50V74.34H48zM64 72.33H68V74.34H64zM48 74.34H58V76.35H48zM60 74.34H66V76.35H60zM18 76.35H24V78.35H18zM58 76.35H68V78.35H58zM12 78.35H16V80.36H12zM60 78.35H70V80.36H60zM10 80.36H16V82.37H10zM64 80.36H68V82.37H64zM66 82.37H74V84.38H66zM64 84.38H66V86.39H64zM60 86.39H62V88.4H60zM72 86.39H74V88.4H72zM58 88.4H60V90.41H58zM64 88.4H68V90.41H64zM100 88.4H106V90.41H100zM88 90.41H92V92.42H88zM84 92.42H86V94.43H84zM102 92.42H106V94.43H102zM84 94.43H86V96.44H84zM100 94.43H104V96.44H100zM84 96.44H86V98.45H84zM98 96.44H104V98.45H98zM84 98.45H90V100.5H84zM96 98.45H102V100.5H96zM86 100.5H98V102.5H86z"/>
<path fill="#0040ff" d="M6 50.23H8V52.24H6zM64 68.31H68V70.32H64zM52 70.32H54V72.33H52zM66 74.34H70V76.35H66zM16 76.35H18V78.35H16zM24 76.35H26V78.35H24zM68 76.35H72V78.35H68zM10 78.35H12V80.36H10zM24 78.35H26V80.36H24zM58 78.35H60V80.36H58zM70 78.35H72V80.36H70zM16 80.36H20V82.37H16zM60 80.36H64V82.37H60zM68 80.36H74V82.37H68zM62 82.37H66V84.38H62zM74 82.37H76V84.38H74zM62 84.38H64V86.39H62zM74 84.38H76V86.39H74zM58 86.39H60V88.4H58zM74 86.39H76V88.4H74zM68 88.4H72V90.41H68zM96 88.4H100V90.41H96zM58 90.41H64V92.42H58zM86 90.41H88V92.42H86zM106 90.41H108V92.42H106zM82 92.42H84V94.43H82zM82 94.43H84V96.44H82zM104 94.43H108V96.44H104zM80 96.44H84V98.45H80zM104 96.44H114V98.45H104zM80 98.45H84V100.5H80zM102 98.45H114V100.5H102zM82 100.5H86V102.5H82zM98 100.5H114V102.5H98zM84 102.5H104V104.5H84zM88 104.5H92V106.5H88z"/>
<path fill="#0055ff" d="M2 46.21H4V48.22H2zM8 46.21H10V48.22H8zM-4 52.24H2V54.25H-4zM60 68.31H64V70.32H60zM26 70.32H34V72.33H26zM50 70.32H52V72.33H50zM68 70.32H70V72.33H68zM20 72.33H34V74.34H20zM68 72.33H70V74.34H68zM18 74.34H32V76.35H18zM70 74.34H72V76.35H70zM14 76.35H16V78.35H14zM26 76.35H32V78.35H26zM56 76.35H58V78.35H56zM72 76.35H74V78.35H72zM26 78.35H30V80.36H26zM72 78.35H76V80.36H72zM24 80.36H28V82.37H24zM58 80.36H60V82.37H58zM74 80.36H76V82.37H74zM60 82.37H62V84.38H60zM76 82.37H78V84.38H76zM60 84.38H62V86.39H60zM76 84.38H78V86.39H76zM76 86.39H78V88.4H76zM72 88.4H80V90.41H72zM90 88.4H96V90.41H90zM64 90.41H86V92.42H64zM74 92.42H82V94.43H74zM106 92.42H114V94.43H106zM-4 94.43H8V96.44H-4zM76 94.43H82V96.44H76zM108 94.43H114V96.44H108zM-4 96.44H8V98.45H-4zM76 96.44H80V98.45H76zM-4 98.45H8V100.5H-4zM76 98.45H80V100.5H76zM-4 100.5H10V102.5H-4zM76 100.5H82V102.5H76zM-4 102.5H12V104.5H-4zM76 102.5H84V104.5H76zM104 102.5H114V104.5H104zM-4 104.5H14V106.5H-4zM76 104.5H88V106.5H76zM92 104.5H114V106.5H92zM-4 106.5H14V108.5H-4zM76 106.5H114V108.5H76zM-4 108.5H16V114.5H-4zM76 108.5H114V114.5H76z"/>
<path fill="#006aff" d="M-4 46.21H2V48.22H-4zM-4 58.26H8V60.27H-4zM-4 60.27H4V62.28H-4zM32 64.29H42V66.3H32zM28 66.3H42V68.31H28zM24 68.31H40V70.32H24zM58 68.31H60V70.32H58zM20 70.32H26V72.33H20zM34 70.32H38V72.33H34zM48 70.32H50V72.33H48zM18 72.33H20V74.34H18zM34 72.33H38V74.34H34zM46 72.33H48V74.34H46zM70 72.33H72V74.34H70zM16 74.34H18V76.35H16zM32 74.34H36V76.35H32zM46 74.34H48V76.35H46zM72 74.34H76V76.35H72zM12 76.35H14V78.35H12zM32 76.35H36V78.35H32zM74 76.35H78V78.35H74zM30 78.35H34V80.36H30zM76 78.35H80V80.36H76zM8 80.36H10V82.37H8zM20 80.36H24V82.37H20zM28 80.36H32V82.37H28zM76 80.36H80V82.37H76zM26 82.37H30V84.38H26zM58 82.37H60V84.38H58zM78 82.37H82V84.38H78zM24 84.38H28V86.39H24zM58 84.38H60V86.39H58zM78 84.38H82V86.39H78zM14 86.39H26V88.4H14zM78 86.39H86V88.4H78zM8 88.4H24V90.41H8zM56 88.4H58V90.41H56zM80 88.4H90V90.41H80zM106 88.4H108V90.41H106zM-4 90.41H22V92.42H-4zM56 90.41H58V92.42H56zM108 90.41H114V92.42H108zM-4 92.42H20V94.43H-4zM58 92.42H74V94.43H58zM8 94.43H18V96.44H8zM54 94.43H76V96.44H54zM8 96.44H18V98.45H8zM48 96.44H76V98.45H48zM8 98.45H20V100.5H8zM44 98.45H76V100.5H44zM10 100.5H22V102.5H10zM42 100.5H76V102.5H42zM12 102.5H22V104.5H12zM42 102.5H76V104.5H42zM14 104.5H22V106.5H14zM42 104.5H76V106.5H42zM14 106.5H22V108.5H14zM42 106.5H76V108.5H42zM16 108.5H22V114.5H16zM42 108.5H76V114.5H42z"/>
<path fill="#0080ff" d="M-4 44.2H8V46.21H-4zM10 48.22H12V50.23H10zM8 50.23H10V52.24H8zM2 52.24H6V54.25H2zM-4 54.25H14V56.25H-4zM-4 56.25H36V58.26H-4zM8 58.26H22V60.27H8zM30 58.26H36V60.27H30zM4 60.27H12V62.28H4zM32 60.27H40V62.28H32zM-4 62.28H4V64.29H-4zM32 62.28H44V64.29H32zM28 64.29H32V66.3H28zM42 64.29H44V66.3H42zM24 66.3H28V68.31H24zM42 66.3H46V68.31H42zM20 68.31H24V70.32H20zM40 68.31H46V70.32H40zM54 68.31H58V70.32H54zM18 70.32H20V72.33H18zM38 70.32H44V72.33H38zM46 70.32H48V72.33H46zM16 72.33H18V74.34H16zM38 72.33H42V74.34H38zM72 72.33H76V74.34H72zM36 74.34H40V76.35H36zM76 74.34H80V76.35H76zM36 76.35H38V78.35H36zM48 76.35H52V78.35H48zM78 76.35H82V78.35H78zM8 78.35H10V80.36H8zM34 78.35H38V80.36H34zM80 78.35H84V80.36H80zM32 80.36H36V82.37H32zM80 80.36H84V82.37H80zM10 82.37H14V84.38H10zM24 82.37H26V84.38H24zM30 82.37H36V84.38H30zM56 82.37H58V84.38H56zM82 82.37H86V84.38H82zM22 84.38H24V86.39H22zM28 84.38H34V86.39H28zM82 84.38H88V86.39H82zM12 86.39H14V88.4H12zM26 86.39H34V88.4H26zM56 86.39H58V88.4H56zM86 86.39H108V88.4H86zM6 88.4H8V90.41H6zM24 88.4H34V90.41H24zM108 88.4H114V90.41H108zM22 90.41H36V92.42H22zM54 90.41H56V92.42H54zM20 92.42H40V94.43H20zM50 92.42H58V94.43H50zM18 94.43H54V96.44H18zM18 96.44H48V98.45H18zM20 98.45H44V100.5H20zM22 100.5H42V102.5H22zM22 102.5H42V104.5H22zM22 104.5H42V106.5H22zM22 106.5H42V108.5H22zM22 108.5H42V114.5H22z"/>
<path fill="#0095ff" d="M18 34.15H30V36.16H18zM22 38.17H30V40.18H22zM10 40.18H30V42.19H10zM-4 42.19H30V44.2H-4zM8 44.2H28V46.21H8zM10 46.21H22V48.22H10zM12 48.22H18V50.23H12zM10 50.23H16V52.24H10zM6 52.24H16V54.25H6zM14 54.25H36V56.25H14zM36 56.25H38V58.26H36zM22 58.26H26V60.27H22zM28 58.26H30V60.27H28zM36 58.26H40V60.27H36zM12 60.27H14V62.28H12zM30 60.27H32V62.28H30zM40 60.27H46V62.28H40zM4 62.28H6V64.29H4zM30 62.28H32V64.29H30zM44 62.28H46V64.29H44zM-4 64.29H2V66.3H-4zM26 64.29H28V66.3H26zM44 64.29H46V66.3H44zM-4 66.3H2V68.31H-4zM20 66.3H24V68.31H20zM46 66.3H48V68.31H46zM16 68.31H20V70.32H16zM46 68.31H54V70.32H46zM68 68.31H70V70.32H68zM16 70.32H18V72.33H16zM44 70.32H46V72.33H44zM70 70.32H78V72.33H70zM84 70.32H92V72.33H84zM42 72.33H46V74.34H42zM76 72.33H94V74.34H76zM14 74.34H16V76.35H14zM40 74.34H46V76.35H40zM80 74.34H114V76.35H80zM10 76.35H12V78.35H10zM38 76.35H42V78.35H38zM46 76.35H48V78.35H46zM52 76.35H54V78.35H52zM82 76.35H114V78.35H82zM38 78.35H40V80.36H38zM84 78.35H114V80.36H84zM6 80.36H8V82.37H6zM36 80.36H38V82.37H36zM84 80.36H92V82.37H84zM100 80.36H114V82.37H100zM14 82.37H16V84.38H14zM36 82.37H38V84.38H36zM54 82.37H56V84.38H54zM86 82.37H96V84.38H86zM98 82.37H114V84.38H98zM20 84.38H22V86.39H20zM34 84.38H38V86.39H34zM56 84.38H58V86.39H56zM88 84.38H114V86.39H88zM10 86.39H12V88.4H10zM34 86.39H40V88.4H34zM108 86.39H114V88.4H108zM2 88.4H6V90.41H2zM34 88.4H40V90.41H34zM54 88.4H56V90.41H54zM36 90.41H54V92.42H36zM40 92.42H50V94.43H40z"/>
<path fill="#00aaff" d="M88 20.09H100V22.1H88zM18 30.14H40V32.15H18zM10 32.15H40V34.15H10zM8 34.15H18V36.16H8zM30 34.15H40V36.16H30zM8 36.16H40V38.17H8zM52 36.16H62V38.17H52zM6 38.17H22V40.18H6zM30 38.17H40V40.18H30zM46 38.17H58V40.18H46zM-4 40.18H10V42.19H-4zM30 40.18H40V42.19H30zM30 42.19H36V44.2H30zM28 44.2H34V46.21H28zM22 46.21H28V48.22H22zM18 48.22H20V50.23H18zM16 50.23H18V52.24H16zM16 52.24H18V54.25H16zM22 52.24H36V54.25H22zM36 54.25H38V56.25H36zM38 56.25H44V58.26H38zM26 58.26H28V60.27H26zM40 58.26H50V60.27H40zM14 60.27H18V62.28H14zM46 60.27H48V62.28H46zM6 62.28H8V64.29H6zM22 64.29H26V66.3H22zM86 64.29H92V66.3H86zM14 66.3H20V68.31H14zM82 66.3H94V68.31H82zM-4 68.31H16V70.32H-4zM70 68.31H96V70.32H70zM-4 70.32H4V72.33H-4zM78 70.32H84V72.33H78zM92 70.32H98V72.33H92zM94 72.33H114V74.34H94zM12 74.34H14V76.35H12zM8 76.35H10V78.35H8zM42 76.35H46V78.35H42zM6 78.35H8V80.36H6zM4 80.36H6V82.37H4zM56 80.36H58V82.37H56zM92 80.36H100V82.37H92zM-4 82.37H10V84.38H-4zM16 82.37H18V84.38H16zM38 82.37H40V84.38H38zM52 82.37H54V84.38H52zM96 82.37H98V84.38H96zM16 84.38H20V86.39H16zM38 84.38H42V86.39H38zM52 84.38H56V86.39H52zM8 86.39H10V88.4H8zM40 86.39H44V88.4H40zM52 86.39H56V88.4H52zM-4 88.4H2V90.41H-4zM40 88.4H54V90.41H40z"/>
<path fill="#00bfff" d="M98 18.08H100V20.09H98zM86 20.09H88V22.1H86zM100 20.09H102V22.1H100zM86 22.1H96V24.11H86zM58 26.12H62V28.13H58zM24 28.13H40V30.14H24zM58 28.13H60V30.14H58zM12 30.14H18V32.15H12zM40 30.14H42V32.15H40zM8 32.15H10V34.15H8zM40 32.15H42V34.15H40zM6 34.15H8V36.16H6zM40 34.15H42V36.16H40zM6 36.16H8V38.17H6zM40 36.16H42V38.17H40zM46 36.16H52V38.17H46zM62 36.16H64V38.17H62zM-4 38.17H6V40.18H-4zM40 38.17H44V40.18H40zM58 38.17H62V40.18H58zM40 40.18H44V42.19H40zM46 40.18H58V42.19H46zM36 42.19H56V44.2H36zM34 44.2H40V46.21H34zM52 44.2H56V46.21H52zM28 46.21H34V48.22H28zM52 46.21H58V48.22H52zM20 48.22H26V50.23H20zM48 48.22H60V50.23H48zM18 50.23H20V52.24H18zM28 50.23H64V52.24H28zM18 52.24H22V54.25H18zM36 52.24H66V54.25H36zM38 54.25H66V56.25H38zM44 56.25H62V58.26H44zM50 58.26H54V60.27H50zM18 60.27H20V62.28H18zM48 60.27H50V62.28H48zM88 60.27H94V62.28H88zM8 62.28H10V64.29H8zM28 62.28H30V64.29H28zM46 62.28H48V64.29H46zM84 62.28H96V64.29H84zM20 64.29H22V66.3H20zM46 64.29H48V66.3H46zM80 64.29H86V66.3H80zM92 64.29H96V66.3H92zM10 66.3H14V68.31H10zM48 66.3H68V68.31H48zM76 66.3H82V68.31H76zM94 66.3H96V68.31H94zM96 68.31H98V70.32H96zM4 70.32H12V72.33H4zM14 70.32H16V72.33H14zM98 70.32H106V72.33H98zM6 76.35H8V78.35H6zM54 76.35H56V78.35H54zM2 78.35H6V80.36H2zM-4 80.36H4V82.37H-4zM38 80.36H40V82.37H38zM18 82.37H24V84.38H18zM50 82.37H52V84.38H50zM-4 84.38H2V86.39H-4zM10 84.38H16V86.39H10zM42 84.38H52V86.39H42zM6 86.39H8V88.4H6zM44 86.39H52V88.4H44z"/>
<path fill="#00d4ff" d="M18 18.08H24V20.09H18zM60 18.08H70V20.09H60zM94 18.08H98V20.09H94zM100 18.08H102V20.09H100zM10 20.09H14V22.1H10zM50 20.09H68V22.1H50zM84 20.09H86V22.1H84zM50 22.1H66V24.11H50zM84 22.1H86V24.11H84zM96 22.1H98V24.11H96zM52 24.11H66V26.12H52zM92 24.11H98V26.12H92zM52 26.12H58V28.13H52zM62 26.12H66V28.13H62zM92 26.12H98V28.13H92zM14 28.13H24V30.14H14zM40 28.13H42V30.14H40zM52 28.13H58V30.14H52zM60 28.13H64V30.14H60zM8 30.14H12V32.15H8zM42 30.14H44V32.15H42zM52 30.14H62V32.15H52zM6 32.15H8V34.15H6zM42 32.15H44V34.15H42zM52 32.15H62V34.15H52zM4 34.15H6V36.16H4zM42 34.15H44V36.16H42zM48 34.15H64V36.16H48zM2 36.16H6V38.17H2zM42 36.16H46V38.17H42zM64 36.16H66V38.17H64zM44 38.17H46V40.18H44zM62 38.17H66V40.18H62zM44 40.18H46V42.19H44zM58 40.18H60V42.19H58zM56 42.19H60V44.2H56zM40 44.2H52V46.21H40zM56 44.2H60V46.21H56zM34 46.21H52V48.22H34zM58 46.21H62V48.22H58zM26 48.22H48V50.23H26zM60 48.22H66V50.23H60zM20 50.23H28V52.24H20zM64 50.23H70V52.24H64zM66 52.24H72V54.25H66zM66 54.25H72V56.25H66zM62 56.25H68V58.26H62zM54 58.26H60V60.27H54zM84 58.26H98V60.27H84zM20 60.27H30V62.28H20zM50 60.27H54V62.28H50zM84 60.27H88V62.28H84zM94 60.27H98V62.28H94zM10 62.28H14V64.29H10zM24 62.28H28V64.29H24zM48 62.28H50V64.29H48zM80 62.28H84V64.29H80zM96 62.28H98V64.29H96zM2 64.29H6V66.3H2zM16 64.29H20V66.3H16zM48 64.29H54V66.3H48zM76 64.29H80V66.3H76zM2 66.3H10V68.31H2zM68 66.3H76V68.31H68zM12 70.32H14V72.33H12zM106 70.32H114V72.33H106zM-4 72.33H6V74.34H-4zM12 72.33H16V74.34H12zM8 74.34H12V76.35H8zM4 76.35H6V78.35H4zM-4 78.35H2V80.36H-4zM2 84.38H10V86.39H2zM-4 86.39H6V88.4H-4z"/>
<path fill="#00eaff" d="M54 6.027H60V8.036H54zM46 8.036H56V10.05H46zM42 10.05H50V12.05H42zM24 16.07H26V18.08H24zM14 18.08H18V20.09H14zM24 18.08H28V20.09H24zM54 18.08H60V20.09H54zM70 18.08H72V20.09H70zM92 18.08H94V20.09H92zM8 20.09H10V22.1H8zM14 20.09H20V22.1H14zM68 20.09H70V22.1H68zM66 22.1H68V24.11H66zM98 22.1H100V24.11H98zM48 24.11H52V26.12H48zM66 24.11H68V26.12H66zM90 24.11H92V26.12H90zM98 24.11H102V26.12H98zM16 26.12H40V28.13H16zM48 26.12H52V28.13H48zM66 26.12H68V28.13H66zM90 26.12H92V28.13H90zM98 26.12H102V28.13H98zM12 28.13H14V30.14H12zM42 28.13H44V30.14H42zM46 28.13H52V30.14H46zM64 28.13H68V30.14H64zM90 28.13H100V30.14H90zM44 30.14H52V32.15H44zM62 30.14H64V32.15H62zM44 32.15H52V34.15H44zM62 32.15H64V34.15H62zM44 34.15H48V36.16H44zM64 34.15H66V36.16H64zM-4 36.16H2V38.17H-4zM60 40.18H64V42.19H60zM60 42.19H64V44.2H60zM60 44.2H64V46.21H60zM62 46.21H68V48.22H62zM66 48.22H72V50.23H66zM70 50.23H76V52.24H70zM72 52.24H78V54.25H72zM102 52.24H114V54.25H102zM72 54.25H78V56.25H72zM82 54.25H114V56.25H82zM68 56.25H76V58.26H68zM82 56.25H108V58.26H82zM60 58.26H68V60.27H60zM82 58.26H84V60.27H82zM98 58.26H104V60.27H98zM54 60.27H62V62.28H54zM78 60.27H84V62.28H78zM98 60.27H102V62.28H98zM14 62.28H24V64.29H14zM50 62.28H60V64.29H50zM74 62.28H80V64.29H74zM6 64.29H16V66.3H6zM54 64.29H66V66.3H54zM68 64.29H76V66.3H68zM96 64.29H98V66.3H96zM96 66.3H98V68.31H96zM98 68.31H114V70.32H98zM6 72.33H12V74.34H6zM-4 74.34H8V76.35H-4zM-4 76.35H4V78.35H-4zM40 78.35H42V80.36H40zM48 82.37H50V84.38H48z"/>
<path fill="#00ffff" d="M50 6.027H54V8.036H50zM60 6.027H62V8.036H60zM42 8.036H46V10.05H42zM56 8.036H60V10.05H56zM40 10.05H42V12.05H40zM50 10.05H54V12.05H50zM42 12.05H44V14.06H42zM22 16.07H24V18.08H22zM26 16.07H28V18.08H26zM10 18.08H14V20.09H10zM50 18.08H54V20.09H50zM90 18.08H92V20.09H90zM20 20.09H24V22.1H20zM48 20.09H50V22.1H48zM70 20.09H72V22.1H70zM10 22.1H12V24.11H10zM46 22.1H50V24.11H46zM68 22.1H70V24.11H68zM100 22.1H102V24.11H100zM16 24.11H32V26.12H16zM38 24.11H40V26.12H38zM42 24.11H48V26.12H42zM68 24.11H72V26.12H68zM86 24.11H90V26.12H86zM102 24.11H104V26.12H102zM12 26.12H16V28.13H12zM40 26.12H48V28.13H40zM68 26.12H72V28.13H68zM88 26.12H90V28.13H88zM102 26.12H104V28.13H102zM8 28.13H12V30.14H8zM44 28.13H46V30.14H44zM68 28.13H70V30.14H68zM100 28.13H104V30.14H100zM6 30.14H8V32.15H6zM64 30.14H66V32.15H64zM90 30.14H100V32.15H90zM4 32.15H6V34.15H4zM-4 34.15H4V36.16H-4zM64 40.18H66V42.19H64zM64 42.19H68V44.2H64zM64 44.2H72V46.21H64zM68 46.21H76V48.22H68zM72 48.22H80V50.23H72zM76 50.23H114V52.24H76zM78 52.24H102V54.25H78zM78 54.25H82V56.25H78zM76 56.25H82V58.26H76zM108 56.25H114V58.26H108zM68 58.26H82V60.27H68zM104 58.26H114V60.27H104zM62 60.27H78V62.28H62zM102 60.27H106V62.28H102zM60 62.28H74V64.29H60zM98 62.28H100V64.29H98zM66 64.29H68V66.3H66zM56 78.35H58V80.36H56z"/>
<path fill="#15ffea" d="M56 4.018H62V6.027H56zM46 6.027H50V8.036H46zM60 8.036H62V10.05H60zM54 10.05H56V12.05H54zM40 12.05H42V14.06H40zM44 12.05H56V14.06H44zM46 14.06H62V16.07H46zM18 16.07H22V18.08H18zM46 16.07H72V18.08H46zM44 18.08H50V20.09H44zM88 18.08H90V20.09H88zM24 20.09H28V22.1H24zM42 20.09H48V22.1H42zM102 20.09H104V22.1H102zM8 22.1H10V24.11H8zM12 22.1H46V24.11H12zM70 22.1H74V24.11H70zM102 22.1H106V24.11H102zM12 24.11H16V26.12H12zM32 24.11H38V26.12H32zM40 24.11H42V26.12H40zM72 24.11H74V26.12H72zM84 24.11H86V26.12H84zM104 24.11H108V26.12H104zM10 26.12H12V28.13H10zM72 26.12H74V28.13H72zM86 26.12H88V28.13H86zM104 26.12H114V28.13H104zM6 28.13H8V30.14H6zM70 28.13H72V30.14H70zM88 28.13H90V30.14H88zM104 28.13H114V30.14H104zM4 30.14H6V32.15H4zM66 30.14H68V32.15H66zM88 30.14H90V32.15H88zM100 30.14H114V32.15H100zM-4 32.15H4V34.15H-4zM64 32.15H66V34.15H64zM90 32.15H114V34.15H90zM66 36.16H68V38.17H66zM66 38.17H70V40.18H66zM66 40.18H74V42.19H66zM68 42.19H80V44.2H68zM72 44.2H86V46.21H72zM76 46.21H114V48.22H76zM80 48.22H114V50.23H80zM106 60.27H108V62.28H106zM46 82.37H48V84.38H46z"/>
<path fill="#2bffd4" d="M50 4.018H56V6.027H50zM40 8.036H42V10.05H40zM56 10.05H60V12.05H56zM56 12.05H70V14.06H56zM42 14.06H46V16.07H42zM62 14.06H68V16.07H62zM16 16.07H18V18.08H16zM40 16.07H46V18.08H40zM8 18.08H10V20.09H8zM28 18.08H30V20.09H28zM38 18.08H44V20.09H38zM72 18.08H74V20.09H72zM86 18.08H88V20.09H86zM102 18.08H104V20.09H102zM28 20.09H42V22.1H28zM72 20.09H74V22.1H72zM104 20.09H106V22.1H104zM74 22.1H76V24.11H74zM82 22.1H84V24.11H82zM106 22.1H114V24.11H106zM8 24.11H12V26.12H8zM74 24.11H78V26.12H74zM82 24.11H84V26.12H82zM108 24.11H114V26.12H108zM6 26.12H10V28.13H6zM74 26.12H78V28.13H74zM82 26.12H86V28.13H82zM4 28.13H6V30.14H4zM72 28.13H76V30.14H72zM86 28.13H88V30.14H86zM-4 30.14H4V32.15H-4zM68 30.14H72V32.15H68zM86 30.14H88V32.15H86zM66 32.15H70V34.15H66zM86 32.15H90V34.15H86zM66 34.15H70V36.16H66zM82 34.15H114V36.16H82zM68 36.16H114V38.17H68zM70 38.17H114V40.18H70zM74 40.18H114V42.19H74zM80 42.19H114V44.2H80zM86 44.2H114V46.21H86zM108 60.27H114V62.28H108zM100 62.28H102V64.29H100zM108 66.3H114V68.31H108zM42 78.35H44V80.36H42zM44 82.37H46V84.38H44z"/>
<path fill="#40ffbf" d="M48 -4H56V2.009H48zM48 2.009H58V4.018H48zM46 4.018H50V6.027H46zM44 6.027H46V8.036H44zM62 6.027H64V8.036H62zM62 8.036H64V10.05H62zM38 10.05H40V12.05H38zM60 10.05H80V12.05H60zM38 12.05H40V14.06H38zM70 12.05H76V14.06H70zM38 14.06H42V16.07H38zM68 14.06H72V16.07H68zM14 16.07H16V18.08H14zM28 16.07H30V18.08H28zM36 16.07H40V18.08H36zM72 16.07H74V18.08H72zM98 16.07H100V18.08H98zM30 18.08H38V20.09H30zM74 18.08H78V20.09H74zM84 18.08H86V20.09H84zM104 18.08H106V20.09H104zM6 20.09H8V22.1H6zM74 20.09H84V22.1H74zM106 20.09H114V22.1H106zM6 22.1H8V24.11H6zM76 22.1H82V24.11H76zM6 24.11H8V26.12H6zM78 24.11H82V26.12H78zM-4 26.12H6V28.13H-4zM78 26.12H82V28.13H78zM-4 28.13H4V30.14H-4zM76 28.13H86V30.14H76zM72 30.14H86V32.15H72zM70 32.15H86V34.15H70zM70 34.15H82V36.16H70zM102 62.28H104V64.29H102zM106 66.3H108V68.31H106zM40 82.37H42V84.38H40z"/>
<path fill="#55ffaa" d="M46 -4H48V2.009H46zM56 -4H60V2.009H56zM46 2.009H48V4.018H46zM58 2.009H62V4.018H58zM62 4.018H64V6.027H62zM42 6.027H44V8.036H42zM64 8.036H66V10.05H64zM70 8.036H82V10.05H70zM80 10.05H82V12.05H80zM76 12.05H80V14.06H76zM26 14.06H28V16.07H26zM34 14.06H38V16.07H34zM72 14.06H76V16.07H72zM12 16.07H14V18.08H12zM30 16.07H36V18.08H30zM74 16.07H98V18.08H74zM100 16.07H102V18.08H100zM6 18.08H8V20.09H6zM78 18.08H84V20.09H78zM106 18.08H114V20.09H106zM2 22.1H6V24.11H2zM-4 24.11H6V26.12H-4zM104 62.28H106V64.29H104zM98 66.3H100V68.31H98zM104 66.3H106V68.31H104zM44 78.35H46V80.36H44zM54 80.36H56V82.37H54zM42 82.37H44V84.38H42z"/>
<path fill="#6aff95" d="M-4 -4H12V2.009H-4zM44 -4H46V2.009H44zM60 -4H64V2.009H60zM-4 2.009H12V4.018H-4zM62 2.009H64V4.018H62zM-4 4.018H10V6.027H-4zM44 4.018H46V6.027H44zM64 4.018H66V6.027H64zM-4 6.027H10V8.036H-4zM64 6.027H68V8.036H64zM-4 8.036H8V10.05H-4zM38 8.036H40V10.05H38zM66 8.036H70V10.05H66zM-4 10.05H6V12.05H-4zM36 10.05H38V12.05H36zM-4 12.05H2V14.06H-4zM32 12.05H38V14.06H32zM80 12.05H82V14.06H80zM12 14.06H22V16.07H12zM24 14.06H26V16.07H24zM28 14.06H34V16.07H28zM76 14.06H88V16.07H76zM-4 16.07H12V18.08H-4zM102 16.07H114V18.08H102zM-4 18.08H6V20.09H-4zM-4 20.09H6V22.1H-4zM-4 22.1H2V24.11H-4zM106 62.28H108V64.29H106zM98 64.29H100V66.3H98zM100 66.3H104V68.31H100z"/>
<path fill="#80ff80" d="M12 -4H16V2.009H12zM64 -4H76V2.009H64zM12 2.009H16V4.018H12zM44 2.009H46V4.018H44zM64 2.009H76V4.018H64zM10 4.018H16V6.027H10zM66 4.018H78V6.027H66zM10 6.027H16V8.036H10zM40 6.027H42V8.036H40zM68 6.027H82V8.036H68zM8 8.036H18V10.05H8zM6 10.05H20V12.05H6zM34 10.05H36V12.05H34zM82 10.05H84V12.05H82zM2 12.05H20V14.06H2zM30 12.05H32V14.06H30zM82 12.05H90V14.06H82zM-4 14.06H12V16.07H-4zM22 14.06H24V16.07H22zM88 14.06H114V16.07H88zM108 62.28H114V64.29H108zM100 64.29H114V66.3H100zM46 78.35H48V80.36H46zM52 80.36H54V82.37H52z"/>
<path fill="#95ff6a" d="M16 -4H20V2.009H16zM38 -4H40V2.009H38zM42 -4H44V2.009H42zM76 -4H82V2.009H76zM16 2.009H20V4.018H16zM76 2.009H82V4.018H76zM16 4.018H22V6.027H16zM42 4.018H44V6.027H42zM78 4.018H82V6.027H78zM16 6.027H22V8.036H16zM18 8.036H22V10.05H18zM36 8.036H38V10.05H36zM82 8.036H84V10.05H82zM20 10.05H22V12.05H20zM32 10.05H34V12.05H32zM84 10.05H86V12.05H84zM104 10.05H114V12.05H104zM20 12.05H22V14.06H20zM28 12.05H30V14.06H28zM90 12.05H114V14.06H90zM48 78.35H50V80.36H48z"/>
<path fill="#aaff55" d="M20 -4H26V2.009H20zM32 -4H38V2.009H32zM40 -4H42V2.009H40zM82 -4H86V2.009H82zM20 2.009H26V4.018H20zM34 2.009H36V4.018H34zM82 2.009H86V4.018H82zM22 4.018H28V6.027H22zM82 4.018H86V6.027H82zM22 6.027H26V8.036H22zM38 6.027H40V8.036H38zM82 6.027H84V8.036H82zM22 8.036H24V10.05H22zM34 8.036H36V10.05H34zM102 8.036H114V10.05H102zM30 10.05H32V12.05H30zM86 10.05H104V12.05H86zM26 12.05H28V14.06H26zM50 78.35H56V80.36H50zM40 80.36H42V82.37H40zM50 80.36H52V82.37H50z"/>
<path fill="#bfff40" d="M26 -4H32V2.009H26zM86 -4H114V2.009H86zM26 2.009H34V4.018H26zM36 2.009H44V4.018H36zM86 2.009H94V4.018H86zM28 4.018H36V6.027H28zM38 4.018H42V6.027H38zM86 4.018H90V6.027H86zM26 6.027H30V8.036H26zM36 6.027H38V8.036H36zM84 6.027H86V8.036H84zM102 6.027H114V8.036H102zM24 8.036H28V10.05H24zM32 8.036H34V10.05H32zM84 8.036H102V10.05H84zM22 10.05H30V12.05H22zM22 12.05H26V14.06H22zM42 80.36H50V82.37H42z"/>
<path fill="#d5ff2a" d="M94 2.009H114V4.018H94zM36 4.018H38V6.027H36zM90 4.018H114V6.027H90zM30 6.027H36V8.036H30zM86 6.027H102V8.036H86zM28 8.036H32V10.05H28z"/>
</g>
<path d="M8.8 48.4L4.4 46.6L4.0 44.8L2.2 42.6L3.6 39.6L6.6 37.8L6.6 34.7L8.8 32.5L11.4 30.3L13.6 27.6L16.3 25.0L21.1 24.1L22.9 26.3L28.1 26.8L25.9 28.1L23.7 29.9L27.7 33.4L30.3 34.3L35.6 32.1L37.3 31.2L41.3 30.7L42.1 29.9L36.9 29.9L34.7 28.5L35.1 26.3L37.3 25.0L42.6 24.1L47.9 22.4L53.1 21.9L50.0 23.7L47.0 24.6L49.2 26.3L47.4 27.2L47.9 29.0L46.1 29.9L43.0 30.7L44.8 32.5L48.7 34.3L53.1 36.9L56.6 39.1L61.0 41.3L63.2 43.5L63.6 46.6L61.9 47.9L57.9 49.3L54.4 48.8L49.6 49.7L45.7 48.8L41.7 47.9L39.5 46.2L35.1 44.8L30.3 44.8L27.2 44.8L22.9 45.7L18.9 47.9L14.1 48.4L8.8 48.4M-0.4 51.0L2.2 51.9L7.9 51.9L11.0 50.4L8.4 49.3L4.0 49.3L1.4 50.1L-0.4 50.8M109.3 23.2L104.9 23.2L100.5 24.6L97.0 25.4L93.9 27.2L89.5 28.5L86.4 30.3L86.0 33.4L88.6 36.9L89.5 40.4L91.7 44.8L94.3 45.7L97.0 49.3L98.3 51.0L101.8 51.9L97.9 53.7L97.4 56.7L95.7 60.3L96.1 64.2L101.4 65.1L104.9 67.8L109.3 68.2M109.3 29.9L106.2 30.7L104.9 33.4L101.8 34.3L104.4 38.2L106.2 39.6L109.3 41.3M-0.4 68.2L4.9 68.2L8.8 70.0L11.4 70.4L14.5 70.0L15.4 67.8L17.1 67.6L21.5 69.1L24.2 70.9L28.6 70.4L32.9 67.8L37.3 68.7L40.0 67.8L39.1 70.0L38.2 72.2L38.6 75.7L38.2 77.9L36.9 80.6L35.1 84.1L34.3 87.6L32.5 91.1L31.2 92.0L28.1 92.9L24.2 92.9L22.9 92.0L20.7 91.1L17.1 90.7L14.1 91.6L10.6 93.8L6.2 93.3L-0.4 91.6M23.9 97.8L23.3 100.0L24.6 103.0L26.8 106.6L28.6 109.7L29.4 111.0M23.9 97.8L24.6 100.0L26.8 103.9L28.6 107.0L31.2 107.7L32.5 105.3L34.3 100.0L33.8 104.4L35.6 108.8L36.9 111.0M22.9 75.7L25.5 74.8L28.6 74.2L32.9 72.6L30.3 75.7L28.6 76.6L25.9 77.5L23.3 77.0L22.9 75.7M90.4 97.3L92.6 97.8L94.3 98.2L95.7 96.4L97.0 95.6L98.7 97.3L101.4 96.9L103.1 100.0L104.4 103.0L106.6 107.0L109.3 108.8M92.6 97.8L91.5 99.5L92.6 102.2L93.9 104.8L95.2 107.5L97.0 109.7L98.3 111.0M-0.4 60.7L0.9 60.7L0.5 62.9L2.2 66.0L0.9 66.9L5.3 66.9L1.8 68.0" fill="none" stroke="#0a0a0a" stroke-width="0.7" stroke-linejoin="round"/>
<path d="M43.55 55.20L46.37 63.02L54.68 63.28L48.11 68.38L50.43 76.37L43.55 71.70L36.67 76.37L38.99 68.38L32.42 63.28L40.73 63.02zM43.55 62.50L44.61 65.44L47.73 65.54L45.27 67.46L46.14 70.46L43.55 68.70L40.96 70.46L41.83 67.46L39.37 65.54L42.49 65.44z" fill="#fb0d14" fill-rule="evenodd"/>
</g>
<text x="450" y="10.5" font-size="7.4" text-anchor="middle" style="fill:#0a0a0a">2023/02/11-2023/02/15</text>
<text x="397.6" y="27.9" font-size="12" fill="#000" style="fill:#000">(e)</text>
<text x="407.8" y="133.1" font-size="7.4" text-anchor="middle">30</text>
<text x="392.2" y="113.5" font-size="7.4" text-anchor="end">30</text>
<text x="429.7" y="133.1" font-size="7.4" text-anchor="middle">35</text>
<text x="392.2" y="91.4" font-size="7.4" text-anchor="end">35</text>
<text x="451.6" y="133.1" font-size="7.4" text-anchor="middle">40</text>
<text x="392.2" y="69.4" font-size="7.4" text-anchor="end">40</text>
<text x="473.6" y="133.1" font-size="7.4" text-anchor="middle">45</text>
<text x="392.2" y="47.3" font-size="7.4" text-anchor="end">45</text>
<text x="495.5" y="133.1" font-size="7.4" text-anchor="middle">50</text>
<text x="392.2" y="25.3" font-size="7.4" text-anchor="end">50</text>
<text x="449.6" y="142.5" font-size="7.3" text-anchor="middle">GeoLong</text>
<text transform="translate(380.1,68.25) rotate(-90)" font-size="7.4" text-anchor="middle">GeoLat</text>
<rect x="509.1" y="13.6" width="10.9" height="109.9" fill="url(#jet)" stroke="#000" stroke-opacity="0.35" stroke-width="0.5"/>
<text x="522.1" y="16.3" font-size="6.1">3</text>
<text x="522.1" y="43.8" font-size="6.1">2.5</text>
<text x="522.1" y="71.2" font-size="6.1">2</text>
<text x="522.1" y="98.7" font-size="6.1">1.5</text>
<text x="522.1" y="126.2" font-size="6.1">1</text>
<text transform="translate(541.9,69.55) rotate(-90)" font-size="6.4" text-anchor="middle">log<tspan font-size="4.6" dy="1.6">10</tspan><tspan dy="-1.6">(/cm</tspan><tspan font-size="4.6" dy="-2.4">2</tspan><tspan dy="2.4">/s/sr)</tspan></text>
<path d="M475.3 122.8L460.7 108.2" stroke="#fb0d14" stroke-width="2.5" fill="none"/>
<polygon points="456.2,103.8 463.1,106.5 459.0,110.7" fill="#fb0d14"/>
<rect x="375" y="194" width="166" height="62" fill="#fff" stroke="#c8c8c8" stroke-width="1"/>
<rect x="375.5" y="194.5" width="65.5" height="11.9" fill="#f0f0f0"/>
<text class="m" x="408.5" y="202.2" font-size="5.95" text-anchor="middle" style="fill:#808080">Time</text>
<text x="442.2" y="202.9" font-size="7.95" style="fill:#111">2023/02/06 18:24:50</text>
<rect x="375.5" y="206.9" width="65.5" height="11.9" fill="#f0f0f0"/>
<rect x="441.5" y="206.9" width="99" height="11.9" fill="#efefef"/>
<path d="M375 206.4H441" stroke="#d0d0d0" stroke-width="0.8"/>
<text class="m" x="408.5" y="214.6" font-size="5.95" text-anchor="middle" style="fill:#808080">location</text>
<text x="442.2" y="215.3" font-size="7.95" style="fill:#111">The Republic of Türkiye</text>
<rect x="375.5" y="219.3" width="65.5" height="11.9" fill="#f0f0f0"/>
<path d="M375 218.8H441" stroke="#d0d0d0" stroke-width="0.8"/>
<text class="m" x="408.5" y="227" font-size="5.95" text-anchor="middle" style="fill:#808080">Magnitude</text>
<text x="442.2" y="227.7" font-size="7.95" style="fill:#111">7.8</text>
<rect x="375.5" y="231.7" width="65.5" height="11.9" fill="#f0f0f0"/>
<rect x="441.5" y="231.7" width="99" height="11.9" fill="#efefef"/>
<path d="M375 231.2H441" stroke="#d0d0d0" stroke-width="0.8"/>
<text class="m" x="408.5" y="239.4" font-size="5.95" text-anchor="middle" style="fill:#808080">Coordinates</text>
<text x="442.2" y="240.1" font-size="7.95" style="fill:#111">(38.0,37.15)</text>
<rect x="375.5" y="244.1" width="65.5" height="11.9" fill="#f0f0f0"/>
<path d="M375 243.6H441" stroke="#d0d0d0" stroke-width="0.8"/>
<text class="m" x="408.5" y="251.8" font-size="5.95" text-anchor="middle" style="fill:#808080">Depth</text>
<text x="442.2" y="252.5" font-size="7.95" style="fill:#111">20km</text>
<path d="M441 194V256" stroke="#c8c8c8" stroke-width="0.8"/>
<rect x="375" y="194" width="166" height="62" fill="none" stroke="#c4c4c4" stroke-width="1"/>
</svg></body></html>
